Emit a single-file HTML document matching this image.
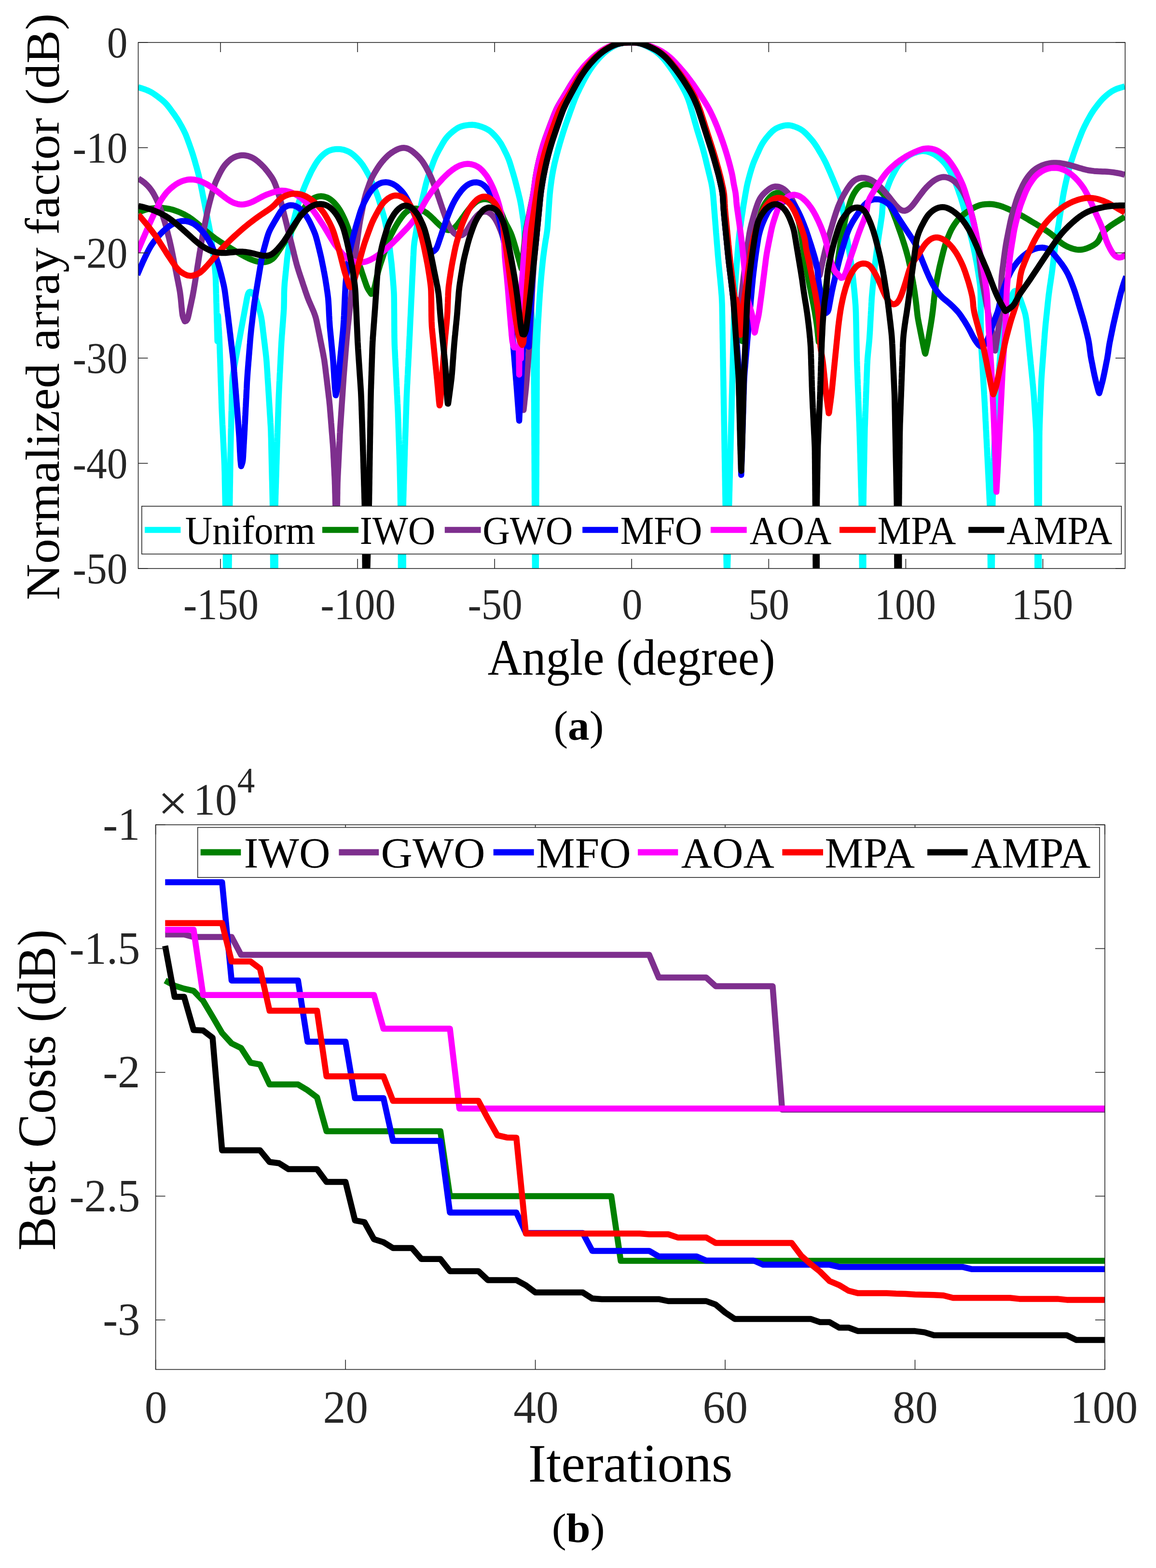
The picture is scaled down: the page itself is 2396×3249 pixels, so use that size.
<!DOCTYPE html><html><head><meta charset="utf-8"><style>html,body{margin:0;padding:0;background:#fff;}svg{display:block;}text{font-family:"Liberation Serif","Times New Roman",serif;}</style></head><body>
<svg xmlns="http://www.w3.org/2000/svg" width="2396" height="3249" viewBox="0 0 2396 3249">
<rect width="2396" height="3249" fill="#fff"/>
<defs><clipPath id="ca"><rect x="286.5" y="88.0" width="2045.5" height="1090.0"/></clipPath><clipPath id="cb"><rect x="322.6" y="1709.0" width="1967.4" height="1128.6"/></clipPath></defs>
<g clip-path="url(#ca)" fill="none" stroke-linejoin="round" stroke-linecap="butt">
<path d="M286.3,180.7 L294.6,183.3 L297.1,184.1 L300.2,185.2 L303.7,186.5 L307.6,188.1 L311.5,190.0 L315.3,192.1 L319.1,194.6 L322.7,197.1 L326.4,199.8 L329.9,202.5 L333.5,205.3 L337.0,208.1 L340.3,211.1 L343.4,214.2 L346.4,217.5 L349.2,221.0 L351.9,224.6 L354.6,228.2 L357.2,231.8 L359.9,235.5 L362.5,239.2 L365.0,242.9 L367.5,246.6 L369.9,250.4 L372.2,254.3 L374.4,258.2 L376.6,262.1 L378.7,266.1 L380.8,270.1 L382.7,274.1 L384.6,278.2 L386.3,282.4 L387.9,286.5 L389.4,290.8 L391.0,295.0 L392.5,299.2 L394.0,303.5 L395.5,307.7 L397.0,312.0 L398.4,316.2 L399.8,320.5 L401.1,324.8 L402.4,329.1 L403.7,333.4 L404.9,337.8 L406.1,342.1 L407.4,346.4 L408.6,350.8 L409.8,355.1 L410.9,359.4 L412.0,363.8 L413.0,368.2 L414.0,372.6 L414.9,377.0 L415.8,381.4 L416.7,385.8 L417.6,390.2 L418.5,394.6 L419.4,399.0 L420.2,403.5 L421.1,407.9 L422.0,412.3 L422.9,416.7 L423.8,421.1 L424.6,425.5 L425.5,429.9 L426.4,434.4 L427.3,438.8 L428.2,443.2 L429.1,447.6 L429.9,452.0 L430.8,456.4 L431.7,460.8 L432.6,465.2 L433.5,469.7 L434.3,474.1 L435.2,478.5 L436.0,482.9 L436.8,487.3 L437.5,491.8 L438.1,496.2 L438.7,500.7 L439.3,505.2 L439.8,509.6 L440.4,514.1 L440.9,518.6 L441.4,523.0 L442.0,527.5 L442.5,532.0 L443.1,536.4 L443.6,540.9 L444.1,545.4 L444.7,549.8 L445.2,554.3 L445.7,558.8 L446.1,563.3 L446.5,567.7 L446.8,572.2 L447.0,576.7 L447.2,581.2 L447.3,585.7 L447.4,590.2 L447.6,594.7 L447.7,599.2 L447.8,603.7 L447.9,608.2 L448.1,612.7 L448.2,617.2 L448.3,621.7 L448.4,626.2 L448.6,630.7 L448.7,635.2 L448.8,639.7 L448.9,644.2 L449.0,648.7 L449.2,653.2 L449.3,657.7 L449.4,662.2 L449.5,666.7 L449.7,671.2 L449.8,675.7 L449.9,680.2 L450.0,684.7 L450.2,689.2 L450.3,693.7 L450.4,698.2 L450.5,702.7 L450.7,707.1 L450.7,706.1 L450.8,701.7 L450.9,697.2 L450.9,692.7 L451.0,688.2 L451.0,683.7 L451.1,679.2 L451.2,674.7 L451.2,670.2 L451.3,665.8 L451.4,661.6 L451.4,657.9 L451.5,655.1 L451.7,653.8 L451.8,654.2 L452.1,656.3 L452.3,659.6 L452.5,663.6 L452.8,667.9 L453.1,672.4 L453.3,676.9 L453.6,681.4 L453.9,685.9 L454.1,690.4 L454.3,694.9 L454.6,699.4 L454.8,703.9 L454.9,708.4 L455.1,712.8 L455.3,717.3 L455.4,721.8 L455.6,726.3 L455.7,730.8 L455.9,735.3 L456.0,739.8 L456.2,744.3 L456.3,748.8 L456.5,753.3 L456.6,757.8 L456.8,762.3 L456.9,766.8 L457.0,771.3 L457.2,775.8 L457.3,780.3 L457.5,784.8 L457.6,789.3 L457.8,793.8 L457.9,798.3 L458.1,802.8 L458.2,807.3 L458.4,811.8 L458.5,816.3 L458.7,820.8 L458.8,825.3 L459.0,829.8 L459.1,834.3 L459.3,838.8 L459.4,843.3 L459.6,847.8 L459.8,852.3 L460.0,856.8 L460.2,861.3 L460.4,865.8 L460.6,870.3 L460.8,874.8 L461.0,879.3 L461.3,883.8 L461.5,888.3 L461.7,892.7 L461.9,897.2 L462.2,901.7 L462.4,906.2 L462.6,910.7 L462.8,915.2 L463.1,919.7 L463.3,924.2 L463.5,928.7 L463.7,933.2 L464.0,937.7 L464.2,942.2 L464.4,946.7 L464.6,951.2 L464.8,955.7 L465.0,960.2 L465.2,964.7 L465.3,969.2 L465.4,973.7 L465.6,978.2 L465.7,982.7 L465.8,987.2 L465.8,991.7 L465.9,996.2 L466.0,1000.7 L466.1,1005.2 L466.2,1009.7 L466.3,1014.2 L466.4,1018.7 L466.5,1023.2 L466.6,1027.7 L466.7,1032.2 L466.8,1036.7 L466.9,1041.2 L467.0,1045.7 L467.0,1050.2 L467.1,1054.7 L467.1,1059.2 L467.2,1063.7 L467.2,1068.2 L467.3,1072.7 L467.3,1077.2 L467.3,1081.7 L467.4,1086.2 L467.4,1090.7 L467.4,1095.2 L467.5,1099.7 L467.5,1104.2 L467.5,1108.7 L467.6,1113.2 L467.6,1117.7 L467.7,1122.2 L467.7,1126.7 L467.7,1131.2 L467.8,1135.7 L467.8,1140.2 L467.8,1144.7 L467.9,1149.2 L467.9,1153.7 L467.9,1158.2 L468.0,1162.7 L468.0,1167.2 L468.1,1171.7 L468.1,1176.2 L468.4,1180.4 L472.2,1181.1 L474.3,1178.7 L474.4,1174.2 L474.5,1169.7 L474.5,1165.2 L474.6,1160.7 L474.6,1156.2 L474.7,1151.7 L474.8,1147.2 L474.8,1142.7 L474.9,1138.2 L475.0,1133.7 L475.0,1129.2 L475.1,1124.7 L475.1,1120.2 L475.2,1115.7 L475.3,1111.2 L475.3,1106.7 L475.4,1102.2 L475.4,1097.7 L475.5,1093.2 L475.6,1088.7 L475.6,1084.2 L475.7,1079.7 L475.7,1075.2 L475.8,1070.7 L475.9,1066.2 L475.9,1061.7 L476.0,1057.2 L476.0,1052.7 L476.1,1048.2 L476.2,1043.7 L476.2,1039.2 L476.3,1034.7 L476.4,1030.2 L476.4,1025.7 L476.5,1021.2 L476.6,1016.7 L476.6,1012.2 L476.7,1007.7 L476.8,1003.2 L476.9,998.7 L476.9,994.2 L477.0,989.7 L477.1,985.2 L477.1,980.7 L477.2,976.2 L477.3,971.7 L477.3,967.2 L477.4,962.7 L477.5,958.2 L477.5,953.7 L477.6,949.2 L477.7,944.7 L477.7,940.2 L477.8,935.7 L477.9,931.2 L478.0,926.7 L478.1,922.2 L478.2,917.7 L478.3,913.2 L478.4,908.7 L478.5,904.2 L478.6,899.7 L478.7,895.2 L478.8,890.7 L479.0,886.2 L479.1,881.7 L479.2,877.2 L479.3,872.7 L479.4,868.2 L479.5,863.7 L479.6,859.2 L479.7,854.7 L479.9,850.2 L480.0,845.7 L480.1,841.2 L480.2,836.7 L480.3,832.2 L480.4,827.7 L480.5,823.2 L480.6,818.7 L480.8,814.2 L480.9,809.7 L481.0,805.2 L481.1,800.7 L481.2,796.3 L481.4,791.8 L481.7,787.3 L482.0,782.8 L482.5,778.3 L483.2,773.9 L483.9,769.5 L484.7,765.0 L485.5,760.6 L486.3,756.2 L487.1,751.8 L487.9,747.3 L488.7,742.9 L489.6,738.5 L490.4,734.1 L491.2,729.6 L492.0,725.2 L492.8,720.8 L493.7,716.4 L494.5,711.9 L495.3,707.5 L496.1,703.1 L497.0,698.7 L497.8,694.2 L498.6,689.8 L499.4,685.4 L500.2,681.0 L501.1,676.5 L501.9,672.1 L502.7,667.7 L503.5,663.3 L504.3,658.8 L505.2,654.4 L506.0,650.0 L506.8,645.6 L507.6,641.1 L508.4,636.7 L509.3,632.3 L510.1,627.9 L510.9,623.4 L511.7,619.0 L512.6,614.8 L513.6,610.8 L514.8,607.5 L516.3,605.3 L518.3,604.5 L520.6,605.2 L523.1,607.1 L525.6,610.1 L527.8,613.6 L529.6,617.5 L531.2,621.6 L532.6,625.8 L534.0,630.1 L535.3,634.4 L536.6,638.7 L537.9,643.0 L539.1,647.4 L540.2,651.7 L541.2,656.1 L542.0,660.5 L542.7,664.9 L543.3,669.4 L543.8,673.9 L544.4,678.3 L544.9,682.8 L545.4,687.3 L546.0,691.7 L546.5,696.2 L547.0,700.7 L547.6,705.1 L548.1,709.6 L548.7,714.1 L549.2,718.5 L549.7,723.0 L550.3,727.5 L550.8,731.9 L551.3,736.4 L551.8,740.9 L552.2,745.4 L552.6,749.9 L552.9,754.3 L553.2,758.8 L553.5,763.3 L553.8,767.8 L554.1,772.3 L554.4,776.8 L554.6,781.3 L554.9,785.8 L555.2,790.3 L555.5,794.8 L555.8,799.3 L556.1,803.7 L556.3,808.2 L556.6,812.7 L556.9,817.2 L557.2,821.7 L557.5,826.2 L557.7,830.7 L558.0,835.2 L558.3,839.7 L558.6,844.2 L558.9,848.7 L559.1,853.2 L559.4,857.6 L559.7,862.1 L560.0,866.6 L560.3,871.1 L560.5,875.6 L560.8,880.1 L561.1,884.6 L561.3,889.1 L561.5,893.6 L561.6,898.1 L561.7,902.6 L561.9,907.1 L562.0,911.6 L562.1,916.1 L562.2,920.6 L562.3,925.1 L562.4,929.6 L562.5,934.1 L562.6,938.6 L562.7,943.1 L562.8,947.6 L562.9,952.1 L563.0,956.6 L563.1,961.1 L563.2,965.6 L563.3,970.1 L563.4,974.6 L563.5,979.1 L563.6,983.6 L563.7,988.1 L563.8,992.6 L564.0,997.1 L564.1,1001.6 L564.2,1006.1 L564.3,1010.6 L564.4,1015.1 L564.5,1019.6 L564.6,1024.1 L564.7,1028.6 L564.8,1033.1 L564.9,1037.6 L565.0,1042.1 L565.1,1046.6 L565.1,1051.1 L565.2,1055.6 L565.2,1060.1 L565.3,1064.6 L565.3,1069.1 L565.3,1073.6 L565.4,1078.1 L565.4,1082.6 L565.4,1087.1 L565.5,1091.6 L565.5,1096.1 L565.5,1100.6 L565.6,1105.1 L565.6,1109.6 L565.7,1114.1 L565.7,1118.6 L565.7,1123.1 L565.8,1127.6 L565.8,1132.1 L565.8,1136.6 L565.9,1141.1 L565.9,1145.6 L565.9,1150.1 L566.0,1154.6 L566.0,1159.1 L566.1,1163.6 L566.1,1168.1 L566.1,1172.6 L566.2,1177.0 L566.9,1180.9 L570.4,1180.3 L570.6,1176.0 L570.6,1171.5 L570.6,1167.0 L570.6,1162.5 L570.6,1158.0 L570.6,1153.5 L570.6,1149.0 L570.6,1144.5 L570.6,1140.0 L570.6,1135.5 L570.6,1131.0 L570.6,1126.5 L570.6,1122.0 L570.6,1117.5 L570.6,1113.0 L570.6,1108.5 L570.6,1104.0 L570.6,1099.5 L570.6,1095.0 L570.6,1090.5 L570.6,1086.0 L570.6,1081.5 L570.6,1077.0 L570.6,1072.5 L570.6,1068.0 L570.6,1063.5 L570.6,1059.0 L570.6,1054.5 L570.6,1050.0 L570.7,1045.5 L570.8,1041.0 L570.9,1036.5 L571.0,1032.0 L571.1,1027.5 L571.3,1023.0 L571.4,1018.5 L571.5,1014.0 L571.7,1009.5 L571.8,1005.0 L572.0,1000.5 L572.1,996.0 L572.2,991.5 L572.4,987.0 L572.5,982.5 L572.6,978.0 L572.8,973.5 L572.9,969.0 L573.0,964.5 L573.2,960.0 L573.3,955.5 L573.5,951.0 L573.6,946.5 L573.7,942.0 L573.9,937.5 L574.0,933.0 L574.1,928.5 L574.3,924.0 L574.4,919.5 L574.6,915.0 L574.7,910.5 L574.9,906.0 L575.0,901.5 L575.2,897.0 L575.3,892.5 L575.5,888.0 L575.6,883.6 L575.8,879.1 L575.9,874.6 L576.1,870.1 L576.2,865.6 L576.4,861.1 L576.5,856.6 L576.7,852.1 L576.8,847.6 L577.0,843.1 L577.1,838.6 L577.3,834.1 L577.4,829.6 L577.6,825.1 L577.8,820.6 L578.0,816.1 L578.2,811.6 L578.4,807.1 L578.6,802.6 L578.8,798.1 L579.0,793.6 L579.3,789.1 L579.5,784.6 L579.7,780.1 L579.9,775.6 L580.2,771.1 L580.4,766.6 L580.6,762.1 L580.8,757.6 L581.1,753.2 L581.3,748.7 L581.5,744.2 L581.7,739.7 L582.0,735.2 L582.2,730.7 L582.4,726.2 L582.6,721.7 L582.9,717.2 L583.1,712.7 L583.4,708.2 L583.7,703.7 L584.0,699.2 L584.3,694.7 L584.7,690.3 L585.0,685.8 L585.3,681.3 L585.7,676.8 L586.0,672.3 L586.4,667.8 L586.7,663.3 L587.0,658.8 L587.4,654.3 L587.7,649.9 L588.0,645.4 L588.3,640.9 L588.5,636.4 L588.6,631.9 L588.7,627.4 L588.8,622.9 L588.8,618.4 L588.9,613.9 L588.9,609.4 L589.0,604.9 L589.2,600.4 L589.4,595.9 L589.7,591.4 L590.0,586.9 L590.4,582.5 L590.9,578.0 L591.3,573.5 L591.8,569.0 L592.2,564.5 L592.7,560.1 L593.1,555.6 L593.6,551.1 L594.0,546.6 L594.5,542.2 L594.9,537.7 L595.5,533.2 L596.0,528.8 L596.6,524.3 L597.3,519.8 L598.0,515.4 L598.7,511.0 L599.4,506.5 L600.1,502.1 L600.8,497.6 L601.5,493.2 L602.2,488.7 L603.0,484.3 L603.8,479.9 L604.6,475.4 L605.5,471.0 L606.5,466.7 L607.5,462.3 L608.6,457.9 L609.7,453.5 L610.8,449.2 L611.9,444.8 L613.0,440.4 L614.1,436.1 L615.3,431.8 L616.6,427.5 L618.0,423.2 L619.4,418.9 L620.9,414.7 L622.4,410.4 L623.9,406.2 L625.4,401.9 L626.9,397.7 L628.5,393.5 L630.2,389.3 L631.9,385.2 L633.6,381.0 L635.4,376.9 L637.2,372.8 L639.0,368.6 L640.9,364.5 L642.8,360.5 L644.7,356.4 L646.8,352.4 L649.0,348.5 L651.2,344.6 L653.5,340.7 L655.8,336.9 L658.3,333.2 L661.0,329.7 L663.9,326.3 L667.0,323.1 L670.3,320.1 L673.7,317.3 L677.3,314.8 L681.1,312.8 L685.1,311.2 L689.3,310.0 L693.6,309.3 L698.0,308.9 L702.4,308.9 L706.7,309.3 L711.0,310.1 L715.2,311.3 L719.4,312.8 L723.4,314.7 L727.1,316.9 L730.7,319.5 L734.1,322.3 L737.4,325.3 L740.6,328.5 L743.6,331.7 L746.6,335.1 L749.4,338.6 L752.0,342.2 L754.4,346.0 L756.7,349.8 L759.0,353.7 L761.2,357.6 L763.4,361.6 L765.5,365.5 L767.5,369.5 L769.4,373.6 L771.2,377.7 L773.0,381.9 L774.7,386.0 L776.4,390.2 L778.1,394.3 L779.8,398.5 L781.4,402.7 L782.9,406.9 L784.4,411.2 L785.8,415.5 L787.1,419.8 L788.4,424.1 L789.7,428.4 L791.0,432.7 L792.3,437.0 L793.5,441.3 L794.8,445.6 L795.9,450.0 L797.0,454.4 L798.0,458.7 L798.9,463.1 L799.8,467.6 L800.7,472.0 L801.6,476.4 L802.5,480.8 L803.3,485.2 L804.2,489.6 L804.9,494.1 L805.6,498.5 L806.3,503.0 L806.9,507.4 L807.4,511.9 L808.0,516.3 L808.5,520.8 L809.1,525.3 L809.6,529.8 L810.1,534.2 L810.6,538.7 L811.2,543.2 L811.7,547.6 L812.1,552.1 L812.5,556.6 L812.9,561.1 L813.3,565.6 L813.7,570.0 L814.1,574.5 L814.4,579.0 L814.8,583.5 L815.1,588.0 L815.5,592.5 L815.8,597.0 L816.1,601.4 L816.4,605.9 L816.6,610.4 L816.7,614.9 L816.8,619.4 L816.8,623.9 L816.9,628.4 L816.9,632.9 L816.9,637.4 L817.0,641.9 L817.0,646.4 L817.1,650.9 L817.1,655.4 L817.1,659.9 L817.2,664.4 L817.2,668.9 L817.2,673.4 L817.3,677.9 L817.3,682.4 L817.3,686.9 L817.4,691.4 L817.4,695.9 L817.5,700.4 L817.6,704.9 L817.7,709.4 L817.8,713.9 L818.0,718.4 L818.2,722.9 L818.5,727.4 L818.7,731.9 L818.9,736.4 L819.1,740.9 L819.4,745.4 L819.6,749.9 L819.8,754.4 L820.0,758.9 L820.3,763.4 L820.5,767.9 L820.7,772.4 L820.9,776.9 L821.1,781.4 L821.4,785.8 L821.6,790.3 L821.8,794.8 L822.0,799.3 L822.3,803.8 L822.5,808.3 L822.7,812.8 L822.9,817.3 L823.2,821.8 L823.4,826.3 L823.6,830.8 L823.8,835.3 L824.1,839.8 L824.3,844.3 L824.5,848.8 L824.7,853.3 L824.9,857.8 L825.0,862.3 L825.2,866.8 L825.4,871.3 L825.5,875.8 L825.7,880.3 L825.8,884.8 L826.0,889.3 L826.1,893.8 L826.3,898.3 L826.4,902.8 L826.6,907.2 L826.7,911.7 L826.9,916.2 L827.0,920.7 L827.2,925.2 L827.3,929.7 L827.5,934.2 L827.6,938.7 L827.8,943.2 L827.9,947.7 L828.1,952.2 L828.2,956.7 L828.3,961.2 L828.5,965.7 L828.6,970.2 L828.7,974.7 L828.8,979.2 L828.9,983.7 L829.0,988.2 L829.1,992.7 L829.2,997.2 L829.3,1001.7 L829.4,1006.2 L829.5,1010.7 L829.6,1015.2 L829.7,1019.7 L829.8,1024.2 L829.8,1028.7 L829.9,1033.2 L830.0,1037.7 L830.1,1042.2 L830.2,1046.7 L830.2,1051.2 L830.3,1055.7 L830.3,1060.2 L830.3,1064.7 L830.4,1069.2 L830.4,1073.7 L830.4,1078.2 L830.4,1082.7 L830.5,1087.2 L830.5,1091.7 L830.5,1096.2 L830.5,1100.7 L830.6,1105.2 L830.6,1109.7 L830.6,1114.2 L830.6,1118.7 L830.7,1123.2 L830.7,1127.7 L830.7,1132.2 L830.7,1136.7 L830.8,1141.2 L830.8,1145.7 L830.8,1150.2 L830.8,1154.7 L830.9,1159.2 L830.9,1163.7 L830.9,1168.2 L830.9,1172.7 L831.0,1177.2 L831.8,1180.9 L835.5,1180.5 L835.7,1176.2 L835.7,1171.7 L835.7,1167.2 L835.7,1162.7 L835.7,1158.2 L835.7,1153.7 L835.7,1149.2 L835.7,1144.7 L835.7,1140.2 L835.7,1135.7 L835.7,1131.2 L835.7,1126.7 L835.7,1122.2 L835.7,1117.7 L835.7,1113.2 L835.7,1108.7 L835.7,1104.2 L835.7,1099.7 L835.7,1095.2 L835.7,1090.7 L835.7,1086.2 L835.7,1081.7 L835.7,1077.2 L835.7,1072.7 L835.7,1068.2 L835.7,1063.7 L835.7,1059.2 L835.7,1054.7 L835.8,1050.2 L835.8,1045.7 L835.9,1041.2 L836.0,1036.7 L836.1,1032.2 L836.3,1027.7 L836.4,1023.2 L836.5,1018.7 L836.7,1014.2 L836.8,1009.7 L836.9,1005.2 L837.1,1000.7 L837.2,996.2 L837.4,991.7 L837.5,987.2 L837.6,982.7 L837.8,978.2 L837.9,973.7 L838.0,969.2 L838.2,964.7 L838.3,960.2 L838.4,955.7 L838.6,951.2 L838.7,946.7 L838.9,942.2 L839.0,937.7 L839.1,933.2 L839.3,928.7 L839.4,924.2 L839.6,919.7 L839.7,915.2 L839.9,910.7 L840.0,906.2 L840.2,901.8 L840.3,897.3 L840.5,892.8 L840.6,888.3 L840.8,883.8 L840.9,879.3 L841.1,874.8 L841.2,870.3 L841.4,865.8 L841.5,861.3 L841.7,856.8 L841.8,852.3 L842.0,847.8 L842.1,843.3 L842.3,838.8 L842.4,834.3 L842.6,829.8 L842.7,825.3 L842.9,820.8 L843.1,816.3 L843.3,811.8 L843.5,807.3 L843.7,802.8 L843.9,798.3 L844.2,793.8 L844.4,789.3 L844.6,784.8 L844.8,780.3 L845.1,775.8 L845.3,771.3 L845.5,766.8 L845.7,762.3 L846.0,757.9 L846.2,753.4 L846.4,748.9 L846.6,744.4 L846.9,739.9 L847.1,735.4 L847.3,730.9 L847.5,726.4 L847.8,721.9 L848.0,717.4 L848.2,712.9 L848.4,708.4 L848.6,703.9 L848.8,699.4 L849.1,694.9 L849.3,690.4 L849.5,685.9 L849.7,681.4 L849.9,676.9 L850.1,672.4 L850.3,667.9 L850.5,663.5 L850.7,659.0 L851.0,654.5 L851.2,650.0 L851.4,645.5 L851.6,641.0 L851.8,636.5 L852.0,632.0 L852.2,627.5 L852.4,623.0 L852.6,618.5 L852.9,614.0 L853.1,609.5 L853.3,605.0 L853.5,600.5 L853.7,596.0 L853.9,591.5 L854.1,587.0 L854.3,582.5 L854.5,578.0 L854.7,573.5 L855.0,569.0 L855.2,564.5 L855.4,560.1 L855.6,555.6 L855.8,551.1 L856.0,546.6 L856.2,542.1 L856.4,537.6 L856.6,533.1 L856.9,528.6 L857.1,524.1 L857.3,519.6 L857.6,515.1 L857.9,510.6 L858.4,506.2 L858.9,501.7 L859.6,497.2 L860.3,492.8 L861.0,488.4 L861.7,483.9 L862.5,479.5 L863.2,475.0 L863.9,470.6 L864.7,466.2 L865.4,461.7 L866.2,457.3 L866.9,452.9 L867.7,448.4 L868.5,444.0 L869.4,439.6 L870.3,435.2 L871.3,430.8 L872.2,426.4 L873.3,422.0 L874.3,417.6 L875.3,413.2 L876.3,408.9 L877.3,404.5 L878.4,400.1 L879.4,395.7 L880.4,391.3 L881.5,386.9 L882.5,382.6 L883.7,378.2 L884.9,373.9 L886.2,369.6 L887.6,365.3 L889.1,361.1 L890.6,356.9 L892.1,352.6 L893.7,348.4 L895.2,344.2 L896.8,339.9 L898.3,335.7 L900.0,331.5 L901.7,327.4 L903.5,323.3 L905.5,319.3 L907.5,315.3 L909.6,311.3 L911.8,307.4 L914.0,303.4 L916.2,299.5 L918.4,295.6 L920.8,291.8 L923.3,288.1 L926.0,284.6 L928.9,281.3 L932.1,278.2 L935.4,275.2 L938.8,272.3 L942.3,269.6 L945.9,267.0 L949.7,264.7 L953.6,262.9 L957.7,261.5 L962.0,260.4 L966.3,259.6 L970.7,259.1 L975.2,258.7 L979.6,258.6 L983.9,259.0 L988.2,259.8 L992.5,260.9 L996.7,262.2 L1000.9,263.7 L1005.1,265.4 L1009.0,267.3 L1012.8,269.5 L1016.4,272.1 L1019.7,275.0 L1022.8,278.1 L1025.9,281.4 L1028.9,284.7 L1031.7,288.2 L1034.4,291.7 L1036.9,295.4 L1039.3,299.2 L1041.4,303.1 L1043.5,307.1 L1045.5,311.1 L1047.5,315.2 L1049.5,319.2 L1051.4,323.3 L1053.2,327.4 L1054.8,331.6 L1056.3,335.8 L1057.7,340.1 L1059.0,344.4 L1060.3,348.7 L1061.6,353.0 L1062.9,357.3 L1064.2,361.6 L1065.4,365.9 L1066.7,370.3 L1067.9,374.6 L1069.0,378.9 L1070.2,383.3 L1071.3,387.7 L1072.4,392.0 L1073.5,396.4 L1074.6,400.8 L1075.6,405.1 L1076.7,409.5 L1077.7,413.9 L1078.6,418.3 L1079.4,422.7 L1080.2,427.1 L1080.9,431.6 L1081.6,436.0 L1082.2,440.5 L1082.9,444.9 L1083.5,449.4 L1084.2,453.8 L1084.7,458.3 L1085.3,462.8 L1085.7,467.3 L1086.0,471.7 L1086.4,476.2 L1086.7,480.7 L1086.9,485.2 L1087.2,489.7 L1087.5,494.2 L1087.8,498.7 L1088.1,503.2 L1088.3,507.7 L1088.6,512.2 L1088.9,516.6 L1089.3,521.1 L1089.7,525.6 L1090.0,530.1 L1090.5,534.6 L1090.9,539.1 L1091.4,543.5 L1091.8,548.0 L1092.2,552.5 L1092.7,557.0 L1093.1,561.4 L1093.6,565.9 L1094.0,570.4 L1094.5,574.9 L1094.9,579.4 L1095.4,583.8 L1095.8,588.3 L1096.3,592.8 L1096.7,597.3 L1097.2,601.8 L1097.6,606.2 L1098.1,610.7 L1098.5,615.2 L1099.0,619.7 L1099.4,624.1 L1099.9,628.6 L1100.3,633.1 L1100.8,637.6 L1101.2,642.1 L1101.6,646.5 L1102.0,651.0 L1102.4,655.5 L1102.8,660.0 L1103.1,664.5 L1103.5,669.0 L1103.8,673.5 L1104.1,677.9 L1104.5,682.4 L1104.8,686.9 L1105.1,691.4 L1105.3,695.9 L1105.6,700.4 L1105.8,704.9 L1106.0,709.4 L1106.1,713.9 L1106.3,718.4 L1106.4,722.9 L1106.4,727.4 L1106.5,731.9 L1106.5,736.4 L1106.5,740.9 L1106.6,745.4 L1106.6,749.9 L1106.6,754.4 L1106.6,758.9 L1106.7,763.4 L1106.7,767.9 L1106.7,772.4 L1106.7,776.9 L1106.8,781.4 L1106.8,785.9 L1106.8,790.4 L1106.8,794.9 L1106.9,799.4 L1106.9,803.9 L1106.9,808.4 L1106.9,812.9 L1107.0,817.4 L1107.0,821.9 L1107.0,826.4 L1107.0,830.9 L1107.1,835.4 L1107.1,839.9 L1107.1,844.4 L1107.1,848.9 L1107.2,853.4 L1107.2,857.9 L1107.2,862.4 L1107.2,866.9 L1107.3,871.4 L1107.3,875.9 L1107.3,880.4 L1107.3,884.9 L1107.4,889.4 L1107.4,893.9 L1107.4,898.4 L1107.4,902.9 L1107.5,907.4 L1107.5,911.9 L1107.5,916.4 L1107.5,920.9 L1107.6,925.4 L1107.6,929.9 L1107.6,934.4 L1107.6,938.9 L1107.7,943.4 L1107.7,947.9 L1107.7,952.4 L1107.7,956.9 L1107.8,961.4 L1107.8,965.9 L1107.8,970.4 L1107.8,974.9 L1107.9,979.4 L1107.9,983.9 L1107.9,988.4 L1107.9,992.9 L1108.0,997.4 L1108.0,1001.9 L1108.0,1006.4 L1108.0,1010.9 L1108.1,1015.4 L1108.1,1019.9 L1108.1,1024.4 L1108.1,1028.9 L1108.2,1033.4 L1108.2,1037.9 L1108.2,1042.4 L1108.2,1046.9 L1108.3,1051.4 L1108.3,1055.9 L1108.3,1060.4 L1108.3,1064.9 L1108.4,1069.4 L1108.4,1073.9 L1108.4,1078.4 L1108.4,1082.9 L1108.4,1087.4 L1108.5,1091.9 L1108.5,1096.4 L1108.5,1100.9 L1108.5,1105.4 L1108.6,1109.9 L1108.6,1114.4 L1108.6,1118.9 L1108.6,1123.4 L1108.7,1127.9 L1108.7,1132.4 L1108.7,1136.9 L1108.7,1141.4 L1108.8,1145.9 L1108.8,1150.4 L1108.8,1154.9 L1108.8,1159.4 L1108.9,1163.9 L1108.9,1168.4 L1108.9,1172.9 L1109.0,1177.4 L1110.5,1179.6 L1110.8,1175.4 L1110.8,1170.9 L1110.8,1166.4 L1110.9,1161.9 L1110.9,1157.4 L1110.9,1152.9 L1110.9,1148.4 L1110.9,1143.9 L1111.0,1139.4 L1111.0,1134.9 L1111.0,1130.4 L1111.0,1125.9 L1111.0,1121.4 L1111.1,1116.9 L1111.1,1112.4 L1111.1,1107.9 L1111.1,1103.4 L1111.1,1098.9 L1111.2,1094.4 L1111.2,1089.9 L1111.2,1085.4 L1111.2,1080.9 L1111.2,1076.4 L1111.3,1071.9 L1111.3,1067.4 L1111.3,1062.9 L1111.3,1058.4 L1111.3,1053.9 L1111.4,1049.4 L1111.4,1044.9 L1111.4,1040.4 L1111.4,1035.9 L1111.4,1031.4 L1111.5,1026.9 L1111.5,1022.4 L1111.5,1017.9 L1111.5,1013.4 L1111.5,1008.9 L1111.6,1004.4 L1111.6,999.9 L1111.6,995.4 L1111.6,990.9 L1111.7,986.4 L1111.7,981.9 L1111.7,977.4 L1111.7,972.9 L1111.7,968.4 L1111.8,963.9 L1111.8,959.4 L1111.8,954.9 L1111.8,950.4 L1111.8,945.9 L1111.9,941.4 L1111.9,936.9 L1111.9,932.4 L1111.9,927.9 L1111.9,923.4 L1112.0,918.9 L1112.0,914.4 L1112.0,909.9 L1112.0,905.4 L1112.0,900.9 L1112.1,896.4 L1112.1,891.9 L1112.1,887.4 L1112.1,882.9 L1112.1,878.4 L1112.2,873.9 L1112.2,869.4 L1112.2,864.9 L1112.2,860.4 L1112.2,855.9 L1112.3,851.4 L1112.3,846.9 L1112.3,842.4 L1112.3,837.9 L1112.3,833.4 L1112.4,828.9 L1112.4,824.4 L1112.4,819.9 L1112.4,815.4 L1112.4,810.9 L1112.5,806.4 L1112.5,801.9 L1112.5,797.4 L1112.5,792.9 L1112.5,788.4 L1112.6,783.9 L1112.6,779.4 L1112.6,774.9 L1112.6,770.4 L1112.6,765.9 L1112.7,761.4 L1112.7,756.9 L1112.7,752.4 L1112.7,747.9 L1112.8,743.4 L1112.8,738.9 L1112.8,734.4 L1112.8,729.9 L1112.8,725.4 L1112.9,720.9 L1113.0,716.4 L1113.2,711.9 L1113.4,707.4 L1113.6,702.9 L1113.8,698.4 L1114.0,693.9 L1114.2,689.4 L1114.5,684.9 L1114.7,680.4 L1114.9,675.9 L1115.1,671.4 L1115.4,666.9 L1115.6,662.4 L1115.9,658.0 L1116.2,653.5 L1116.4,649.0 L1116.7,644.5 L1117.0,640.0 L1117.2,635.5 L1117.5,631.0 L1117.8,626.5 L1118.1,622.0 L1118.4,617.5 L1118.7,613.0 L1119.0,608.5 L1119.4,604.1 L1119.7,599.6 L1120.0,595.1 L1120.4,590.6 L1120.7,586.1 L1121.1,581.6 L1121.5,577.1 L1121.9,572.7 L1122.3,568.2 L1122.7,563.7 L1123.2,559.2 L1123.6,554.7 L1124.1,550.3 L1124.5,545.8 L1125.0,541.3 L1125.5,536.8 L1126.0,532.4 L1126.6,527.9 L1127.2,523.4 L1127.8,519.0 L1128.4,514.5 L1129.1,510.1 L1129.7,505.6 L1130.4,501.2 L1131.1,496.7 L1131.9,492.3 L1132.6,487.9 L1133.3,483.4 L1133.9,479.0 L1134.5,474.5 L1134.9,470.0 L1135.2,465.6 L1135.5,461.1 L1135.8,456.6 L1136.1,452.1 L1136.4,447.6 L1136.7,443.1 L1137.0,438.6 L1137.3,434.1 L1137.6,429.6 L1137.9,425.1 L1138.2,420.7 L1138.5,416.2 L1138.8,411.7 L1139.2,407.2 L1139.5,402.7 L1140.0,398.2 L1140.4,393.8 L1141.0,389.3 L1141.5,384.8 L1142.1,380.4 L1142.7,375.9 L1143.3,371.4 L1144.0,367.0 L1144.7,362.6 L1145.5,358.1 L1146.3,353.7 L1147.2,349.3 L1148.1,344.9 L1149.0,340.5 L1150.0,336.1 L1151.1,331.7 L1152.2,327.3 L1153.3,323.0 L1154.4,318.6 L1155.6,314.3 L1156.7,309.9 L1158.0,305.6 L1159.2,301.3 L1160.4,296.9 L1161.7,292.6 L1163.0,288.3 L1164.3,284.0 L1165.6,279.7 L1166.9,275.4 L1168.3,271.1 L1169.7,266.8 L1171.1,262.6 L1172.5,258.3 L1174.0,254.0 L1175.5,249.8 L1177.0,245.5 L1178.5,241.3 L1180.0,237.1 L1181.5,232.8 L1183.0,228.6 L1184.6,224.4 L1186.1,220.1 L1187.6,215.9 L1189.2,211.7 L1190.8,207.5 L1192.4,203.3 L1194.2,199.2 L1196.0,195.1 L1197.9,191.0 L1199.9,186.9 L1201.8,182.9 L1203.8,178.9 L1205.9,174.8 L1207.9,170.8 L1210.0,166.8 L1212.1,162.9 L1214.3,158.9 L1216.5,155.0 L1218.8,151.2 L1221.2,147.4 L1223.7,143.6 L1226.2,139.9 L1228.8,136.2 L1231.5,132.7 L1234.3,129.1 L1237.2,125.7 L1240.1,122.2 L1243.1,118.9 L1246.2,115.7 L1249.4,112.5 L1252.7,109.5 L1256.1,106.6 L1259.7,103.8 L1263.3,101.2 L1267.1,98.8 L1270.9,96.5 L1274.8,94.4 L1278.9,92.6 L1283.0,91.1 L1287.3,90.0 L1291.7,89.1 L1296.1,88.5 L1300.6,88.2 L1305.0,88.0 L1309.5,88.0 L1314.0,88.1 L1318.4,88.6 L1322.8,89.3 L1327.0,90.4 L1331.2,91.9 L1335.4,93.5 L1339.5,95.4 L1343.5,97.3 L1347.5,99.4 L1351.4,101.6 L1355.2,103.9 L1358.9,106.4 L1362.4,109.2 L1365.8,112.1 L1369.1,115.1 L1372.2,118.3 L1375.2,121.6 L1378.1,125.1 L1380.9,128.6 L1383.6,132.2 L1386.2,135.8 L1388.8,139.5 L1391.4,143.2 L1394.0,146.9 L1396.5,150.6 L1398.9,154.4 L1401.4,158.2 L1403.7,162.0 L1406.1,165.9 L1408.3,169.7 L1410.6,173.6 L1412.8,177.5 L1415.0,181.5 L1417.1,185.4 L1419.2,189.4 L1421.2,193.4 L1423.1,197.5 L1424.8,201.6 L1426.4,205.8 L1427.9,210.1 L1429.3,214.3 L1430.6,218.6 L1431.8,223.0 L1433.1,227.3 L1434.3,231.6 L1435.6,235.9 L1436.8,240.3 L1438.0,244.6 L1439.2,248.9 L1440.4,253.3 L1441.7,257.6 L1442.9,261.9 L1444.1,266.3 L1445.4,270.6 L1446.7,274.9 L1448.0,279.2 L1449.3,283.5 L1450.7,287.8 L1452.0,292.1 L1453.3,296.4 L1454.6,300.7 L1455.9,305.0 L1457.1,309.4 L1458.3,313.7 L1459.5,318.0 L1460.6,322.4 L1461.7,326.7 L1462.8,331.1 L1463.8,335.5 L1464.9,339.9 L1465.9,344.2 L1467.0,348.6 L1468.1,353.0 L1469.1,357.4 L1470.2,361.7 L1471.3,366.1 L1472.3,370.5 L1473.4,374.8 L1474.4,379.2 L1475.2,383.6 L1476.0,388.1 L1476.7,392.5 L1477.2,397.0 L1477.7,401.4 L1478.2,405.9 L1478.6,410.4 L1478.9,414.9 L1479.3,419.4 L1479.6,423.9 L1480.0,428.3 L1480.3,432.8 L1480.7,437.3 L1481.0,441.8 L1481.4,446.3 L1481.7,450.8 L1482.1,455.3 L1482.5,459.7 L1482.8,464.2 L1483.2,468.7 L1483.5,473.2 L1483.9,477.7 L1484.2,482.2 L1484.6,486.7 L1485.0,491.1 L1485.3,495.6 L1485.7,500.1 L1486.0,504.6 L1486.4,509.1 L1486.8,513.6 L1487.1,518.1 L1487.5,522.6 L1487.8,527.0 L1488.2,531.5 L1488.6,536.0 L1489.0,540.5 L1489.4,545.0 L1489.8,549.5 L1490.3,553.9 L1490.7,558.4 L1491.1,562.9 L1491.6,567.4 L1492.0,571.8 L1492.5,576.3 L1492.9,580.8 L1493.3,585.3 L1493.7,589.8 L1494.2,594.2 L1494.5,598.7 L1494.9,603.2 L1495.3,607.7 L1495.7,612.2 L1496.0,616.7 L1496.2,621.2 L1496.4,625.7 L1496.6,630.2 L1496.7,634.7 L1496.8,639.2 L1496.8,643.7 L1496.9,648.2 L1497.0,652.7 L1497.1,657.2 L1497.1,661.7 L1497.2,666.2 L1497.3,670.7 L1497.4,675.2 L1497.4,679.7 L1497.5,684.2 L1497.6,688.7 L1497.7,693.2 L1497.7,697.7 L1497.8,702.2 L1497.9,706.7 L1498.0,711.2 L1498.1,715.7 L1498.1,720.1 L1498.2,724.6 L1498.3,729.1 L1498.4,733.6 L1498.4,738.1 L1498.5,742.6 L1498.6,747.1 L1498.7,751.6 L1498.7,756.1 L1498.8,760.6 L1498.9,765.1 L1499.0,769.6 L1499.0,774.1 L1499.1,778.6 L1499.2,783.1 L1499.3,787.6 L1499.4,792.1 L1499.4,796.6 L1499.5,801.1 L1499.6,805.6 L1499.7,810.1 L1499.7,814.6 L1499.8,819.1 L1499.9,823.6 L1500.0,828.1 L1500.0,832.6 L1500.1,837.1 L1500.2,841.6 L1500.3,846.1 L1500.3,850.6 L1500.4,855.1 L1500.5,859.6 L1500.6,864.1 L1500.6,868.6 L1500.7,873.1 L1500.8,877.6 L1500.9,882.1 L1501.0,886.6 L1501.0,891.1 L1501.1,895.6 L1501.2,900.1 L1501.3,904.6 L1501.3,909.1 L1501.4,913.6 L1501.5,918.1 L1501.6,922.6 L1501.6,927.1 L1501.7,931.6 L1501.8,936.1 L1501.9,940.6 L1501.9,945.1 L1502.0,949.6 L1502.1,954.1 L1502.2,958.6 L1502.3,963.1 L1502.3,967.6 L1502.4,972.1 L1502.5,976.6 L1502.6,981.1 L1502.6,985.6 L1502.7,990.1 L1502.8,994.6 L1502.9,999.1 L1502.9,1003.6 L1503.0,1008.1 L1503.1,1012.6 L1503.2,1017.1 L1503.2,1021.6 L1503.3,1026.1 L1503.4,1030.6 L1503.5,1035.1 L1503.5,1039.6 L1503.6,1044.1 L1503.7,1048.6 L1503.8,1053.1 L1503.9,1057.6 L1503.9,1062.1 L1504.0,1066.6 L1504.1,1071.1 L1504.2,1075.6 L1504.2,1080.1 L1504.3,1084.6 L1504.4,1089.1 L1504.5,1093.6 L1504.5,1098.1 L1504.6,1102.6 L1504.7,1107.1 L1504.8,1111.6 L1504.8,1116.1 L1504.9,1120.6 L1505.0,1125.1 L1505.1,1129.6 L1505.2,1134.1 L1505.2,1138.6 L1505.3,1143.1 L1505.4,1147.6 L1505.5,1152.1 L1505.5,1156.6 L1505.6,1161.1 L1505.7,1165.6 L1505.8,1170.1 L1505.9,1174.6 L1506.1,1178.9 L1507.7,1178.2 L1507.9,1173.7 L1508.0,1169.2 L1508.1,1164.7 L1508.3,1160.2 L1508.4,1155.7 L1508.5,1151.2 L1508.6,1146.7 L1508.7,1142.2 L1508.8,1137.7 L1509.0,1133.2 L1509.1,1128.7 L1509.2,1124.2 L1509.3,1119.7 L1509.4,1115.2 L1509.5,1110.7 L1509.6,1106.2 L1509.8,1101.7 L1509.9,1097.2 L1510.0,1092.7 L1510.1,1088.2 L1510.2,1083.7 L1510.3,1079.2 L1510.5,1074.7 L1510.6,1070.2 L1510.7,1065.7 L1510.8,1061.2 L1510.9,1056.7 L1511.0,1052.2 L1511.1,1047.7 L1511.3,1043.2 L1511.4,1038.7 L1511.5,1034.3 L1511.6,1029.8 L1511.7,1025.3 L1511.8,1020.8 L1512.0,1016.3 L1512.1,1011.8 L1512.2,1007.3 L1512.3,1002.8 L1512.4,998.3 L1512.5,993.8 L1512.7,989.3 L1512.8,984.8 L1512.9,980.3 L1513.0,975.8 L1513.1,971.3 L1513.2,966.8 L1513.3,962.3 L1513.5,957.8 L1513.6,953.3 L1513.7,948.8 L1513.8,944.3 L1513.9,939.8 L1514.0,935.3 L1514.2,930.8 L1514.3,926.3 L1514.4,921.8 L1514.5,917.3 L1514.6,912.8 L1514.7,908.3 L1514.8,903.8 L1515.0,899.3 L1515.1,894.8 L1515.2,890.3 L1515.3,885.8 L1515.4,881.3 L1515.5,876.8 L1515.7,872.3 L1515.8,867.8 L1515.9,863.3 L1516.0,858.8 L1516.1,854.3 L1516.2,849.8 L1516.4,845.3 L1516.5,840.8 L1516.6,836.3 L1516.7,831.8 L1516.8,827.3 L1516.9,822.8 L1517.0,818.3 L1517.2,813.8 L1517.3,809.3 L1517.4,804.8 L1517.5,800.3 L1517.6,795.8 L1517.7,791.3 L1517.9,786.8 L1518.0,782.3 L1518.1,777.8 L1518.2,773.3 L1518.3,768.8 L1518.4,764.3 L1518.5,759.8 L1518.7,755.3 L1518.8,750.8 L1518.9,746.3 L1519.0,741.8 L1519.1,737.3 L1519.2,732.8 L1519.4,728.3 L1519.5,723.8 L1519.6,719.3 L1519.7,714.8 L1519.8,710.3 L1519.9,705.8 L1520.1,701.3 L1520.2,696.8 L1520.3,692.3 L1520.4,687.8 L1520.5,683.3 L1520.6,678.8 L1520.7,674.3 L1520.9,669.8 L1521.0,665.3 L1521.1,660.8 L1521.2,656.3 L1521.3,651.8 L1521.4,647.3 L1521.6,642.8 L1521.7,638.3 L1521.8,633.8 L1521.9,629.3 L1522.1,624.8 L1522.2,620.3 L1522.4,615.8 L1522.7,611.3 L1522.9,606.9 L1523.2,602.4 L1523.4,597.9 L1523.7,593.4 L1524.0,588.9 L1524.3,584.4 L1524.6,579.9 L1524.9,575.4 L1525.2,570.9 L1525.6,566.4 L1525.9,562.0 L1526.2,557.5 L1526.6,553.0 L1526.9,548.5 L1527.3,544.0 L1527.6,539.5 L1527.9,535.0 L1528.3,530.5 L1528.6,526.0 L1528.9,521.6 L1529.3,517.1 L1529.6,512.6 L1530.0,508.1 L1530.4,503.6 L1530.8,499.1 L1531.3,494.7 L1531.8,490.2 L1532.4,485.7 L1532.9,481.3 L1533.5,476.8 L1534.1,472.3 L1534.8,467.9 L1535.4,463.4 L1536.0,459.0 L1536.7,454.5 L1537.3,450.1 L1538.0,445.6 L1538.7,441.2 L1539.4,436.7 L1540.0,432.3 L1540.7,427.8 L1541.4,423.4 L1542.2,418.9 L1542.9,414.5 L1543.7,410.1 L1544.4,405.6 L1545.2,401.2 L1546.0,396.8 L1546.8,392.3 L1547.6,387.9 L1548.5,383.5 L1549.5,379.1 L1550.6,374.8 L1551.7,370.4 L1552.9,366.1 L1554.1,361.7 L1555.3,357.4 L1556.6,353.1 L1557.9,348.8 L1559.3,344.5 L1560.7,340.3 L1562.3,336.1 L1564.0,331.9 L1565.8,327.8 L1567.6,323.7 L1569.4,319.6 L1571.3,315.5 L1573.1,311.4 L1575.0,307.3 L1577.0,303.3 L1579.1,299.3 L1581.4,295.5 L1583.9,291.8 L1586.5,288.2 L1589.3,284.7 L1592.2,281.2 L1595.1,277.9 L1598.2,274.6 L1601.3,271.5 L1604.7,268.8 L1608.3,266.4 L1612.2,264.5 L1616.3,262.9 L1620.5,261.5 L1624.8,260.4 L1629.0,259.7 L1633.3,259.5 L1637.5,259.8 L1641.8,260.7 L1646.0,262.0 L1650.1,263.5 L1654.2,265.2 L1658.1,267.2 L1661.9,269.5 L1665.4,272.1 L1668.7,275.0 L1671.9,278.2 L1675.0,281.4 L1678.0,284.7 L1681.0,288.1 L1683.9,291.5 L1686.6,295.1 L1689.2,298.7 L1691.7,302.4 L1694.1,306.2 L1696.4,310.1 L1698.7,314.0 L1701.0,317.8 L1703.2,321.7 L1705.5,325.6 L1707.6,329.6 L1709.7,333.6 L1711.7,337.6 L1713.6,341.7 L1715.4,345.8 L1717.3,349.9 L1719.1,354.0 L1720.9,358.1 L1722.7,362.3 L1724.4,366.4 L1726.2,370.5 L1727.9,374.7 L1729.7,378.8 L1731.4,383.0 L1733.1,387.2 L1734.8,391.3 L1736.5,395.5 L1738.1,399.7 L1739.6,403.9 L1741.0,408.2 L1742.2,412.5 L1743.3,416.9 L1744.3,421.2 L1745.3,425.6 L1746.2,430.0 L1747.0,434.4 L1747.8,438.9 L1748.4,443.3 L1748.9,447.8 L1749.4,452.3 L1749.8,456.7 L1750.2,461.2 L1750.7,465.7 L1751.3,470.1 L1751.9,474.6 L1752.7,479.0 L1753.5,483.4 L1754.4,487.8 L1755.2,492.3 L1756.1,496.7 L1756.9,501.1 L1757.7,505.5 L1758.5,510.0 L1759.2,514.4 L1759.9,518.8 L1760.7,523.3 L1761.4,527.7 L1762.1,532.2 L1762.8,536.6 L1763.5,541.1 L1764.1,545.5 L1764.7,550.0 L1765.3,554.4 L1765.9,558.9 L1766.5,563.4 L1767.0,567.8 L1767.6,572.3 L1768.1,576.8 L1768.6,581.2 L1769.0,585.7 L1769.5,590.2 L1769.9,594.7 L1770.4,599.2 L1770.8,603.6 L1771.2,608.1 L1771.6,612.6 L1772.0,617.1 L1772.4,621.6 L1772.7,626.1 L1773.1,630.5 L1773.4,635.0 L1773.6,639.5 L1773.8,644.0 L1774.0,648.5 L1774.1,653.0 L1774.2,657.5 L1774.3,662.0 L1774.4,666.5 L1774.5,671.0 L1774.6,675.5 L1774.7,680.0 L1774.8,684.5 L1774.9,689.0 L1774.9,693.5 L1775.0,698.0 L1775.1,702.5 L1775.2,707.0 L1775.3,711.5 L1775.4,716.0 L1775.5,720.5 L1775.6,725.0 L1775.7,729.5 L1775.8,734.0 L1775.9,738.5 L1776.0,743.0 L1776.1,747.5 L1776.3,752.0 L1776.4,756.5 L1776.6,761.0 L1776.8,765.5 L1776.9,770.0 L1777.1,774.5 L1777.3,779.0 L1777.4,783.5 L1777.6,788.0 L1777.8,792.5 L1777.9,797.0 L1778.1,801.5 L1778.3,806.0 L1778.4,810.5 L1778.6,815.0 L1778.8,819.5 L1779.0,824.0 L1779.1,828.5 L1779.3,833.0 L1779.5,837.5 L1779.6,841.9 L1779.8,846.4 L1780.0,850.9 L1780.1,855.4 L1780.3,859.9 L1780.5,864.4 L1780.6,868.9 L1780.8,873.4 L1781.0,877.9 L1781.1,882.4 L1781.3,886.9 L1781.4,891.4 L1781.6,895.9 L1781.7,900.4 L1781.9,904.9 L1782.0,909.4 L1782.1,913.9 L1782.2,918.4 L1782.4,922.9 L1782.5,927.4 L1782.6,931.9 L1782.7,936.4 L1782.9,940.9 L1783.0,945.4 L1783.1,949.9 L1783.2,954.4 L1783.4,958.9 L1783.5,963.4 L1783.6,967.9 L1783.7,972.4 L1783.9,976.9 L1784.0,981.4 L1784.1,985.9 L1784.2,990.4 L1784.4,994.9 L1784.5,999.4 L1784.6,1003.9 L1784.7,1008.4 L1784.9,1012.9 L1785.0,1017.4 L1785.1,1021.9 L1785.2,1026.4 L1785.4,1030.9 L1785.5,1035.4 L1785.6,1039.9 L1785.7,1044.4 L1785.8,1048.9 L1785.8,1053.4 L1785.9,1057.9 L1785.9,1062.4 L1786.0,1066.9 L1786.0,1071.4 L1786.0,1075.9 L1786.1,1080.4 L1786.1,1084.9 L1786.2,1089.4 L1786.2,1093.9 L1786.2,1098.4 L1786.3,1102.9 L1786.3,1107.4 L1786.3,1111.9 L1786.4,1116.4 L1786.4,1120.9 L1786.5,1125.4 L1786.5,1129.9 L1786.5,1134.4 L1786.6,1138.9 L1786.6,1143.4 L1786.6,1147.9 L1786.7,1152.4 L1786.7,1156.9 L1786.7,1161.4 L1786.8,1165.9 L1786.8,1170.4 L1786.9,1174.9 L1787.1,1179.2 L1789.3,1178.6 L1789.4,1174.2 L1789.4,1169.7 L1789.4,1165.2 L1789.4,1160.7 L1789.4,1156.2 L1789.4,1151.7 L1789.4,1147.2 L1789.4,1142.7 L1789.4,1138.2 L1789.4,1133.7 L1789.4,1129.2 L1789.4,1124.7 L1789.4,1120.2 L1789.4,1115.7 L1789.4,1111.2 L1789.4,1106.7 L1789.4,1102.2 L1789.4,1097.7 L1789.4,1093.2 L1789.4,1088.7 L1789.4,1084.2 L1789.4,1079.7 L1789.4,1075.2 L1789.4,1070.7 L1789.4,1066.2 L1789.4,1061.7 L1789.5,1057.2 L1789.5,1052.7 L1789.5,1048.2 L1789.5,1043.7 L1789.6,1039.2 L1789.7,1034.7 L1789.8,1030.2 L1789.8,1025.7 L1789.9,1021.2 L1790.0,1016.7 L1790.1,1012.2 L1790.2,1007.7 L1790.3,1003.2 L1790.3,998.7 L1790.4,994.2 L1790.5,989.7 L1790.6,985.2 L1790.7,980.7 L1790.8,976.2 L1790.8,971.7 L1790.9,967.2 L1791.0,962.7 L1791.1,958.2 L1791.2,953.7 L1791.3,949.2 L1791.3,944.7 L1791.4,940.2 L1791.5,935.7 L1791.6,931.2 L1791.7,926.7 L1791.8,922.2 L1791.8,917.7 L1791.9,913.2 L1792.0,908.7 L1792.1,904.2 L1792.2,899.7 L1792.3,895.2 L1792.4,890.7 L1792.5,886.2 L1792.7,881.7 L1792.9,877.2 L1793.0,872.7 L1793.2,868.2 L1793.4,863.7 L1793.5,859.2 L1793.7,854.7 L1793.9,850.2 L1794.0,845.7 L1794.2,841.2 L1794.4,836.7 L1794.5,832.2 L1794.7,827.7 L1794.9,823.2 L1795.0,818.7 L1795.2,814.2 L1795.4,809.7 L1795.5,805.2 L1795.7,800.7 L1795.9,796.2 L1796.1,791.7 L1796.2,787.2 L1796.4,782.7 L1796.6,778.3 L1796.7,773.8 L1796.9,769.3 L1797.1,764.8 L1797.2,760.3 L1797.4,755.8 L1797.7,751.3 L1797.9,746.8 L1798.2,742.3 L1798.6,737.8 L1799.0,733.3 L1799.4,728.9 L1799.9,724.4 L1800.3,719.9 L1800.8,715.4 L1801.2,710.9 L1801.6,706.5 L1802.0,702.0 L1802.3,697.5 L1802.6,693.0 L1802.9,688.5 L1803.2,684.0 L1803.4,679.5 L1803.7,675.0 L1803.9,670.5 L1804.1,666.0 L1804.4,661.5 L1804.6,657.0 L1804.9,652.6 L1805.1,648.1 L1805.4,643.6 L1805.6,639.1 L1805.9,634.6 L1806.1,630.1 L1806.4,625.6 L1806.6,621.1 L1806.9,616.6 L1807.3,612.1 L1807.7,607.6 L1808.1,603.2 L1808.5,598.7 L1808.9,594.2 L1809.4,589.7 L1809.8,585.2 L1810.3,580.8 L1810.7,576.3 L1811.2,571.8 L1811.6,567.3 L1812.1,562.9 L1812.5,558.4 L1813.0,553.9 L1813.5,549.4 L1814.0,545.0 L1814.5,540.5 L1815.1,536.0 L1815.6,531.6 L1816.2,527.1 L1816.8,522.6 L1817.4,518.2 L1818.0,513.7 L1818.6,509.2 L1819.2,504.8 L1819.8,500.3 L1820.4,495.9 L1821.1,491.4 L1821.7,487.0 L1822.4,482.5 L1823.1,478.1 L1823.8,473.6 L1824.5,469.2 L1825.2,464.7 L1825.8,460.3 L1826.5,455.8 L1827.2,451.4 L1827.8,446.9 L1828.3,442.5 L1828.6,438.0 L1828.9,433.5 L1829.2,429.0 L1829.5,424.6 L1830.0,420.2 L1830.8,415.8 L1831.8,411.5 L1833.1,407.2 L1834.5,402.9 L1835.9,398.7 L1837.4,394.4 L1838.9,390.2 L1840.4,385.9 L1842.0,381.7 L1843.6,377.5 L1845.3,373.4 L1847.2,369.3 L1849.2,365.3 L1851.2,361.3 L1853.3,357.3 L1855.5,353.3 L1857.7,349.4 L1860.0,345.6 L1862.5,342.0 L1865.3,338.5 L1868.3,335.2 L1871.4,332.1 L1874.7,329.1 L1878.1,326.2 L1881.7,323.6 L1885.4,321.2 L1889.3,319.2 L1893.4,317.4 L1897.6,316.0 L1901.8,314.7 L1906.1,313.7 L1910.4,313.1 L1914.6,313.0 L1918.9,313.5 L1923.1,314.5 L1927.3,315.8 L1931.4,317.5 L1935.4,319.4 L1939.2,321.6 L1942.8,324.2 L1946.3,326.9 L1949.7,329.8 L1953.0,332.9 L1956.1,336.1 L1959.0,339.4 L1961.7,342.9 L1964.2,346.6 L1966.5,350.5 L1968.7,354.4 L1970.8,358.3 L1972.9,362.3 L1974.9,366.3 L1976.9,370.4 L1978.7,374.5 L1980.4,378.6 L1982.0,382.8 L1983.6,387.0 L1985.1,391.3 L1986.6,395.5 L1988.0,399.8 L1989.5,404.0 L1991.0,408.3 L1992.4,412.6 L1993.7,416.8 L1995.0,421.2 L1996.2,425.5 L1997.3,429.8 L1998.5,434.2 L1999.5,438.6 L2000.6,442.9 L2001.7,447.3 L2002.8,451.7 L2003.9,456.0 L2005.0,460.4 L2006.1,464.8 L2007.2,469.1 L2008.3,473.5 L2009.4,477.9 L2010.5,482.2 L2011.6,486.6 L2012.6,491.0 L2013.7,495.3 L2014.8,499.7 L2015.8,504.1 L2016.8,508.5 L2017.8,512.9 L2018.7,517.3 L2019.6,521.7 L2020.5,526.1 L2021.4,530.5 L2022.2,534.9 L2023.1,539.3 L2024.0,543.7 L2024.8,548.2 L2025.6,552.6 L2026.3,557.0 L2027.0,561.5 L2027.7,565.9 L2028.4,570.4 L2029.1,574.8 L2029.7,579.3 L2030.4,583.7 L2031.0,588.2 L2031.5,592.7 L2031.9,597.1 L2032.1,601.6 L2032.3,606.1 L2032.4,610.6 L2032.5,615.1 L2032.5,619.6 L2032.5,624.1 L2032.6,628.6 L2032.6,633.1 L2032.6,637.6 L2032.7,642.1 L2032.7,646.6 L2032.7,651.1 L2032.8,655.6 L2032.8,660.1 L2032.8,664.6 L2032.9,669.1 L2032.9,673.6 L2033.0,678.1 L2033.0,682.6 L2033.0,687.1 L2033.1,691.6 L2033.1,696.1 L2033.2,700.6 L2033.3,705.1 L2033.5,709.6 L2033.7,714.1 L2033.9,718.6 L2034.2,723.1 L2034.4,727.6 L2034.7,732.1 L2035.0,736.6 L2035.2,741.0 L2035.5,745.5 L2035.8,750.0 L2036.1,754.5 L2036.3,759.0 L2036.6,763.5 L2036.9,768.0 L2037.1,772.5 L2037.4,777.0 L2037.7,781.5 L2037.9,786.0 L2038.2,790.5 L2038.5,795.0 L2038.7,799.4 L2039.0,803.9 L2039.3,808.4 L2039.6,812.9 L2039.8,817.4 L2040.1,821.9 L2040.4,826.4 L2040.6,830.9 L2040.9,835.4 L2041.1,839.9 L2041.4,844.4 L2041.6,848.9 L2041.8,853.4 L2042.1,857.9 L2042.3,862.4 L2042.5,866.8 L2042.7,871.3 L2043.0,875.8 L2043.2,880.3 L2043.4,884.8 L2043.6,889.3 L2043.9,893.8 L2044.1,898.3 L2044.3,902.8 L2044.5,907.3 L2044.8,911.8 L2045.0,916.3 L2045.2,920.8 L2045.4,925.3 L2045.7,929.8 L2045.9,934.3 L2046.1,938.8 L2046.3,943.3 L2046.6,947.8 L2046.8,952.3 L2047.0,956.7 L2047.2,961.2 L2047.5,965.7 L2047.7,970.2 L2047.9,974.7 L2048.1,979.2 L2048.4,983.7 L2048.6,988.2 L2048.8,992.7 L2049.0,997.2 L2049.3,1001.7 L2049.5,1006.2 L2049.7,1010.7 L2049.9,1015.2 L2050.2,1019.7 L2050.4,1024.2 L2050.6,1028.7 L2050.8,1033.2 L2051.1,1037.7 L2051.3,1042.2 L2051.5,1046.6 L2051.6,1051.1 L2051.8,1055.6 L2051.9,1060.1 L2051.9,1064.6 L2052.0,1069.1 L2052.0,1073.6 L2052.1,1078.1 L2052.1,1082.6 L2052.2,1087.1 L2052.2,1091.6 L2052.3,1096.1 L2052.3,1100.6 L2052.4,1105.1 L2052.4,1109.6 L2052.5,1114.1 L2052.5,1118.6 L2052.6,1123.1 L2052.6,1127.6 L2052.6,1132.1 L2052.7,1136.6 L2052.7,1141.1 L2052.8,1145.6 L2052.8,1150.1 L2052.9,1154.6 L2052.9,1159.1 L2053.0,1163.6 L2053.0,1168.1 L2053.1,1172.6 L2053.1,1177.1 L2054.6,1179.9 L2055.8,1176.7 L2055.9,1172.2 L2055.9,1167.7 L2056.0,1163.2 L2056.0,1158.7 L2056.1,1154.2 L2056.1,1149.7 L2056.2,1145.2 L2056.2,1140.7 L2056.3,1136.2 L2056.3,1131.7 L2056.4,1127.2 L2056.4,1122.7 L2056.5,1118.2 L2056.5,1113.7 L2056.6,1109.2 L2056.6,1104.7 L2056.6,1100.2 L2056.7,1095.7 L2056.7,1091.2 L2056.8,1086.7 L2056.8,1082.2 L2056.9,1077.7 L2056.9,1073.2 L2057.0,1068.7 L2057.0,1064.2 L2057.1,1059.7 L2057.2,1055.2 L2057.2,1050.7 L2057.3,1046.2 L2057.4,1041.7 L2057.5,1037.2 L2057.6,1032.7 L2057.8,1028.2 L2057.9,1023.7 L2058.0,1019.2 L2058.1,1014.7 L2058.2,1010.2 L2058.3,1005.7 L2058.4,1001.2 L2058.5,996.7 L2058.7,992.2 L2058.8,987.7 L2058.9,983.2 L2059.0,978.7 L2059.1,974.2 L2059.2,969.7 L2059.3,965.2 L2059.4,960.7 L2059.6,956.2 L2059.7,951.7 L2059.9,947.2 L2060.0,942.7 L2060.2,938.2 L2060.4,933.7 L2060.7,929.2 L2060.9,924.7 L2061.1,920.2 L2061.3,915.8 L2061.6,911.3 L2061.8,906.8 L2062.0,902.3 L2062.2,897.8 L2062.5,893.3 L2062.7,888.8 L2062.9,884.3 L2063.1,879.8 L2063.4,875.3 L2063.6,870.8 L2063.8,866.3 L2064.0,861.8 L2064.3,857.3 L2064.5,852.8 L2064.7,848.3 L2065.0,843.8 L2065.2,839.3 L2065.5,834.9 L2065.9,830.4 L2066.2,825.9 L2066.5,821.4 L2066.8,816.9 L2067.2,812.4 L2067.5,807.9 L2067.9,803.4 L2068.2,798.9 L2068.5,794.5 L2068.9,790.0 L2069.2,785.5 L2069.5,781.0 L2069.9,776.5 L2070.2,772.0 L2070.5,767.5 L2070.9,763.0 L2071.2,758.6 L2071.6,754.1 L2071.9,749.6 L2072.3,745.1 L2072.6,740.6 L2073.0,736.1 L2073.5,731.7 L2074.0,727.2 L2074.5,722.7 L2075.1,718.3 L2075.7,713.8 L2076.3,709.3 L2076.9,704.9 L2077.5,700.4 L2078.1,695.9 L2078.7,691.5 L2079.3,687.0 L2079.9,682.6 L2080.5,678.1 L2081.1,673.6 L2081.7,669.2 L2082.3,664.7 L2083.0,660.3 L2083.9,655.9 L2084.9,651.5 L2086.0,647.2 L2087.3,642.9 L2088.6,638.6 L2090.0,634.3 L2091.4,630.0 L2092.8,625.8 L2094.2,621.5 L2095.7,617.3 L2097.2,613.1 L2098.8,609.2 L2100.4,606.0 L2102.2,603.7 L2104.1,602.8 L2106.1,603.6 L2108.1,605.8 L2110.1,608.9 L2111.9,612.7 L2113.6,616.8 L2115.2,620.9 L2116.7,625.2 L2118.2,629.4 L2119.6,633.7 L2121.1,637.9 L2122.5,642.2 L2123.8,646.5 L2125.0,650.8 L2125.9,655.2 L2126.7,659.6 L2127.4,664.0 L2127.9,668.5 L2128.4,672.9 L2128.8,677.4 L2129.3,681.9 L2129.7,686.4 L2130.2,690.9 L2130.6,695.3 L2131.0,699.8 L2131.5,704.3 L2131.9,708.8 L2132.4,713.2 L2132.8,717.7 L2133.3,722.2 L2133.7,726.7 L2134.2,731.2 L2134.6,735.6 L2135.1,740.1 L2135.5,744.6 L2136.0,749.1 L2136.4,753.6 L2136.9,758.0 L2137.3,762.5 L2137.8,767.0 L2138.2,771.5 L2138.7,775.9 L2139.1,780.4 L2139.6,784.9 L2140.0,789.4 L2140.4,793.9 L2140.9,798.3 L2141.3,802.8 L2141.7,807.3 L2142.1,811.8 L2142.5,816.3 L2142.9,820.7 L2143.2,825.2 L2143.5,829.7 L2143.8,834.2 L2144.1,838.7 L2144.4,843.2 L2144.7,847.7 L2145.0,852.2 L2145.3,856.7 L2145.6,861.2 L2145.9,865.7 L2146.2,870.1 L2146.5,874.6 L2146.8,879.1 L2147.0,883.6 L2147.3,888.1 L2147.5,892.6 L2147.7,897.1 L2147.8,901.6 L2147.9,906.1 L2147.9,910.6 L2148.0,915.1 L2148.1,919.6 L2148.1,924.1 L2148.2,928.6 L2148.2,933.1 L2148.3,937.6 L2148.4,942.1 L2148.4,946.6 L2148.5,951.1 L2148.5,955.6 L2148.6,960.1 L2148.7,964.6 L2148.7,969.1 L2148.8,973.6 L2148.8,978.1 L2148.9,982.6 L2149.0,987.1 L2149.0,991.6 L2149.1,996.1 L2149.1,1000.6 L2149.2,1005.1 L2149.3,1009.6 L2149.3,1014.1 L2149.4,1018.6 L2149.4,1023.1 L2149.5,1027.6 L2149.6,1032.1 L2149.6,1036.6 L2149.7,1041.1 L2149.7,1045.6 L2149.8,1050.1 L2149.8,1054.6 L2149.8,1059.1 L2149.9,1063.6 L2149.9,1068.1 L2149.9,1072.6 L2149.9,1077.1 L2150.0,1081.6 L2150.0,1086.1 L2150.0,1090.6 L2150.0,1095.1 L2150.0,1099.6 L2150.0,1104.1 L2150.1,1108.6 L2150.1,1113.1 L2150.1,1117.6 L2150.1,1122.1 L2150.1,1126.6 L2150.2,1131.1 L2150.2,1135.6 L2150.2,1140.1 L2150.2,1144.6 L2150.2,1149.1 L2150.3,1153.6 L2150.3,1158.1 L2150.3,1162.6 L2150.3,1167.1 L2150.3,1171.6 L2150.4,1176.1 L2151.1,1179.9 L2153.0,1177.7 L2153.0,1173.2 L2153.1,1168.7 L2153.1,1164.2 L2153.1,1159.7 L2153.1,1155.2 L2153.1,1150.7 L2153.2,1146.2 L2153.2,1141.7 L2153.2,1137.2 L2153.2,1132.7 L2153.2,1128.2 L2153.3,1123.7 L2153.3,1119.2 L2153.3,1114.7 L2153.3,1110.2 L2153.3,1105.7 L2153.4,1101.2 L2153.4,1096.7 L2153.4,1092.2 L2153.4,1087.7 L2153.4,1083.2 L2153.5,1078.7 L2153.5,1074.2 L2153.5,1069.7 L2153.5,1065.2 L2153.5,1060.7 L2153.5,1056.2 L2153.6,1051.7 L2153.6,1047.2 L2153.6,1042.7 L2153.6,1038.2 L2153.7,1033.7 L2153.7,1029.2 L2153.7,1024.7 L2153.7,1020.2 L2153.7,1015.7 L2153.8,1011.2 L2153.8,1006.7 L2153.8,1002.2 L2153.8,997.7 L2153.9,993.2 L2153.9,988.7 L2153.9,984.2 L2153.9,979.7 L2153.9,975.2 L2154.0,970.7 L2154.0,966.2 L2154.0,961.7 L2154.0,957.2 L2154.1,952.7 L2154.1,948.2 L2154.1,943.7 L2154.1,939.2 L2154.1,934.7 L2154.2,930.2 L2154.2,925.7 L2154.2,921.2 L2154.2,916.7 L2154.3,912.2 L2154.3,907.7 L2154.3,903.2 L2154.4,898.7 L2154.4,894.2 L2154.6,889.7 L2154.7,885.2 L2154.8,880.7 L2155.0,876.2 L2155.2,871.7 L2155.3,867.2 L2155.5,862.7 L2155.7,858.2 L2155.8,853.7 L2156.0,849.2 L2156.2,844.7 L2156.3,840.2 L2156.5,835.7 L2156.7,831.2 L2156.8,826.7 L2157.0,822.2 L2157.2,817.7 L2157.3,813.3 L2157.5,808.8 L2157.7,804.3 L2157.9,799.8 L2158.1,795.3 L2158.3,790.8 L2158.5,786.3 L2158.8,781.8 L2159.1,777.3 L2159.4,772.8 L2159.7,768.3 L2160.0,763.8 L2160.4,759.3 L2160.7,754.9 L2161.1,750.4 L2161.4,745.9 L2161.7,741.4 L2162.1,736.9 L2162.4,732.4 L2162.7,727.9 L2163.1,723.4 L2163.4,718.9 L2163.8,714.5 L2164.1,710.0 L2164.4,705.5 L2164.8,701.0 L2165.1,696.5 L2165.4,692.0 L2165.8,687.5 L2166.2,683.0 L2166.6,678.6 L2167.0,674.1 L2167.4,669.6 L2167.9,665.1 L2168.4,660.7 L2168.8,656.2 L2169.3,651.7 L2169.8,647.2 L2170.2,642.8 L2170.7,638.3 L2171.2,633.8 L2171.6,629.3 L2172.1,624.8 L2172.6,620.4 L2173.1,615.9 L2173.6,611.4 L2174.2,607.0 L2174.8,602.5 L2175.4,598.0 L2176.0,593.6 L2176.7,589.1 L2177.4,584.7 L2178.0,580.2 L2178.7,575.8 L2179.3,571.3 L2180.0,566.9 L2180.6,562.4 L2181.2,558.0 L2181.7,553.5 L2182.3,549.0 L2182.8,544.6 L2183.4,540.1 L2183.9,535.6 L2184.4,531.2 L2185.0,526.7 L2185.5,522.2 L2186.1,517.8 L2186.6,513.3 L2187.2,508.8 L2187.9,504.4 L2188.5,499.9 L2189.2,495.5 L2189.9,491.0 L2190.6,486.6 L2191.3,482.1 L2192.0,477.7 L2192.7,473.3 L2193.5,468.8 L2194.2,464.4 L2194.9,459.9 L2195.6,455.5 L2196.3,451.0 L2197.0,446.6 L2197.7,442.1 L2198.4,437.7 L2199.1,433.3 L2199.9,428.8 L2200.6,424.4 L2201.3,419.9 L2202.0,415.5 L2202.7,411.0 L2203.4,406.6 L2204.2,402.2 L2205.0,397.7 L2205.9,393.3 L2206.8,388.9 L2207.7,384.5 L2208.7,380.1 L2209.7,375.7 L2210.7,371.3 L2211.7,367.0 L2212.7,362.6 L2213.7,358.2 L2214.8,353.8 L2215.9,349.5 L2217.1,345.1 L2218.3,340.8 L2219.7,336.5 L2221.1,332.2 L2222.5,328.0 L2223.9,323.7 L2225.3,319.4 L2226.8,315.2 L2228.3,310.9 L2229.8,306.7 L2231.3,302.5 L2232.9,298.2 L2234.5,294.0 L2236.1,289.8 L2237.7,285.6 L2239.4,281.5 L2241.0,277.3 L2242.7,273.1 L2244.5,269.0 L2246.4,264.9 L2248.3,260.8 L2250.4,256.8 L2252.4,252.8 L2254.5,248.9 L2256.7,244.9 L2258.9,241.0 L2261.1,237.1 L2263.5,233.3 L2266.0,229.5 L2268.5,225.9 L2271.2,222.3 L2273.9,218.7 L2276.7,215.1 L2279.5,211.6 L2282.4,208.2 L2285.4,204.9 L2288.6,201.8 L2291.9,198.8 L2295.3,195.9 L2298.9,193.1 L2302.5,190.6 L2306.2,188.2 L2310.0,186.2 L2313.8,184.5 L2317.4,183.2 L2320.5,182.2 L2323.0,181.4 L2331.3,179.0" stroke="#00ffff" stroke-width="12.5"/>
<path d="M286.7,440.2 L294.7,436.9 L297.2,436.0 L300.2,435.0 L303.9,434.0 L308.0,433.0 L312.3,432.2 L316.7,431.6 L321.2,431.1 L325.6,430.8 L330.1,430.7 L334.6,430.8 L339.0,431.1 L343.5,431.6 L347.9,432.3 L352.3,433.2 L356.6,434.3 L360.9,435.6 L365.2,437.1 L369.4,438.6 L373.5,440.4 L377.6,442.3 L381.6,444.2 L385.5,446.4 L389.4,448.6 L393.2,451.0 L396.8,453.6 L400.4,456.3 L404.0,459.1 L407.5,461.9 L411.0,464.7 L414.4,467.6 L417.8,470.6 L421.2,473.6 L424.6,476.5 L427.9,479.5 L431.4,482.5 L434.8,485.3 L438.3,488.1 L441.9,490.8 L445.5,493.5 L449.2,496.1 L452.9,498.6 L456.7,501.1 L460.4,503.6 L464.2,506.0 L468.1,508.3 L471.9,510.7 L475.8,513.0 L479.6,515.3 L483.5,517.6 L487.4,519.9 L491.2,522.3 L495.1,524.5 L499.0,526.8 L502.9,529.0 L506.9,531.1 L510.9,533.2 L514.9,535.2 L519.0,537.0 L523.1,538.7 L527.3,540.2 L531.6,541.4 L535.9,542.4 L540.3,543.0 L544.6,543.2 L548.9,543.0 L553.2,542.2 L557.2,540.8 L561.0,538.9 L564.5,536.5 L567.7,533.6 L570.5,530.3 L573.2,526.8 L575.7,523.1 L578.2,519.3 L580.7,515.6 L583.1,511.8 L585.6,508.0 L588.0,504.3 L590.5,500.5 L592.9,496.7 L595.2,492.8 L597.6,489.0 L599.9,485.1 L602.2,481.2 L604.4,477.4 L606.7,473.5 L609.0,469.6 L611.3,465.7 L613.5,461.8 L615.7,457.9 L617.9,453.9 L620.1,450.0 L622.2,446.0 L624.3,442.1 L626.5,438.1 L628.7,434.2 L631.0,430.4 L633.4,426.6 L636.1,423.1 L639.0,419.7 L642.2,416.6 L645.5,413.8 L649.1,411.3 L652.9,409.3 L656.9,407.8 L661.1,406.9 L665.3,406.6 L669.6,406.9 L673.7,407.8 L677.8,409.2 L681.7,411.1 L685.3,413.5 L688.7,416.3 L691.9,419.3 L694.9,422.6 L697.8,426.0 L700.5,429.6 L703.0,433.2 L705.4,437.0 L707.6,441.0 L709.6,444.9 L711.6,449.0 L713.5,453.0 L715.4,457.1 L717.1,461.3 L718.8,465.5 L720.3,469.7 L721.8,473.9 L723.3,478.2 L724.8,482.4 L726.3,486.7 L727.7,490.9 L729.1,495.2 L730.4,499.5 L731.7,503.8 L732.9,508.2 L734.1,512.5 L735.2,516.9 L736.4,521.2 L737.6,525.5 L738.9,529.9 L740.2,534.2 L741.6,538.4 L743.0,542.7 L744.4,547.0 L745.8,551.3 L747.3,555.5 L748.7,559.8 L750.1,564.1 L751.5,568.4 L753.0,572.6 L754.4,576.9 L755.8,581.2 L757.3,585.4 L758.8,589.7 L760.4,593.9 L762.2,597.9 L764.5,601.8 L767.0,605.5 L769.4,609.0 L771.5,606.3 L773.5,602.3 L775.3,598.3 L776.7,594.0 L777.7,589.6 L778.7,585.2 L779.6,580.8 L780.5,576.4 L781.5,572.0 L782.5,567.7 L783.6,563.3 L784.8,559.0 L786.1,554.7 L787.4,550.4 L788.8,546.1 L790.3,541.8 L791.7,537.6 L793.1,533.3 L794.5,529.0 L795.9,524.7 L797.4,520.5 L798.8,516.2 L800.2,511.9 L801.7,507.7 L803.2,503.5 L804.8,499.3 L806.6,495.1 L808.4,491.0 L810.4,487.0 L812.5,483.0 L814.6,479.0 L816.7,475.1 L818.9,471.1 L821.1,467.2 L823.4,463.3 L825.8,459.5 L828.2,455.8 L830.8,452.1 L833.5,448.5 L836.2,445.0 L839.2,441.7 L842.4,438.8 L845.9,436.3 L849.7,434.3 L853.7,433.0 L857.8,432.3 L862.1,432.3 L866.3,432.9 L870.5,434.1 L874.5,435.7 L878.5,437.7 L882.3,440.0 L885.9,442.5 L889.3,445.4 L892.6,448.4 L895.9,451.5 L899.1,454.6 L902.3,457.8 L905.5,461.0 L908.7,464.1 L912.0,467.1 L915.4,470.0 L918.9,472.6 L922.5,474.8 L926.3,476.3 L930.1,476.9 L933.8,476.5 L937.5,475.1 L940.9,472.9 L944.0,470.0 L947.0,466.8 L949.8,463.3 L952.5,459.7 L955.1,456.1 L957.7,452.4 L960.3,448.8 L963.0,445.1 L965.6,441.5 L968.3,437.9 L971.1,434.3 L974.0,430.9 L976.9,427.5 L980.0,424.3 L983.2,421.2 L986.6,418.6 L990.2,416.3 L994.2,414.6 L998.3,413.4 L1002.5,412.8 L1006.8,412.8 L1011.1,413.3 L1015.1,414.4 L1019.0,416.2 L1022.6,418.6 L1025.9,421.3 L1028.9,424.5 L1031.7,427.9 L1034.1,431.6 L1036.3,435.4 L1038.2,439.4 L1040.0,443.6 L1041.7,447.7 L1043.4,451.9 L1045.2,456.0 L1047.1,460.1 L1049.0,464.1 L1051.1,468.1 L1053.3,472.0 L1055.3,476.0 L1057.3,480.0 L1059.1,484.1 L1060.7,488.3 L1062.1,492.5 L1063.6,496.8 L1064.9,501.1 L1066.2,505.4 L1067.5,509.7 L1068.8,514.0 L1070.0,518.4 L1071.2,522.7 L1072.4,527.0 L1073.7,531.4 L1074.9,535.7 L1076.1,540.0 L1077.3,544.4 L1078.5,548.7 L1079.7,553.0 L1081.1,557.2 L1082.0,556.7 L1082.5,552.4 L1082.9,547.9 L1083.3,543.4 L1083.6,538.9 L1084.0,534.4 L1084.4,530.0 L1084.8,525.5 L1085.2,521.0 L1085.6,516.5 L1086.1,512.0 L1086.5,507.6 L1087.0,503.1 L1087.4,498.6 L1087.9,494.1 L1088.4,489.6 L1088.9,485.2 L1089.5,480.7 L1090.3,476.3 L1091.0,471.9 L1091.9,467.4 L1092.8,463.0 L1093.7,458.6 L1094.6,454.2 L1095.5,449.8 L1096.4,445.4 L1097.3,441.0 L1098.2,436.6 L1099.1,432.1 L1100.0,427.7 L1100.9,423.3 L1101.8,418.9 L1102.7,414.5 L1103.6,410.1 L1104.4,405.7 L1105.2,401.2 L1105.9,396.8 L1106.6,392.3 L1107.2,387.9 L1107.8,383.4 L1108.4,379.0 L1109.0,374.5 L1109.6,370.0 L1110.3,365.6 L1111.1,361.2 L1111.9,356.7 L1112.7,352.3 L1113.6,347.9 L1114.5,343.5 L1115.5,339.1 L1116.5,334.7 L1117.5,330.3 L1118.6,326.0 L1119.7,321.6 L1120.9,317.2 L1122.0,312.9 L1123.2,308.6 L1124.5,304.2 L1125.8,299.9 L1127.2,295.6 L1128.6,291.4 L1130.0,287.1 L1131.5,282.9 L1133.1,278.6 L1134.6,274.4 L1136.2,270.2 L1137.8,266.0 L1139.3,261.8 L1140.9,257.5 L1142.5,253.3 L1144.1,249.1 L1145.7,244.9 L1147.4,240.7 L1149.0,236.5 L1150.7,232.4 L1152.5,228.2 L1154.4,224.2 L1156.4,220.2 L1158.6,216.3 L1160.9,212.4 L1163.2,208.6 L1165.6,204.7 L1167.9,200.9 L1170.2,197.0 L1172.6,193.2 L1174.9,189.3 L1177.2,185.4 L1179.5,181.6 L1181.8,177.7 L1184.2,173.9 L1186.6,170.2 L1189.2,166.7 L1191.9,163.5 L1194.9,160.7 L1198.1,158.4 L1201.4,156.2 L1204.7,153.8 L1207.7,151.0 L1210.6,147.9 L1213.4,144.4 L1216.1,140.9 L1218.9,137.4 L1221.8,133.9 L1224.7,130.5 L1227.7,127.2 L1230.8,123.9 L1233.9,120.7 L1237.1,117.5 L1240.4,114.5 L1243.8,111.6 L1247.3,108.7 L1250.9,106.0 L1254.5,103.5 L1258.3,101.1 L1262.2,98.8 L1266.1,96.7 L1270.1,94.7 L1274.2,93.0 L1278.4,91.5 L1282.7,90.3 L1287.1,89.5 L1291.5,88.8 L1296.0,88.3 L1300.4,88.0 L1304.9,87.9 L1309.4,87.9 L1313.9,88.0 L1318.3,88.4 L1322.8,89.0 L1327.1,89.9 L1331.4,91.1 L1335.6,92.5 L1339.8,94.2 L1343.9,95.9 L1348.0,97.8 L1352.1,99.7 L1356.1,101.7 L1360.0,103.9 L1363.8,106.2 L1367.4,108.8 L1371.0,111.5 L1374.4,114.3 L1377.8,117.3 L1381.0,120.5 L1384.0,123.7 L1387.0,127.1 L1389.9,130.6 L1392.7,134.0 L1395.6,137.6 L1398.3,141.1 L1401.1,144.7 L1403.8,148.3 L1406.4,151.9 L1409.0,155.6 L1411.6,159.2 L1414.2,163.0 L1416.6,166.7 L1419.1,170.5 L1421.5,174.3 L1423.9,178.1 L1426.2,182.0 L1428.5,185.8 L1430.8,189.7 L1433.0,193.6 L1435.1,197.6 L1437.1,201.6 L1439.0,205.7 L1440.8,209.8 L1442.6,214.0 L1444.2,218.1 L1445.8,222.3 L1447.4,226.6 L1448.8,230.8 L1450.3,235.1 L1451.7,239.4 L1453.0,243.6 L1454.4,247.9 L1455.8,252.2 L1457.2,256.5 L1458.5,260.8 L1459.9,265.1 L1461.3,269.4 L1462.7,273.7 L1464.0,278.0 L1465.4,282.2 L1466.8,286.5 L1468.1,290.8 L1469.5,295.1 L1470.9,299.4 L1472.3,303.7 L1473.6,308.0 L1475.0,312.3 L1476.3,316.6 L1477.6,320.9 L1478.9,325.2 L1480.2,329.5 L1481.4,333.8 L1482.6,338.2 L1483.8,342.5 L1485.0,346.8 L1486.2,351.2 L1487.4,355.5 L1488.6,359.9 L1489.8,364.2 L1490.8,368.6 L1491.8,373.0 L1492.8,377.4 L1493.8,381.7 L1494.8,386.1 L1495.7,390.5 L1496.6,394.9 L1497.4,399.4 L1497.9,403.8 L1498.4,408.3 L1498.7,412.7 L1498.9,417.2 L1499.1,421.7 L1499.4,426.2 L1499.6,430.7 L1500.0,435.2 L1500.3,439.7 L1500.7,444.2 L1501.2,448.7 L1501.6,453.1 L1502.0,457.6 L1502.5,462.1 L1502.9,466.6 L1503.4,471.1 L1503.8,475.5 L1504.3,480.0 L1504.7,484.5 L1505.2,489.0 L1505.6,493.5 L1506.1,497.9 L1506.5,502.4 L1507.0,506.9 L1507.4,511.4 L1507.9,515.9 L1508.3,520.3 L1508.8,524.8 L1509.2,529.3 L1509.7,533.8 L1510.2,538.3 L1510.7,542.7 L1511.2,547.2 L1511.7,551.7 L1512.3,556.1 L1512.8,560.6 L1513.4,565.1 L1514.0,569.5 L1514.5,574.0 L1515.1,578.5 L1515.6,582.9 L1516.2,587.4 L1516.7,591.9 L1517.2,596.4 L1517.7,600.8 L1518.3,605.3 L1518.9,609.8 L1519.5,614.2 L1520.2,618.7 L1521.0,623.1 L1521.8,627.5 L1522.8,631.9 L1523.8,636.3 L1524.8,640.7 L1525.8,645.1 L1526.8,649.5 L1527.8,653.8 L1528.8,658.2 L1529.8,662.6 L1530.8,667.0 L1531.8,671.4 L1532.8,675.8 L1533.8,680.2 L1534.8,684.6 L1535.7,689.0 L1536.4,693.4 L1537.0,697.9 L1537.4,702.3 L1537.9,706.7 L1538.6,706.5 L1539.5,702.2 L1540.3,697.8 L1541.2,693.4 L1541.9,689.0 L1542.5,684.5 L1543.1,680.0 L1543.7,675.6 L1544.3,671.1 L1544.9,666.7 L1545.5,662.2 L1546.1,657.7 L1546.7,653.3 L1547.3,648.8 L1547.9,644.3 L1548.5,639.9 L1549.0,635.4 L1549.6,630.9 L1550.2,626.5 L1550.7,622.0 L1551.2,617.5 L1551.7,613.1 L1552.1,608.6 L1552.5,604.1 L1552.9,599.6 L1553.3,595.1 L1553.7,590.6 L1554.2,586.2 L1554.6,581.7 L1555.0,577.2 L1555.5,572.7 L1556.0,568.2 L1556.5,563.8 L1557.1,559.3 L1557.6,554.8 L1558.2,550.4 L1558.7,545.9 L1559.3,541.4 L1559.9,537.0 L1560.5,532.5 L1561.1,528.0 L1561.7,523.6 L1562.4,519.1 L1563.0,514.7 L1563.7,510.2 L1564.4,505.8 L1565.0,501.3 L1565.7,496.9 L1566.4,492.4 L1567.2,488.0 L1568.0,483.6 L1568.8,479.1 L1569.6,474.7 L1570.5,470.3 L1571.4,465.9 L1572.3,461.5 L1573.3,457.1 L1574.3,452.7 L1575.3,448.3 L1576.5,444.0 L1577.7,439.7 L1579.2,435.4 L1580.8,431.3 L1582.7,427.2 L1584.8,423.3 L1587.1,419.5 L1589.7,415.8 L1592.4,412.3 L1595.3,409.0 L1598.4,405.9 L1601.6,403.2 L1605.1,401.1 L1608.8,399.8 L1612.7,399.4 L1616.6,400.0 L1620.4,401.5 L1624.0,403.6 L1627.5,406.2 L1630.7,409.2 L1633.6,412.5 L1636.3,416.0 L1638.7,419.7 L1640.8,423.6 L1642.9,427.6 L1644.8,431.6 L1646.7,435.7 L1648.6,439.8 L1650.4,443.9 L1652.1,448.1 L1653.5,452.3 L1654.8,456.6 L1655.9,460.9 L1656.9,465.3 L1657.8,469.7 L1658.7,474.1 L1659.5,478.5 L1660.2,483.0 L1660.9,487.4 L1661.6,491.9 L1662.2,496.3 L1662.8,500.8 L1663.4,505.3 L1664.0,509.7 L1664.6,514.2 L1665.2,518.7 L1665.8,523.1 L1666.4,527.6 L1667.0,532.0 L1667.6,536.5 L1668.3,541.0 L1669.0,545.4 L1669.8,549.8 L1670.6,554.3 L1671.5,558.7 L1672.3,563.1 L1673.2,567.5 L1674.1,571.9 L1675.0,576.3 L1675.9,580.7 L1676.7,585.2 L1677.6,589.6 L1678.5,594.0 L1679.4,598.4 L1680.3,602.8 L1681.2,607.2 L1682.0,611.7 L1682.9,616.1 L1683.8,620.5 L1684.7,624.9 L1685.6,629.3 L1686.4,633.7 L1687.3,638.2 L1688.1,642.6 L1688.9,647.0 L1689.6,651.5 L1690.4,655.9 L1691.1,660.3 L1691.8,664.8 L1692.5,669.2 L1693.1,673.7 L1693.6,678.2 L1694.2,682.6 L1694.6,687.1 L1695.1,691.6 L1695.5,696.1 L1696.0,700.5 L1696.5,705.0 L1697.0,708.6 L1697.8,704.6 L1698.6,700.2 L1699.3,695.8 L1699.9,691.3 L1700.4,686.8 L1700.8,682.4 L1701.3,677.9 L1701.7,673.4 L1702.2,668.9 L1702.7,664.5 L1703.2,660.0 L1703.8,655.5 L1704.4,651.0 L1704.9,646.6 L1705.5,642.1 L1706.1,637.7 L1706.7,633.2 L1707.3,628.7 L1707.9,624.3 L1708.5,619.8 L1709.1,615.3 L1709.7,610.9 L1710.3,606.4 L1710.9,602.0 L1711.5,597.5 L1712.1,593.0 L1712.7,588.6 L1713.3,584.1 L1713.9,579.6 L1714.5,575.2 L1715.0,570.7 L1715.6,566.3 L1716.2,561.8 L1716.8,557.3 L1717.4,552.9 L1718.0,548.7 L1718.7,545.0 L1719.4,542.1 L1720.3,540.6 L1721.2,540.9 L1722.3,542.7 L1723.5,545.7 L1724.8,549.5 L1726.1,553.7 L1727.4,558.0 L1728.7,562.4 L1730.0,566.7 L1731.3,570.9 L1732.4,572.6 L1733.0,568.4 L1733.6,564.0 L1734.2,559.5 L1734.8,555.0 L1735.4,550.6 L1736.0,546.1 L1736.6,541.6 L1737.2,537.2 L1737.7,532.7 L1738.3,528.3 L1738.9,523.8 L1739.6,519.3 L1740.2,514.9 L1740.9,510.4 L1741.6,506.0 L1742.4,501.6 L1743.2,497.1 L1744.1,492.7 L1744.9,488.3 L1745.8,483.9 L1746.7,479.5 L1747.6,475.1 L1748.5,470.6 L1749.4,466.2 L1750.3,461.8 L1751.2,457.4 L1752.2,453.0 L1753.3,448.7 L1754.5,444.3 L1755.8,440.0 L1757.0,435.7 L1758.3,431.4 L1759.6,427.1 L1760.9,422.8 L1762.3,418.5 L1763.7,414.3 L1765.4,410.1 L1767.2,406.1 L1769.3,402.1 L1771.6,398.3 L1774.1,394.6 L1776.7,391.1 L1779.6,388.0 L1782.8,385.4 L1786.4,383.4 L1790.3,382.2 L1794.4,381.7 L1798.6,381.8 L1802.8,382.6 L1806.8,384.0 L1810.8,385.8 L1814.6,388.0 L1818.3,390.5 L1821.8,393.2 L1825.1,396.2 L1828.2,399.4 L1831.2,402.7 L1834.0,406.2 L1836.4,409.8 L1838.7,413.7 L1840.7,417.6 L1842.7,421.7 L1844.5,425.8 L1846.4,429.9 L1848.2,434.0 L1850.0,438.1 L1851.7,442.3 L1853.3,446.5 L1854.9,450.7 L1856.5,454.9 L1858.1,459.1 L1859.6,463.4 L1861.1,467.6 L1862.6,471.8 L1864.1,476.1 L1865.6,480.3 L1867.1,484.6 L1868.5,488.9 L1869.9,493.1 L1871.3,497.4 L1872.7,501.7 L1874.1,506.0 L1875.4,510.3 L1876.7,514.6 L1878.0,518.9 L1879.2,523.2 L1880.4,527.6 L1881.6,531.9 L1882.7,536.3 L1883.7,540.7 L1884.7,545.1 L1885.7,549.5 L1886.6,553.9 L1887.5,558.3 L1888.3,562.7 L1889.2,567.1 L1890.0,571.5 L1890.8,576.0 L1891.6,580.4 L1892.4,584.8 L1893.1,589.3 L1893.9,593.7 L1894.6,598.2 L1895.3,602.6 L1896.0,607.1 L1896.6,611.5 L1897.2,616.0 L1897.8,620.4 L1898.4,624.9 L1898.9,629.4 L1899.5,633.8 L1899.9,638.3 L1900.4,642.8 L1900.9,647.3 L1901.4,651.7 L1902.0,656.2 L1902.7,660.6 L1903.5,665.0 L1904.3,669.5 L1905.2,673.9 L1906.1,678.3 L1907.0,682.7 L1907.8,687.1 L1908.7,691.5 L1909.6,696.0 L1910.5,700.4 L1911.4,704.8 L1912.3,709.2 L1913.2,713.6 L1914.1,718.0 L1915.1,722.4 L1916.0,726.8 L1917.0,731.2 L1917.9,732.9 L1918.9,728.7 L1919.8,724.3 L1920.7,719.9 L1921.7,715.5 L1922.6,711.1 L1923.4,706.7 L1924.2,702.3 L1924.9,697.8 L1925.7,693.4 L1926.4,688.9 L1927.2,684.5 L1927.9,680.1 L1928.7,675.6 L1929.4,671.2 L1930.1,666.7 L1930.8,662.3 L1931.5,657.8 L1932.1,653.4 L1932.7,648.9 L1933.3,644.5 L1933.8,640.0 L1934.3,635.5 L1934.8,631.0 L1935.3,626.6 L1935.7,622.1 L1936.2,617.6 L1936.7,613.1 L1937.3,608.7 L1937.8,604.2 L1938.4,599.7 L1939.1,595.3 L1939.8,590.9 L1940.6,586.4 L1941.5,582.0 L1942.3,577.6 L1943.2,573.2 L1944.1,568.8 L1945.0,564.3 L1945.9,559.9 L1946.8,555.5 L1947.8,551.1 L1948.8,546.8 L1949.9,542.4 L1951.0,538.0 L1952.0,533.6 L1953.1,529.3 L1954.2,524.9 L1955.3,520.5 L1956.5,516.2 L1957.7,511.9 L1959.0,507.6 L1960.5,503.3 L1962.0,499.1 L1963.6,494.9 L1965.3,490.7 L1967.0,486.5 L1968.7,482.4 L1970.6,478.3 L1972.6,474.3 L1974.8,470.5 L1977.2,466.7 L1979.7,462.9 L1982.4,459.3 L1985.1,455.8 L1988.1,452.5 L1991.3,449.4 L1994.6,446.5 L1998.1,443.7 L2001.7,441.0 L2005.4,438.5 L2009.2,436.0 L2013.0,433.6 L2016.8,431.3 L2020.8,429.2 L2024.8,427.3 L2028.9,425.8 L2033.1,424.6 L2037.5,423.7 L2041.9,423.2 L2046.4,422.9 L2050.8,422.8 L2055.3,423.0 L2059.7,423.5 L2064.1,424.3 L2068.4,425.3 L2072.7,426.5 L2077.0,427.9 L2081.2,429.5 L2085.4,431.2 L2089.5,433.0 L2093.6,434.9 L2097.6,436.8 L2101.7,438.7 L2105.7,440.7 L2109.7,442.8 L2113.7,444.8 L2117.7,447.0 L2121.6,449.1 L2125.5,451.4 L2129.4,453.7 L2133.3,456.0 L2137.1,458.3 L2141.0,460.6 L2144.9,462.9 L2148.7,465.2 L2152.6,467.6 L2156.4,469.9 L2160.2,472.3 L2164.0,474.8 L2167.7,477.3 L2171.4,479.8 L2175.1,482.4 L2178.7,485.1 L2182.2,487.9 L2185.7,490.8 L2189.0,493.8 L2192.2,496.8 L2195.5,499.9 L2198.9,502.7 L2202.5,505.4 L2206.2,507.7 L2210.1,509.9 L2214.1,511.8 L2218.3,513.5 L2222.5,515.0 L2226.7,516.2 L2231.0,517.1 L2235.4,517.6 L2239.7,517.5 L2244.0,517.0 L2248.2,516.0 L2252.4,514.6 L2256.6,513.0 L2260.6,511.1 L2264.6,509.1 L2268.3,506.9 L2271.8,504.4 L2274.7,501.5 L2277.1,498.2 L2279.0,494.5 L2280.7,490.7 L2282.6,486.9 L2284.8,483.4 L2287.5,480.0 L2290.6,476.9 L2293.9,473.9 L2297.4,471.1 L2300.9,468.4 L2304.6,465.9 L2308.4,463.4 L2312.1,461.0 L2315.6,458.8 L2318.9,456.8 L2321.7,455.0 L2323.9,453.7 L2331.3,449.1" stroke="#008000" stroke-width="12.5"/>
<path d="M286.7,369.9 L293.9,374.6 L296.1,376.1 L298.6,378.1 L301.5,380.6 L304.6,383.4 L307.6,386.6 L310.5,389.9 L313.2,393.5 L315.7,397.1 L318.1,401.0 L320.2,404.9 L322.3,408.9 L324.3,412.9 L326.2,417.0 L328.0,421.1 L329.7,425.2 L331.3,429.4 L332.8,433.7 L334.3,437.9 L335.7,442.2 L337.1,446.4 L338.5,450.7 L339.9,455.0 L341.3,459.3 L342.5,463.6 L343.7,467.9 L344.9,472.3 L346.0,476.6 L347.1,481.0 L348.2,485.4 L349.3,489.7 L350.4,494.1 L351.5,498.5 L352.5,502.9 L353.5,507.3 L354.5,511.6 L355.4,516.0 L356.3,520.5 L357.2,524.9 L358.1,529.3 L359.0,533.7 L359.9,538.1 L360.7,542.5 L361.6,546.9 L362.5,551.4 L363.4,555.8 L364.3,560.2 L365.2,564.6 L366.0,569.0 L366.9,573.4 L367.8,577.8 L368.7,582.2 L369.6,586.7 L370.4,591.1 L371.3,595.5 L372.1,599.9 L372.9,604.3 L373.5,608.8 L374.1,613.3 L374.6,617.7 L375.1,622.2 L375.5,626.7 L375.9,631.2 L376.3,635.6 L376.8,640.1 L377.2,644.6 L377.7,649.0 L378.4,653.5 L379.6,657.8 L381.3,661.9 L383.1,665.8 L385.8,664.9 L388.4,661.4 L389.8,657.2 L390.8,652.9 L391.8,648.5 L392.7,644.1 L393.7,639.7 L394.6,635.3 L395.6,630.9 L396.5,626.5 L397.4,622.1 L398.4,617.7 L399.3,613.3 L400.1,608.8 L400.9,604.4 L401.7,600.0 L402.4,595.5 L403.2,591.1 L403.9,586.7 L404.6,582.2 L405.3,577.8 L406.0,573.3 L406.7,568.9 L407.4,564.4 L408.2,560.0 L408.9,555.5 L409.6,551.1 L410.3,546.7 L411.0,542.2 L411.7,537.8 L412.4,533.3 L413.1,528.9 L413.8,524.4 L414.6,520.0 L415.3,515.5 L416.0,511.1 L416.7,506.7 L417.4,502.2 L418.2,497.8 L419.0,493.3 L419.8,488.9 L420.7,484.5 L421.6,480.1 L422.5,475.7 L423.3,471.3 L424.2,466.9 L425.1,462.4 L426.0,458.0 L426.9,453.6 L427.8,449.2 L428.6,444.8 L429.5,440.4 L430.5,436.0 L431.4,431.6 L432.5,427.2 L433.6,422.8 L434.7,418.5 L435.9,414.1 L437.0,409.8 L438.2,405.4 L439.4,401.1 L440.6,396.8 L441.8,392.4 L443.1,388.1 L444.5,383.9 L446.0,379.7 L447.7,375.5 L449.6,371.4 L451.5,367.4 L453.5,363.3 L455.5,359.3 L457.6,355.3 L459.8,351.4 L462.1,347.6 L464.6,344.0 L467.4,340.5 L470.4,337.2 L473.6,334.1 L476.9,331.2 L480.5,328.7 L484.2,326.5 L488.2,324.7 L492.4,323.3 L496.6,322.3 L500.9,321.8 L505.2,321.8 L509.5,322.3 L513.8,323.2 L517.9,324.6 L522.0,326.3 L525.8,328.3 L529.5,330.7 L533.1,333.4 L536.5,336.3 L539.8,339.3 L543.0,342.4 L546.2,345.6 L549.2,348.9 L552.1,352.4 L554.9,355.9 L557.6,359.5 L560.2,363.1 L562.8,366.8 L565.1,370.5 L567.2,374.4 L569.1,378.5 L570.8,382.6 L572.3,386.8 L573.7,391.1 L575.1,395.4 L576.5,399.7 L577.8,404.0 L579.2,408.2 L580.5,412.5 L581.8,416.9 L583.0,421.2 L584.2,425.5 L585.3,429.9 L586.4,434.3 L587.5,438.6 L588.6,443.0 L589.7,447.4 L590.8,451.7 L591.9,456.1 L593.0,460.5 L594.1,464.8 L595.2,469.2 L596.2,473.6 L597.3,477.9 L598.4,482.3 L599.5,486.7 L600.6,491.0 L601.7,495.4 L602.8,499.8 L603.9,504.1 L605.0,508.5 L606.1,512.9 L607.2,517.2 L608.3,521.6 L609.3,526.0 L610.4,530.3 L611.5,534.7 L612.6,539.1 L613.8,543.4 L614.9,547.8 L616.2,552.1 L617.5,556.4 L618.8,560.7 L620.2,565.0 L621.6,569.2 L623.0,573.5 L624.5,577.8 L625.9,582.0 L627.3,586.3 L628.7,590.6 L630.2,594.9 L631.6,599.1 L633.0,603.4 L634.5,607.6 L636.0,611.9 L637.5,616.1 L639.1,620.3 L640.8,624.5 L642.6,628.6 L644.4,632.7 L646.2,636.8 L648.0,641.0 L649.8,645.1 L651.4,649.3 L652.9,653.5 L654.3,657.8 L655.4,662.1 L656.4,666.5 L657.3,670.9 L658.2,675.3 L659.1,679.7 L660.0,684.1 L660.9,688.5 L661.8,692.9 L662.7,697.3 L663.5,701.7 L664.4,706.2 L665.3,710.6 L666.2,715.0 L667.1,719.4 L668.0,723.8 L668.8,728.2 L669.7,732.6 L670.5,737.1 L671.3,741.5 L672.1,745.9 L672.7,750.4 L673.3,754.8 L673.9,759.3 L674.5,763.8 L675.0,768.2 L675.5,772.7 L676.1,777.2 L676.6,781.6 L677.2,786.1 L677.7,790.6 L678.2,795.1 L678.8,799.5 L679.3,804.0 L679.8,808.5 L680.4,812.9 L680.9,817.4 L681.4,821.9 L682.0,826.3 L682.5,830.8 L682.9,835.3 L683.4,839.8 L683.8,844.3 L684.1,848.7 L684.5,853.2 L684.9,857.7 L685.2,862.2 L685.6,866.7 L686.0,871.2 L686.3,875.7 L686.7,880.1 L687.0,884.6 L687.4,889.1 L687.7,893.6 L688.1,898.1 L688.5,902.6 L688.8,907.1 L689.2,911.6 L689.5,916.0 L689.9,920.5 L690.2,925.0 L690.5,929.5 L690.7,934.0 L691.0,938.5 L691.2,943.0 L691.4,947.5 L691.7,952.0 L691.9,956.5 L692.1,961.0 L692.3,965.5 L692.6,970.0 L692.8,974.5 L693.0,979.0 L693.2,983.4 L693.5,987.9 L693.7,992.4 L693.9,996.9 L694.0,1001.4 L694.2,1005.9 L694.3,1010.4 L694.4,1014.9 L694.5,1019.4 L694.7,1023.9 L694.8,1028.4 L694.9,1032.9 L695.0,1037.4 L695.1,1041.9 L695.2,1046.4 L695.3,1050.9 L695.4,1055.4 L695.6,1059.9 L695.7,1064.4 L695.8,1068.9 L695.9,1073.4 L696.0,1077.9 L696.2,1082.4 L696.3,1086.9 L696.4,1091.4 L696.6,1095.9 L696.7,1100.4 L696.8,1104.9 L697.0,1107.1 L697.2,1103.0 L697.3,1098.5 L697.5,1094.0 L697.7,1089.5 L697.9,1085.0 L698.1,1080.5 L698.2,1076.0 L698.3,1071.5 L698.4,1067.0 L698.5,1062.5 L698.6,1058.0 L698.7,1053.5 L698.7,1049.0 L698.8,1044.5 L698.9,1040.0 L699.0,1035.5 L699.0,1031.0 L699.1,1026.5 L699.2,1022.0 L699.2,1017.5 L699.3,1013.0 L699.4,1008.5 L699.5,1004.0 L699.6,999.5 L699.8,995.0 L700.0,990.5 L700.2,986.0 L700.4,981.6 L700.6,977.1 L700.8,972.6 L701.1,968.1 L701.3,963.6 L701.5,959.1 L701.7,954.6 L702.0,950.1 L702.2,945.6 L702.4,941.1 L702.6,936.6 L702.9,932.1 L703.1,927.6 L703.3,923.1 L703.5,918.6 L703.8,914.1 L704.0,909.6 L704.2,905.1 L704.4,900.6 L704.7,896.1 L704.9,891.6 L705.2,887.1 L705.5,882.7 L705.8,878.2 L706.1,873.7 L706.4,869.2 L706.7,864.7 L707.0,860.2 L707.3,855.7 L707.6,851.2 L707.9,846.7 L708.2,842.2 L708.5,837.7 L708.8,833.3 L709.1,828.8 L709.4,824.3 L709.7,819.8 L710.0,815.3 L710.3,810.8 L710.6,806.3 L710.9,801.8 L711.2,797.3 L711.5,792.8 L711.8,788.3 L712.1,783.9 L712.4,779.4 L712.8,774.9 L713.1,770.4 L713.5,765.9 L713.8,761.4 L714.2,756.9 L714.5,752.4 L714.9,748.0 L715.3,743.5 L715.6,739.0 L716.0,734.5 L716.3,730.0 L716.7,725.5 L717.0,721.0 L717.4,716.5 L717.8,712.1 L718.1,707.6 L718.5,703.1 L718.9,698.6 L719.3,694.1 L719.7,689.6 L720.1,685.2 L720.6,680.7 L721.0,676.2 L721.5,671.7 L722.0,667.2 L722.5,662.8 L723.0,658.3 L723.5,653.8 L723.9,649.3 L724.4,644.9 L724.9,640.4 L725.4,635.9 L725.9,631.4 L726.3,627.0 L726.8,622.5 L727.3,618.0 L727.8,613.5 L728.3,609.1 L728.8,604.6 L729.2,600.1 L729.7,595.6 L730.2,591.2 L730.6,586.7 L731.1,582.2 L731.5,577.7 L732.0,573.2 L732.4,568.8 L732.9,564.3 L733.3,559.8 L733.8,555.3 L734.2,550.9 L734.7,546.4 L735.1,541.9 L735.6,537.4 L736.1,532.9 L736.6,528.5 L737.1,524.0 L737.7,519.5 L738.3,515.1 L738.9,510.6 L739.4,506.2 L740.0,501.7 L740.6,497.2 L741.2,492.8 L741.8,488.3 L742.4,483.8 L743.0,479.4 L743.6,474.9 L744.3,470.5 L744.9,466.0 L745.7,461.6 L746.4,457.1 L747.3,452.7 L748.1,448.3 L749.0,443.9 L749.9,439.5 L750.8,435.1 L751.6,430.7 L752.5,426.2 L753.4,421.8 L754.4,417.4 L755.3,413.0 L756.4,408.7 L757.6,404.4 L758.9,400.1 L760.3,395.8 L761.8,391.5 L763.3,387.3 L764.8,383.1 L766.4,378.8 L768.0,374.7 L769.8,370.6 L771.8,366.5 L773.9,362.6 L776.1,358.7 L778.4,354.8 L780.8,351.0 L783.2,347.2 L785.7,343.5 L788.3,339.9 L791.1,336.3 L794.0,332.9 L796.9,329.5 L800.0,326.3 L803.2,323.1 L806.5,320.2 L810.1,317.5 L813.8,315.0 L817.6,312.7 L821.5,310.5 L825.5,308.7 L829.5,307.3 L833.7,306.5 L837.8,306.3 L841.9,307.0 L845.8,308.3 L849.7,310.3 L853.3,312.6 L856.9,315.3 L860.3,318.2 L863.6,321.2 L866.8,324.3 L869.9,327.6 L872.8,331.0 L875.5,334.5 L878.0,338.2 L880.3,342.0 L882.6,345.9 L884.7,349.8 L886.8,353.8 L888.9,357.8 L890.8,361.9 L892.7,366.0 L894.5,370.1 L896.2,374.2 L897.9,378.4 L899.5,382.6 L901.2,386.8 L902.8,391.0 L904.4,395.2 L905.9,399.4 L907.4,403.7 L908.8,407.9 L910.3,412.2 L911.7,416.5 L913.1,420.7 L914.6,425.0 L916.0,429.3 L917.5,433.5 L918.9,437.8 L920.4,442.0 L921.9,446.3 L923.4,450.5 L925.0,454.7 L926.6,458.9 L928.3,463.1 L930.2,467.1 L932.3,471.1 L934.6,474.9 L937.1,478.5 L939.9,481.7 L943.1,484.5 L946.5,486.6 L950.1,487.9 L953.8,488.0 L957.5,487.1 L960.8,485.2 L963.8,482.5 L966.5,479.2 L969.0,475.6 L971.3,471.8 L973.6,468.0 L976.0,464.1 L978.5,460.4 L981.0,456.7 L983.6,453.0 L986.4,449.6 L989.4,446.3 L992.6,443.4 L996.0,441.0 L999.7,439.3 L1003.5,438.4 L1007.4,438.5 L1011.2,439.5 L1014.8,441.4 L1018.1,443.9 L1021.2,446.9 L1023.9,450.3 L1026.5,454.0 L1028.7,457.8 L1030.8,461.8 L1032.7,465.8 L1034.5,469.9 L1036.2,474.1 L1037.9,478.2 L1039.5,482.5 L1040.9,486.7 L1042.2,491.0 L1043.4,495.3 L1044.6,499.7 L1045.7,504.0 L1046.8,508.4 L1047.9,512.8 L1049.0,517.1 L1050.1,521.5 L1051.2,525.9 L1052.2,530.2 L1053.3,534.6 L1054.4,539.0 L1055.5,543.3 L1056.6,547.7 L1057.7,552.1 L1058.8,556.4 L1059.9,560.8 L1061.0,565.2 L1062.1,569.5 L1063.2,573.9 L1064.3,578.3 L1065.3,582.6 L1066.4,587.0 L1067.5,591.4 L1068.6,595.7 L1069.7,600.1 L1070.8,604.5 L1071.8,608.8 L1072.7,613.2 L1073.4,617.6 L1074.0,622.1 L1074.4,626.6 L1074.7,631.0 L1074.9,635.5 L1075.1,640.0 L1075.2,644.5 L1075.4,649.0 L1075.5,653.5 L1075.7,658.0 L1075.8,662.5 L1076.0,667.0 L1076.1,671.5 L1076.3,676.0 L1076.4,680.5 L1076.5,685.0 L1076.7,689.5 L1076.8,694.0 L1077.0,698.5 L1077.1,703.0 L1077.3,707.5 L1077.4,712.0 L1077.6,716.5 L1077.7,721.0 L1077.9,725.5 L1078.0,730.0 L1078.2,734.5 L1078.3,739.0 L1078.5,743.5 L1078.6,748.0 L1078.8,752.5 L1078.9,757.0 L1079.1,761.5 L1079.2,766.0 L1079.4,770.5 L1079.5,775.0 L1079.8,779.5 L1080.0,784.0 L1080.3,788.5 L1080.6,792.9 L1081.0,797.4 L1081.3,801.9 L1081.7,806.4 L1082.0,810.9 L1082.4,815.4 L1082.7,819.9 L1083.1,824.4 L1083.4,828.8 L1083.8,833.3 L1084.1,837.8 L1084.5,842.3 L1084.9,846.7 L1085.2,849.6 L1085.7,845.4 L1086.2,841.0 L1086.7,836.5 L1087.1,832.0 L1087.6,827.6 L1088.1,823.1 L1088.6,818.6 L1089.1,814.1 L1089.5,809.6 L1090.0,805.2 L1090.4,800.7 L1090.8,796.2 L1091.2,791.7 L1091.6,787.2 L1091.9,782.7 L1092.3,778.3 L1092.6,773.8 L1093.0,769.3 L1093.3,764.8 L1093.7,760.3 L1094.0,755.8 L1094.4,751.3 L1094.7,746.8 L1095.1,742.4 L1095.4,737.9 L1095.7,733.4 L1096.1,728.9 L1096.4,724.4 L1096.8,719.9 L1097.0,715.4 L1097.3,710.9 L1097.5,706.4 L1097.8,701.9 L1098.0,697.4 L1098.3,693.0 L1098.5,688.5 L1098.8,684.0 L1099.0,679.5 L1099.3,675.0 L1099.5,670.5 L1099.8,666.0 L1100.0,661.5 L1100.2,657.0 L1100.5,652.5 L1100.7,648.0 L1100.9,643.5 L1101.2,639.0 L1101.4,634.5 L1101.6,630.0 L1101.8,625.5 L1102.1,621.0 L1102.3,616.5 L1102.5,612.0 L1102.7,607.5 L1103.0,603.1 L1103.2,598.6 L1103.5,594.1 L1103.7,589.6 L1104.0,585.1 L1104.3,580.6 L1104.5,576.1 L1104.8,571.6 L1105.1,567.1 L1105.3,562.6 L1105.6,558.1 L1105.9,553.6 L1106.2,549.1 L1106.5,544.6 L1106.9,540.2 L1107.3,535.7 L1107.7,531.2 L1108.2,526.7 L1108.6,522.2 L1109.1,517.8 L1109.5,513.3 L1110.0,508.8 L1110.4,504.3 L1110.9,499.8 L1111.3,495.4 L1111.8,490.9 L1112.2,486.4 L1112.7,481.9 L1113.1,477.5 L1113.5,473.0 L1114.0,468.5 L1114.4,464.0 L1114.9,459.5 L1115.3,455.1 L1115.7,450.6 L1116.2,446.1 L1116.6,441.6 L1117.0,437.1 L1117.5,432.7 L1117.9,428.2 L1118.4,423.7 L1118.8,419.2 L1119.2,414.7 L1119.7,410.3 L1120.2,405.8 L1120.7,401.3 L1121.3,396.9 L1121.9,392.4 L1122.6,388.0 L1123.3,383.5 L1124.0,379.1 L1124.8,374.6 L1125.5,370.2 L1126.3,365.8 L1127.2,361.3 L1128.1,356.9 L1129.0,352.5 L1129.9,348.1 L1130.8,343.7 L1131.8,339.3 L1132.9,334.9 L1133.9,330.6 L1135.0,326.2 L1136.1,321.8 L1137.3,317.5 L1138.4,313.1 L1139.6,308.8 L1140.9,304.5 L1142.1,300.2 L1143.5,295.9 L1144.8,291.6 L1146.2,287.3 L1147.7,283.0 L1149.1,278.8 L1150.6,274.5 L1152.0,270.2 L1153.5,266.0 L1154.9,261.7 L1156.4,257.5 L1157.8,253.2 L1159.3,249.0 L1160.8,244.7 L1162.3,240.5 L1163.9,236.2 L1165.4,232.0 L1167.1,227.9 L1168.8,223.7 L1170.7,219.6 L1172.6,215.6 L1174.6,211.5 L1176.7,207.5 L1178.8,203.5 L1180.8,199.6 L1183.0,195.6 L1185.1,191.6 L1187.2,187.7 L1189.4,183.7 L1191.6,179.8 L1193.8,175.8 L1196.0,171.9 L1198.2,168.0 L1200.5,164.1 L1202.8,160.3 L1205.2,156.5 L1207.7,152.7 L1210.2,149.0 L1212.8,145.4 L1215.5,141.7 L1218.3,138.2 L1221.1,134.7 L1224.0,131.3 L1227.0,127.9 L1230.1,124.6 L1233.2,121.4 L1236.4,118.2 L1239.7,115.2 L1243.0,112.2 L1246.5,109.4 L1250.0,106.6 L1253.7,104.0 L1257.5,101.6 L1261.3,99.3 L1265.2,97.2 L1269.2,95.1 L1273.3,93.3 L1277.5,91.8 L1281.7,90.6 L1286.1,89.6 L1290.5,88.9 L1294.9,88.4 L1299.4,88.1 L1303.9,87.9 L1308.4,87.9 L1312.9,88.0 L1317.3,88.3 L1321.7,88.8 L1326.1,89.6 L1330.4,90.8 L1334.6,92.2 L1338.8,93.8 L1342.9,95.5 L1347.1,97.3 L1351.1,99.2 L1355.1,101.2 L1359.1,103.3 L1362.9,105.6 L1366.6,108.2 L1370.2,110.8 L1373.6,113.7 L1377.0,116.6 L1380.2,119.7 L1383.3,123.0 L1386.3,126.3 L1389.2,129.7 L1392.1,133.2 L1394.9,136.7 L1397.7,140.3 L1400.4,143.8 L1403.1,147.4 L1405.8,151.0 L1408.4,154.7 L1411.0,158.4 L1413.6,162.1 L1416.1,165.8 L1418.5,169.6 L1420.9,173.4 L1423.3,177.2 L1425.7,181.1 L1428.0,184.9 L1430.2,188.8 L1432.5,192.7 L1434.6,196.7 L1436.7,200.7 L1438.6,204.7 L1440.4,208.8 L1442.1,213.0 L1443.8,217.1 L1445.5,221.3 L1447.0,225.5 L1448.5,229.8 L1449.9,234.1 L1451.3,238.3 L1452.7,242.6 L1454.1,246.9 L1455.5,251.2 L1456.8,255.5 L1458.2,259.8 L1459.6,264.0 L1460.9,268.3 L1462.3,272.6 L1463.7,276.9 L1465.1,281.2 L1466.4,285.5 L1467.8,289.8 L1469.2,294.1 L1470.5,298.3 L1471.9,302.6 L1473.3,306.9 L1474.6,311.2 L1476.0,315.5 L1477.3,319.8 L1478.6,324.1 L1479.8,328.4 L1481.1,332.8 L1482.3,337.1 L1483.5,341.4 L1484.7,345.8 L1485.9,350.1 L1487.2,354.4 L1488.3,358.8 L1489.5,363.1 L1490.6,367.5 L1491.6,371.9 L1492.6,376.3 L1493.6,380.7 L1494.5,385.0 L1495.5,389.4 L1496.4,393.8 L1497.2,398.2 L1497.8,402.7 L1498.3,407.1 L1498.6,411.6 L1498.9,416.1 L1499.1,420.6 L1499.3,425.1 L1499.6,429.6 L1499.9,434.1 L1500.2,438.6 L1500.6,443.0 L1501.1,447.5 L1501.5,452.0 L1501.9,456.5 L1502.4,461.0 L1502.8,465.4 L1503.3,469.9 L1503.7,474.4 L1504.2,478.9 L1504.6,483.4 L1505.1,487.8 L1505.5,492.3 L1506.0,496.8 L1506.4,501.3 L1506.9,505.7 L1507.3,510.2 L1507.8,514.7 L1508.2,519.2 L1508.7,523.7 L1509.1,528.1 L1509.6,532.6 L1510.0,537.1 L1510.5,541.6 L1511.1,546.0 L1511.6,550.5 L1512.1,555.0 L1512.7,559.4 L1513.3,563.9 L1513.8,568.4 L1514.4,572.8 L1514.9,577.3 L1515.5,581.8 L1516.0,586.2 L1516.5,590.7 L1517.1,595.2 L1517.6,599.7 L1518.1,604.1 L1518.7,608.6 L1519.3,613.1 L1519.9,617.5 L1520.6,621.9 L1521.4,626.4 L1522.3,630.8 L1523.2,635.2 L1524.1,639.6 L1525.0,644.0 L1525.9,648.4 L1526.8,652.8 L1527.7,657.2 L1528.6,661.6 L1529.5,666.0 L1530.3,667.4 L1530.8,663.0 L1531.3,658.6 L1531.9,654.1 L1532.4,649.6 L1532.9,645.2 L1533.4,640.7 L1534.0,636.2 L1534.5,631.8 L1535.0,627.3 L1535.6,622.8 L1536.1,618.4 L1536.6,613.9 L1537.1,609.4 L1537.7,604.9 L1538.2,600.5 L1538.7,596.0 L1539.2,591.5 L1539.8,587.1 L1540.3,582.6 L1540.8,578.1 L1541.3,573.6 L1541.9,569.2 L1542.4,564.7 L1542.9,560.2 L1543.5,555.8 L1544.0,551.3 L1544.6,546.8 L1545.1,542.4 L1545.6,537.9 L1546.2,533.4 L1546.7,529.0 L1547.3,524.5 L1547.9,520.0 L1548.5,515.6 L1549.1,511.1 L1549.8,506.7 L1550.4,502.2 L1551.1,497.8 L1551.8,493.3 L1552.5,488.9 L1553.2,484.4 L1554.0,480.0 L1554.9,475.6 L1555.9,471.2 L1556.9,466.8 L1558.0,462.5 L1559.2,458.1 L1560.4,453.8 L1561.6,449.4 L1562.8,445.1 L1564.1,440.8 L1565.4,436.5 L1566.8,432.2 L1568.2,428.0 L1569.7,423.7 L1571.3,419.6 L1573.1,415.5 L1575.1,411.6 L1577.4,408.0 L1579.9,404.8 L1582.7,401.7 L1585.7,398.8 L1588.8,396.0 L1592.1,393.3 L1595.6,390.7 L1599.2,388.7 L1603.1,387.2 L1607.2,386.5 L1611.3,386.7 L1615.5,387.5 L1619.4,389.0 L1623.2,391.1 L1626.7,393.7 L1629.9,396.6 L1632.9,399.9 L1635.6,403.4 L1638.1,407.0 L1640.3,410.9 L1642.5,414.8 L1644.5,418.9 L1646.4,422.9 L1648.3,427.0 L1650.0,431.1 L1651.7,435.3 L1653.2,439.5 L1654.7,443.8 L1656.2,448.0 L1657.7,452.3 L1659.2,456.5 L1660.6,460.8 L1662.1,465.0 L1663.6,469.3 L1665.0,473.5 L1666.5,477.8 L1668.0,482.1 L1669.5,486.3 L1670.9,490.6 L1672.4,494.8 L1673.9,499.1 L1675.3,503.3 L1676.8,507.6 L1678.3,511.8 L1679.8,516.1 L1681.2,520.3 L1682.7,524.6 L1684.2,528.8 L1685.6,533.1 L1687.1,537.4 L1688.6,541.6 L1690.1,545.9 L1691.5,550.1 L1693.0,554.4 L1694.5,558.6 L1695.9,562.9 L1697.4,567.1 L1698.8,570.8 L1699.8,567.2 L1700.7,562.8 L1701.5,558.4 L1702.4,553.9 L1703.4,549.5 L1704.3,545.1 L1705.3,540.8 L1706.3,536.4 L1707.3,532.0 L1708.4,527.6 L1709.4,523.2 L1710.5,518.8 L1711.6,514.5 L1712.7,510.1 L1713.8,505.8 L1715.0,501.4 L1716.2,497.1 L1717.3,492.7 L1718.5,488.4 L1719.7,484.0 L1720.9,479.7 L1722.2,475.4 L1723.4,471.1 L1724.7,466.7 L1725.9,462.4 L1727.2,458.1 L1728.5,453.8 L1729.8,449.5 L1731.2,445.2 L1732.6,440.9 L1734.1,436.7 L1735.6,432.4 L1737.1,428.2 L1738.8,424.1 L1740.6,419.9 L1742.5,415.9 L1744.5,411.8 L1746.6,407.9 L1748.7,403.9 L1751.0,400.0 L1753.3,396.1 L1755.6,392.3 L1758.1,388.6 L1760.6,384.9 L1763.3,381.4 L1766.2,378.1 L1769.4,375.1 L1772.9,372.7 L1776.6,370.8 L1780.7,369.4 L1784.9,368.6 L1789.1,368.4 L1793.4,368.8 L1797.6,369.8 L1801.8,371.2 L1805.7,373.0 L1809.6,375.3 L1813.2,377.8 L1816.8,380.5 L1820.2,383.3 L1823.5,386.4 L1826.7,389.5 L1829.7,392.8 L1832.7,396.2 L1835.6,399.6 L1838.5,403.0 L1841.4,406.5 L1844.2,410.0 L1847.0,413.6 L1849.8,417.1 L1852.6,420.6 L1855.4,424.1 L1858.4,427.4 L1861.4,430.6 L1864.6,433.3 L1868.0,435.4 L1871.6,436.6 L1875.3,436.7 L1878.9,435.7 L1882.4,433.8 L1885.8,431.2 L1888.9,428.1 L1891.8,424.8 L1894.6,421.3 L1897.3,417.7 L1899.9,414.1 L1902.6,410.4 L1905.2,406.8 L1907.9,403.2 L1910.7,399.6 L1913.4,396.1 L1916.3,392.6 L1919.2,389.2 L1922.3,386.0 L1925.5,382.8 L1928.8,379.8 L1932.2,377.0 L1935.8,374.3 L1939.5,372.0 L1943.4,369.9 L1947.4,368.4 L1951.6,367.3 L1955.7,366.8 L1959.9,367.1 L1964.1,368.0 L1968.1,369.4 L1972.0,371.4 L1975.6,373.8 L1979.1,376.5 L1982.3,379.5 L1985.4,382.7 L1988.3,386.1 L1990.9,389.7 L1993.4,393.4 L1995.7,397.3 L1997.8,401.2 L1999.8,405.2 L2001.8,409.3 L2003.6,413.4 L2005.3,417.5 L2006.9,421.7 L2008.5,425.9 L2009.9,430.2 L2011.3,434.5 L2012.5,438.8 L2013.7,443.1 L2014.9,447.5 L2016.0,451.8 L2017.1,456.2 L2018.1,460.6 L2019.1,465.0 L2019.9,469.4 L2020.7,473.8 L2021.4,478.3 L2022.2,482.7 L2022.9,487.1 L2023.6,491.6 L2024.3,496.0 L2025.0,500.5 L2025.7,504.9 L2026.4,509.4 L2027.1,513.8 L2027.7,518.3 L2028.3,522.7 L2028.9,527.2 L2029.5,531.7 L2030.0,536.1 L2030.5,540.6 L2031.1,545.1 L2031.6,549.5 L2032.1,554.0 L2032.7,558.5 L2033.2,562.9 L2033.8,567.4 L2034.4,571.9 L2035.1,576.3 L2035.8,580.8 L2036.5,585.2 L2037.3,589.6 L2038.1,594.1 L2038.9,598.5 L2039.6,602.9 L2040.4,607.4 L2041.2,611.8 L2042.0,616.2 L2042.8,620.7 L2043.6,625.1 L2044.5,629.5 L2045.3,633.9 L2046.2,638.3 L2047.1,642.8 L2047.9,647.2 L2048.8,651.6 L2049.7,656.0 L2050.6,660.4 L2051.5,664.8 L2052.3,669.2 L2053.2,673.7 L2054.1,678.1 L2055.0,682.5 L2055.8,686.9 L2056.6,691.3 L2057.4,695.8 L2058.2,700.2 L2058.9,704.6 L2059.6,709.1 L2060.3,713.5 L2061.0,718.0 L2061.6,722.4 L2062.3,726.5 L2063.0,724.3 L2063.7,719.9 L2064.4,715.5 L2065.1,711.0 L2065.7,706.6 L2066.4,702.1 L2067.1,697.7 L2067.7,693.2 L2068.4,688.7 L2069.0,684.3 L2069.6,679.8 L2070.2,675.4 L2070.8,670.9 L2071.3,666.4 L2071.9,662.0 L2072.4,657.5 L2072.8,653.0 L2073.1,648.5 L2073.4,644.1 L2073.5,639.6 L2073.7,635.1 L2073.9,630.6 L2074.0,626.1 L2074.2,621.6 L2074.3,617.1 L2074.5,612.6 L2074.6,608.1 L2074.8,603.6 L2074.9,599.1 L2075.0,594.6 L2075.2,590.1 L2075.4,585.6 L2075.6,581.1 L2075.9,576.6 L2076.2,572.1 L2076.7,567.6 L2077.2,563.2 L2077.8,558.7 L2078.4,554.2 L2079.0,549.8 L2079.6,545.3 L2080.1,540.9 L2080.7,536.4 L2081.3,531.9 L2081.9,527.5 L2082.5,523.0 L2083.1,518.6 L2083.8,514.1 L2084.5,509.7 L2085.2,505.2 L2086.0,500.8 L2086.8,496.4 L2087.7,492.0 L2088.6,487.5 L2089.4,483.1 L2090.3,478.7 L2091.2,474.3 L2092.1,469.9 L2093.0,465.5 L2093.9,461.1 L2094.9,456.7 L2095.9,452.3 L2097.0,447.9 L2098.2,443.6 L2099.5,439.3 L2100.7,435.0 L2102.0,430.6 L2103.3,426.3 L2104.6,422.0 L2105.9,417.7 L2107.3,413.5 L2108.8,409.2 L2110.4,405.0 L2112.1,400.9 L2113.9,396.7 L2115.8,392.7 L2117.7,388.6 L2119.6,384.5 L2121.7,380.5 L2123.8,376.6 L2126.1,372.8 L2128.6,369.1 L2131.2,365.4 L2134.0,361.9 L2136.9,358.6 L2140.0,355.3 L2143.3,352.4 L2146.8,349.8 L2150.5,347.4 L2154.4,345.3 L2158.4,343.4 L2162.6,341.7 L2166.8,340.4 L2171.1,339.3 L2175.5,338.4 L2179.9,337.8 L2184.3,337.5 L2188.8,337.5 L2193.2,337.7 L2197.7,338.1 L2202.1,338.8 L2206.5,339.6 L2210.9,340.5 L2215.3,341.6 L2219.6,342.8 L2223.9,344.0 L2228.2,345.3 L2232.5,346.6 L2236.9,347.9 L2241.2,349.1 L2245.5,350.4 L2249.9,351.5 L2254.2,352.5 L2258.6,353.3 L2263.1,353.9 L2267.5,354.4 L2272.0,354.8 L2276.5,355.1 L2281.0,355.2 L2285.5,355.4 L2290.0,355.5 L2294.5,355.7 L2298.9,356.1 L2303.4,356.6 L2307.8,357.1 L2312.0,357.8 L2315.9,358.5 L2319.3,359.1 L2322.1,359.7 L2324.2,360.2 L2331.3,362.1" stroke="#7e2f8e" stroke-width="12.5"/>
<path d="M284.5,569.6 L287.9,561.7 L288.9,559.3 L290.2,556.3 L291.7,552.7 L293.4,548.9 L295.2,544.8 L297.0,540.7 L298.9,536.7 L300.8,532.6 L302.8,528.6 L304.8,524.5 L306.8,520.5 L308.9,516.5 L311.1,512.6 L313.4,508.8 L315.9,505.1 L318.5,501.4 L321.3,497.9 L324.1,494.4 L327.0,491.0 L330.0,487.6 L333.0,484.3 L336.1,481.1 L339.4,478.0 L342.7,475.0 L346.2,472.2 L349.7,469.5 L353.4,466.9 L357.2,464.6 L361.1,462.6 L365.2,460.9 L369.4,459.5 L373.6,458.5 L377.9,458.0 L382.2,457.9 L386.5,458.4 L390.8,459.3 L394.9,460.7 L398.9,462.4 L402.7,464.5 L406.3,467.0 L409.7,469.9 L413.0,472.9 L416.2,476.0 L419.2,479.3 L422.2,482.7 L425.0,486.2 L427.6,489.8 L430.0,493.6 L432.3,497.4 L434.6,501.3 L436.7,505.2 L438.8,509.2 L440.6,513.3 L442.4,517.4 L443.9,521.6 L445.4,525.9 L446.9,530.1 L448.3,534.4 L449.7,538.7 L451.1,542.9 L452.5,547.2 L453.7,551.5 L455.0,555.9 L456.1,560.2 L457.3,564.6 L458.4,568.9 L459.5,573.3 L460.6,577.7 L461.6,582.0 L462.7,586.4 L463.7,590.8 L464.6,595.2 L465.4,599.6 L466.1,604.0 L466.7,608.5 L467.3,613.0 L467.9,617.4 L468.4,621.9 L469.0,626.4 L469.5,630.8 L470.1,635.3 L470.7,639.8 L471.2,644.2 L471.8,648.7 L472.3,653.2 L472.9,657.6 L473.4,662.1 L473.9,666.6 L474.5,671.0 L475.0,675.5 L475.6,680.0 L476.1,684.4 L476.6,688.9 L477.2,693.4 L477.7,697.9 L478.2,702.3 L478.8,706.8 L479.3,711.3 L479.8,715.7 L480.4,720.2 L480.9,724.7 L481.4,729.1 L482.0,733.6 L482.5,738.1 L483.0,742.6 L483.4,747.0 L483.8,751.5 L484.2,756.0 L484.6,760.5 L485.0,765.0 L485.3,769.5 L485.7,773.9 L486.0,778.4 L486.4,782.9 L486.8,787.4 L487.1,791.9 L487.5,796.4 L487.8,800.9 L488.2,805.4 L488.6,809.8 L488.9,814.3 L489.3,818.8 L489.6,823.3 L490.0,827.8 L490.3,832.3 L490.7,836.8 L491.0,841.3 L491.4,845.7 L491.7,850.2 L492.1,854.7 L492.4,859.2 L492.7,863.7 L493.1,868.2 L493.4,872.7 L493.7,877.2 L494.1,881.7 L494.4,886.1 L494.7,890.6 L495.1,895.1 L495.4,899.6 L495.7,904.1 L496.0,908.6 L496.2,913.1 L496.5,917.6 L496.7,922.1 L496.9,926.6 L497.1,931.1 L497.3,935.6 L497.6,940.1 L497.8,944.6 L498.1,949.0 L498.4,953.5 L498.9,958.0 L499.3,962.5 L499.8,966.1 L501.2,962.4 L502.5,958.1 L503.3,953.7 L503.7,949.3 L504.0,944.8 L504.2,940.3 L504.5,935.8 L504.7,931.3 L505.0,926.8 L505.2,922.3 L505.5,917.8 L505.7,913.3 L506.0,908.8 L506.2,904.3 L506.5,899.8 L506.7,895.3 L507.0,890.9 L507.2,886.4 L507.4,881.9 L507.7,877.4 L507.9,872.9 L508.1,868.4 L508.3,863.9 L508.6,859.4 L508.8,854.9 L509.0,850.4 L509.2,845.9 L509.5,841.4 L509.7,836.9 L509.9,832.4 L510.1,827.9 L510.4,823.4 L510.6,818.9 L510.8,814.4 L511.0,809.9 L511.3,805.4 L511.5,800.9 L511.7,796.4 L511.9,791.9 L512.2,787.5 L512.5,783.0 L512.8,778.5 L513.1,774.0 L513.4,769.5 L513.8,765.0 L514.1,760.5 L514.5,756.0 L514.8,751.5 L515.2,747.1 L515.6,742.6 L515.9,738.1 L516.3,733.6 L516.6,729.1 L517.0,724.6 L517.4,720.1 L517.7,715.6 L518.1,711.2 L518.4,706.7 L518.8,702.2 L519.2,697.7 L519.6,693.2 L520.1,688.7 L520.5,684.3 L521.0,679.8 L521.5,675.3 L522.1,670.9 L522.6,666.4 L523.1,661.9 L523.6,657.4 L524.2,653.0 L524.7,648.5 L525.2,644.0 L525.8,639.6 L526.3,635.1 L526.9,630.6 L527.5,626.2 L528.2,621.7 L528.9,617.3 L529.6,612.8 L530.3,608.4 L531.0,603.9 L531.7,599.5 L532.5,595.1 L533.2,590.6 L533.9,586.2 L534.7,581.7 L535.4,577.3 L536.2,572.9 L536.9,568.4 L537.6,564.0 L538.4,559.5 L539.1,555.1 L539.9,550.7 L540.6,546.2 L541.4,541.8 L542.2,537.4 L543.0,532.9 L544.0,528.5 L545.0,524.2 L546.1,519.8 L547.2,515.5 L548.4,511.1 L549.6,506.8 L550.8,502.4 L552.0,498.1 L553.2,493.8 L554.5,489.5 L555.9,485.2 L557.5,481.1 L559.3,477.0 L561.3,473.0 L563.5,469.0 L565.7,465.1 L568.0,461.2 L570.2,457.4 L572.5,453.5 L574.8,449.6 L577.1,445.7 L579.4,441.9 L581.8,438.2 L584.5,434.8 L587.4,431.7 L590.7,429.1 L594.4,427.2 L598.3,425.8 L602.4,425.2 L606.4,425.4 L610.4,426.3 L614.4,427.9 L618.1,430.0 L621.6,432.6 L624.9,435.5 L627.9,438.7 L630.8,442.2 L633.4,445.7 L636.0,449.4 L638.3,453.2 L640.5,457.1 L642.6,461.1 L644.5,465.2 L646.4,469.2 L648.3,473.3 L650.1,477.4 L651.8,481.6 L653.4,485.8 L654.8,490.1 L656.0,494.4 L657.2,498.7 L658.3,503.1 L659.4,507.4 L660.5,511.8 L661.6,516.2 L662.6,520.5 L663.7,524.9 L664.7,529.3 L665.7,533.7 L666.6,538.1 L667.5,542.5 L668.4,546.9 L669.3,551.3 L670.2,555.7 L671.0,560.2 L671.9,564.6 L672.7,569.0 L673.5,573.4 L674.3,577.9 L675.0,582.3 L675.7,586.7 L676.4,591.2 L677.1,595.6 L677.7,600.1 L678.4,604.5 L679.0,609.0 L679.6,613.5 L680.1,617.9 L680.5,622.4 L680.8,626.9 L681.1,631.4 L681.4,635.9 L681.6,640.4 L681.8,644.9 L682.0,649.4 L682.2,653.9 L682.5,658.4 L682.7,662.9 L683.0,667.3 L683.3,671.8 L683.6,676.3 L684.0,680.8 L684.4,685.3 L684.9,689.8 L685.3,694.2 L685.8,698.7 L686.2,703.2 L686.7,707.7 L687.1,712.2 L687.5,716.6 L688.0,721.1 L688.4,725.6 L688.9,730.1 L689.3,734.6 L689.7,739.0 L690.1,743.5 L690.5,748.0 L690.8,752.5 L691.1,757.0 L691.4,761.5 L691.7,766.0 L692.0,770.5 L692.3,775.0 L692.5,779.4 L692.8,783.9 L693.1,788.4 L693.4,792.9 L693.7,797.4 L694.0,801.9 L694.4,806.4 L694.9,810.9 L695.4,815.3 L695.9,819.1 L696.9,815.2 L697.8,810.9 L698.7,806.5 L699.4,802.0 L700.0,797.6 L700.4,793.1 L700.9,788.6 L701.3,784.1 L701.7,779.6 L702.1,775.2 L702.6,770.7 L703.0,766.2 L703.4,761.7 L703.8,757.2 L704.2,752.8 L704.7,748.3 L705.1,743.8 L705.5,739.3 L706.0,734.8 L706.4,730.4 L706.9,725.9 L707.3,721.4 L707.8,716.9 L708.2,712.4 L708.7,708.0 L709.1,703.5 L709.6,699.0 L710.0,694.5 L710.5,690.0 L710.9,685.6 L711.3,681.1 L711.7,676.6 L712.0,672.1 L712.3,667.6 L712.6,663.1 L712.8,658.6 L713.1,654.1 L713.3,649.6 L713.5,645.1 L713.7,640.7 L713.9,636.2 L714.1,631.7 L714.3,627.2 L714.5,622.7 L714.7,618.2 L714.9,613.7 L715.1,609.2 L715.4,604.7 L715.6,600.2 L715.8,595.7 L716.1,591.2 L716.4,586.7 L716.8,582.2 L717.3,577.8 L717.9,573.3 L718.5,568.8 L719.0,564.4 L719.6,559.9 L720.2,555.4 L720.8,551.0 L721.4,546.5 L722.0,542.1 L722.6,537.6 L723.2,533.1 L723.9,528.7 L724.5,524.2 L725.3,519.8 L726.2,515.4 L727.1,511.0 L728.1,506.6 L729.2,502.3 L730.3,497.9 L731.4,493.5 L732.5,489.2 L733.6,484.8 L734.7,480.4 L735.9,476.1 L737.0,471.7 L738.3,467.4 L739.5,463.1 L740.8,458.8 L742.1,454.5 L743.4,450.2 L744.7,445.8 L746.0,441.6 L747.4,437.3 L748.9,433.1 L750.6,428.9 L752.4,424.8 L754.3,420.7 L756.3,416.7 L758.4,412.8 L760.6,408.8 L762.8,404.9 L765.1,401.1 L767.6,397.4 L770.3,393.8 L773.2,390.5 L776.3,387.4 L779.7,384.6 L783.3,382.1 L787.1,380.2 L791.1,378.7 L795.3,377.9 L799.5,377.6 L803.8,377.9 L808.0,378.8 L812.1,380.3 L816.0,382.2 L819.7,384.5 L823.2,387.1 L826.5,390.1 L829.7,393.2 L832.8,396.4 L835.7,399.8 L838.3,403.4 L840.7,407.1 L842.9,411.0 L845.0,415.0 L847.0,419.0 L848.9,423.1 L850.8,427.1 L852.8,431.2 L854.7,435.3 L856.6,439.3 L858.5,443.4 L860.4,447.5 L862.2,451.6 L864.0,455.8 L865.7,459.9 L867.4,464.1 L869.1,468.2 L870.8,472.4 L872.4,476.6 L874.1,480.8 L875.8,484.9 L877.5,489.1 L879.3,493.3 L881.0,497.4 L882.8,501.6 L884.5,505.7 L886.5,509.7 L888.7,513.6 L891.3,517.2 L894.2,520.6 L897.3,521.6 L900.9,518.9 L903.9,515.8 L905.8,511.9 L907.4,507.8 L908.9,503.5 L910.3,499.3 L911.7,495.0 L913.2,490.7 L914.6,486.5 L916.0,482.2 L917.4,477.9 L918.9,473.7 L920.3,469.4 L921.8,465.1 L923.2,460.9 L924.7,456.6 L926.3,452.4 L927.9,448.2 L929.6,444.0 L931.2,439.8 L932.9,435.7 L934.6,431.5 L936.4,427.4 L938.3,423.3 L940.4,419.3 L942.5,415.4 L944.8,411.5 L947.2,407.7 L949.6,403.9 L952.2,400.3 L954.9,396.7 L957.8,393.3 L960.8,390.0 L964.0,387.0 L967.4,384.2 L971.0,381.9 L974.9,380.0 L979.0,378.7 L983.1,377.9 L987.3,377.8 L991.5,378.4 L995.5,379.6 L999.3,381.5 L1002.8,384.0 L1006.0,386.9 L1008.9,390.1 L1011.7,393.6 L1014.2,397.3 L1016.5,401.1 L1018.6,405.0 L1020.6,409.1 L1022.4,413.2 L1024.1,417.3 L1025.6,421.6 L1027.1,425.8 L1028.5,430.1 L1029.9,434.4 L1031.2,438.7 L1032.3,443.0 L1033.5,447.4 L1034.5,451.7 L1035.5,456.1 L1036.5,460.5 L1037.5,464.9 L1038.4,469.3 L1039.4,473.7 L1040.3,478.1 L1041.2,482.5 L1042.0,486.9 L1042.9,491.4 L1043.7,495.8 L1044.5,500.2 L1045.3,504.6 L1046.1,509.1 L1046.9,513.5 L1047.7,517.9 L1048.4,522.4 L1049.1,526.8 L1049.6,531.3 L1050.1,535.8 L1050.4,540.2 L1050.8,544.7 L1051.1,549.2 L1051.4,553.7 L1051.6,558.2 L1051.9,562.7 L1052.2,567.2 L1052.5,571.7 L1052.8,576.2 L1053.1,580.7 L1053.3,585.2 L1053.6,589.6 L1053.9,594.1 L1054.3,598.6 L1054.6,603.1 L1054.9,607.6 L1055.3,612.1 L1055.6,616.6 L1056.0,621.1 L1056.4,625.5 L1056.7,630.0 L1057.1,634.5 L1057.5,639.0 L1057.8,643.5 L1058.2,648.0 L1058.6,652.5 L1058.9,657.0 L1059.3,661.4 L1059.7,665.9 L1060.0,670.4 L1060.4,674.9 L1060.8,679.4 L1061.1,683.9 L1061.5,688.4 L1061.9,692.8 L1062.2,697.3 L1062.6,701.8 L1063.0,706.3 L1063.4,710.8 L1063.7,715.3 L1064.1,719.8 L1064.5,724.2 L1064.8,728.7 L1065.2,733.2 L1065.6,737.7 L1065.9,742.2 L1066.3,746.7 L1066.7,751.2 L1067.0,755.7 L1067.4,760.1 L1067.8,764.6 L1068.1,769.1 L1068.5,773.6 L1068.9,778.1 L1069.2,782.6 L1069.6,787.1 L1070.0,791.5 L1070.3,796.0 L1070.7,800.5 L1071.0,805.0 L1071.4,809.5 L1071.7,814.0 L1072.0,818.5 L1072.4,823.0 L1072.7,827.4 L1073.0,831.9 L1073.4,836.4 L1073.7,840.9 L1074.1,845.4 L1074.4,849.9 L1074.7,854.4 L1075.1,858.9 L1075.4,863.4 L1075.7,867.8 L1076.1,871.7 L1076.3,867.9 L1076.5,863.5 L1076.7,859.0 L1077.0,854.5 L1077.2,850.0 L1077.4,845.5 L1077.6,841.0 L1077.9,836.5 L1078.1,832.0 L1078.3,827.5 L1078.5,823.0 L1078.8,818.5 L1079.0,814.0 L1079.2,809.5 L1079.5,805.0 L1079.7,800.5 L1079.9,796.0 L1080.2,791.5 L1080.4,787.0 L1080.7,782.5 L1080.9,778.1 L1081.2,773.6 L1081.4,769.1 L1081.7,764.6 L1081.9,760.1 L1082.2,755.6 L1082.4,751.1 L1082.7,746.6 L1082.9,742.1 L1083.2,737.6 L1083.4,733.1 L1083.7,728.6 L1083.9,724.1 L1084.2,719.6 L1084.4,715.1 L1084.7,710.6 L1084.9,706.1 L1085.2,701.6 L1085.4,697.2 L1085.7,692.7 L1085.9,688.2 L1086.2,683.7 L1086.4,679.2 L1086.7,674.7 L1086.9,670.2 L1087.2,665.7 L1087.4,661.2 L1087.7,656.7 L1087.9,652.2 L1088.2,647.7 L1088.5,643.2 L1088.8,638.7 L1089.1,634.2 L1089.5,629.8 L1089.9,625.3 L1090.3,620.9 L1090.8,616.5 L1091.2,612.6 L1091.6,609.4 L1092.0,607.5 L1092.3,607.2 L1092.5,608.7 L1092.7,611.6 L1092.8,615.4 L1093.0,619.7 L1093.1,624.1 L1093.2,628.6 L1093.3,633.1 L1093.5,637.6 L1093.6,642.1 L1093.7,646.6 L1093.8,651.1 L1093.9,655.6 L1094.1,660.1 L1094.2,664.6 L1094.3,669.1 L1094.4,673.6 L1094.6,678.1 L1094.7,682.6 L1094.8,687.1 L1094.9,691.6 L1095.1,696.1 L1095.2,700.6 L1095.3,705.1 L1095.4,709.6 L1095.6,714.1 L1095.7,718.4 L1095.9,716.9 L1096.1,712.4 L1096.4,707.9 L1096.6,703.4 L1096.9,698.9 L1097.1,694.4 L1097.4,689.9 L1097.6,685.5 L1097.9,681.0 L1098.1,676.5 L1098.4,672.0 L1098.6,667.5 L1098.9,663.0 L1099.1,658.5 L1099.3,654.0 L1099.6,649.5 L1099.8,645.0 L1100.0,640.5 L1100.2,636.0 L1100.5,631.5 L1100.7,627.0 L1100.9,622.5 L1101.1,618.0 L1101.4,613.5 L1101.6,609.0 L1101.8,604.5 L1102.1,600.0 L1102.3,595.5 L1102.6,591.1 L1102.8,586.6 L1103.1,582.1 L1103.4,577.6 L1103.6,573.1 L1103.9,568.6 L1104.2,564.1 L1104.5,559.6 L1104.8,555.1 L1105.1,550.6 L1105.5,546.1 L1106.0,541.7 L1106.5,537.2 L1107.1,532.7 L1107.7,528.3 L1108.3,523.8 L1108.8,519.4 L1109.3,514.9 L1109.8,510.4 L1110.3,505.9 L1110.7,501.5 L1111.2,497.0 L1111.6,492.5 L1112.1,488.0 L1112.5,483.5 L1112.9,479.1 L1113.4,474.6 L1113.8,470.1 L1114.3,465.6 L1114.7,461.1 L1115.1,456.7 L1115.6,452.2 L1116.0,447.7 L1116.5,443.2 L1116.9,438.7 L1117.3,434.3 L1117.8,429.8 L1118.2,425.3 L1118.6,420.8 L1119.1,416.3 L1119.5,411.9 L1120.0,407.4 L1120.5,402.9 L1121.1,398.5 L1121.7,394.0 L1122.4,389.5 L1123.1,385.1 L1123.8,380.7 L1124.5,376.2 L1125.3,371.8 L1126.1,367.3 L1126.9,362.9 L1127.7,358.5 L1128.6,354.1 L1129.6,349.7 L1130.5,345.3 L1131.5,340.9 L1132.5,336.5 L1133.5,332.1 L1134.6,327.8 L1135.7,323.4 L1136.8,319.0 L1138.0,314.7 L1139.2,310.4 L1140.4,306.0 L1141.7,301.7 L1143.0,297.4 L1144.3,293.1 L1145.7,288.8 L1147.2,284.6 L1148.6,280.3 L1150.0,276.0 L1151.5,271.8 L1152.9,267.5 L1154.4,263.2 L1155.8,259.0 L1157.3,254.7 L1158.8,250.5 L1160.3,246.2 L1161.8,242.0 L1163.3,237.8 L1164.9,233.5 L1166.5,229.3 L1168.2,225.2 L1170.0,221.1 L1171.9,217.0 L1173.9,213.0 L1176.0,209.0 L1178.0,205.0 L1180.1,201.0 L1182.2,197.0 L1184.3,193.0 L1186.5,189.1 L1188.6,185.1 L1190.8,181.2 L1193.0,177.2 L1195.2,173.3 L1197.4,169.4 L1199.7,165.5 L1202.0,161.7 L1204.4,157.8 L1206.8,154.1 L1209.3,150.3 L1211.9,146.7 L1214.6,143.0 L1217.3,139.5 L1220.1,135.9 L1223.0,132.5 L1225.9,129.1 L1229.0,125.8 L1232.1,122.5 L1235.2,119.3 L1238.5,116.3 L1241.8,113.3 L1245.2,110.4 L1248.8,107.6 L1252.4,104.9 L1256.1,102.5 L1259.9,100.1 L1263.8,97.9 L1267.8,95.8 L1271.8,94.0 L1276.0,92.3 L1280.2,91.0 L1284.5,89.9 L1288.9,89.2 L1293.4,88.6 L1297.8,88.2 L1302.3,88.0 L1306.8,87.9 L1311.3,87.9 L1315.7,88.1 L1320.2,88.6 L1324.6,89.3 L1328.9,90.3 L1333.1,91.6 L1337.3,93.2 L1341.5,94.9 L1345.6,96.7 L1349.7,98.5 L1353.7,100.5 L1357.7,102.6 L1361.6,104.8 L1365.3,107.2 L1368.9,109.9 L1372.4,112.6 L1375.8,115.6 L1379.1,118.6 L1382.2,121.8 L1385.3,125.1 L1388.2,128.5 L1391.1,132.0 L1393.9,135.5 L1396.7,139.0 L1399.4,142.6 L1402.2,146.2 L1404.9,149.8 L1407.5,153.4 L1410.1,157.1 L1412.7,160.8 L1415.2,164.5 L1417.6,168.3 L1420.1,172.1 L1422.5,175.9 L1424.8,179.7 L1427.2,183.5 L1429.4,187.4 L1431.7,191.3 L1433.9,195.2 L1435.9,199.2 L1437.9,203.3 L1439.8,207.4 L1441.5,211.5 L1443.2,215.6 L1444.9,219.8 L1446.5,224.0 L1448.0,228.3 L1449.4,232.5 L1450.8,236.8 L1452.2,241.1 L1453.6,245.4 L1455.0,249.7 L1456.3,254.0 L1457.7,258.2 L1459.1,262.5 L1460.5,266.8 L1461.8,271.1 L1463.2,275.4 L1464.6,279.7 L1465.9,284.0 L1467.3,288.3 L1468.7,292.5 L1470.1,296.8 L1471.4,301.1 L1472.8,305.4 L1474.2,309.7 L1475.5,314.0 L1476.8,318.3 L1478.1,322.6 L1479.4,326.9 L1480.6,331.2 L1481.9,335.6 L1483.1,339.9 L1484.3,344.2 L1485.5,348.6 L1486.7,352.9 L1487.9,357.2 L1489.1,361.6 L1490.2,366.0 L1491.2,370.3 L1492.2,374.7 L1493.2,379.1 L1494.2,383.5 L1495.2,387.9 L1496.1,392.3 L1496.9,396.7 L1497.6,401.1 L1498.1,405.6 L1498.5,410.0 L1498.8,414.5 L1499.0,419.0 L1499.2,423.5 L1499.5,428.0 L1499.8,432.5 L1500.1,437.0 L1500.5,441.5 L1500.9,445.9 L1501.3,450.4 L1501.8,454.9 L1502.2,459.4 L1502.7,463.9 L1503.1,468.3 L1503.6,472.8 L1504.0,477.3 L1504.5,481.8 L1504.9,486.3 L1505.4,490.7 L1505.8,495.2 L1506.3,499.7 L1506.7,504.2 L1507.2,508.6 L1507.6,513.1 L1508.0,517.6 L1508.5,522.1 L1508.9,526.6 L1509.4,531.0 L1509.9,535.5 L1510.4,540.0 L1510.9,544.5 L1511.4,548.9 L1512.0,553.4 L1512.5,557.9 L1513.1,562.3 L1513.6,566.8 L1514.2,571.3 L1514.7,575.7 L1515.3,580.2 L1515.8,584.7 L1516.4,589.1 L1516.9,593.6 L1517.4,598.1 L1517.9,602.6 L1518.5,607.0 L1519.0,611.5 L1519.5,616.0 L1519.9,620.4 L1520.3,624.9 L1520.7,629.4 L1521.1,633.9 L1521.4,638.4 L1521.8,642.9 L1522.1,647.4 L1522.5,651.8 L1522.8,656.3 L1523.2,660.8 L1523.6,665.3 L1523.9,669.8 L1524.3,674.3 L1524.6,678.8 L1525.0,683.3 L1525.3,687.7 L1525.7,692.2 L1526.0,696.7 L1526.4,701.2 L1526.7,705.7 L1527.1,710.2 L1527.4,714.7 L1527.8,719.2 L1528.1,723.7 L1528.5,728.1 L1528.8,732.6 L1529.2,737.1 L1529.5,741.6 L1529.9,746.1 L1530.2,750.6 L1530.6,755.1 L1530.9,759.6 L1531.3,764.0 L1531.6,768.5 L1531.9,773.0 L1532.2,777.5 L1532.5,782.0 L1532.6,786.5 L1532.8,791.0 L1532.9,795.5 L1533.0,800.0 L1533.1,804.5 L1533.1,809.0 L1533.2,813.5 L1533.3,818.0 L1533.4,822.5 L1533.5,827.0 L1533.5,831.5 L1533.6,836.0 L1533.7,840.5 L1533.8,845.0 L1533.9,849.5 L1533.9,854.0 L1534.0,858.5 L1534.1,863.0 L1534.2,867.5 L1534.2,872.0 L1534.3,876.5 L1534.4,881.0 L1534.5,885.5 L1534.6,890.0 L1534.6,894.5 L1534.7,899.0 L1534.8,903.5 L1534.9,908.0 L1535.0,912.5 L1535.0,917.0 L1535.1,921.5 L1535.2,926.0 L1535.3,930.5 L1535.4,935.0 L1535.4,939.5 L1535.5,944.0 L1535.6,948.5 L1535.7,953.0 L1535.8,957.5 L1535.9,962.0 L1535.9,966.5 L1536.0,971.0 L1536.1,975.5 L1536.2,980.0 L1536.3,984.1 L1536.4,980.9 L1536.6,976.5 L1536.7,972.0 L1536.8,967.5 L1537.0,963.0 L1537.1,958.5 L1537.3,954.0 L1537.4,949.5 L1537.5,945.0 L1537.7,940.5 L1537.8,936.0 L1538.0,931.5 L1538.1,927.0 L1538.2,922.5 L1538.4,918.0 L1538.5,913.5 L1538.6,909.0 L1538.8,904.5 L1538.9,900.0 L1539.1,895.5 L1539.2,891.0 L1539.3,886.5 L1539.5,882.0 L1539.6,877.5 L1539.7,873.0 L1539.9,868.5 L1540.0,864.0 L1540.1,859.5 L1540.3,855.0 L1540.4,850.5 L1540.5,846.0 L1540.7,841.5 L1540.8,837.0 L1540.9,832.5 L1541.1,828.0 L1541.2,823.5 L1541.3,819.0 L1541.5,814.5 L1541.6,810.0 L1541.8,805.5 L1541.9,801.0 L1542.0,796.5 L1542.2,792.0 L1542.4,787.5 L1542.6,783.0 L1542.9,778.5 L1543.2,774.0 L1543.5,769.5 L1543.9,765.0 L1544.3,760.6 L1544.7,756.1 L1545.1,751.6 L1545.4,747.1 L1545.8,742.6 L1546.2,738.1 L1546.6,733.7 L1547.0,729.2 L1547.4,724.7 L1547.8,720.2 L1548.2,715.7 L1548.5,711.2 L1548.9,706.7 L1549.3,702.3 L1549.7,697.8 L1550.1,693.3 L1550.5,688.8 L1550.9,684.3 L1551.3,679.8 L1551.6,675.4 L1552.0,670.9 L1552.4,666.4 L1552.8,661.9 L1553.2,657.4 L1553.6,652.9 L1554.0,648.4 L1554.4,644.0 L1554.7,639.5 L1555.1,635.0 L1555.5,630.5 L1555.9,626.0 L1556.3,621.5 L1556.7,617.1 L1557.1,612.6 L1557.5,608.1 L1557.9,603.6 L1558.3,599.1 L1558.7,594.6 L1559.1,590.2 L1559.6,585.7 L1560.0,581.2 L1560.4,576.7 L1560.9,572.2 L1561.4,567.8 L1561.9,563.3 L1562.5,558.8 L1563.0,554.4 L1563.6,549.9 L1564.1,545.4 L1564.7,541.0 L1565.3,536.5 L1565.9,532.0 L1566.5,527.6 L1567.1,523.1 L1567.8,518.7 L1568.4,514.2 L1569.1,509.8 L1569.8,505.3 L1570.5,500.9 L1571.2,496.4 L1572.0,492.0 L1572.9,487.6 L1574.0,483.2 L1575.1,478.9 L1576.4,474.6 L1577.8,470.3 L1579.3,466.1 L1581.0,461.9 L1582.7,457.8 L1584.6,453.7 L1586.4,449.6 L1588.4,445.6 L1590.4,441.6 L1592.7,437.8 L1595.2,434.2 L1598.1,430.9 L1601.2,427.9 L1604.6,425.2 L1608.3,422.9 L1612.2,421.1 L1616.3,419.6 L1620.6,418.5 L1624.9,417.6 L1629.1,416.9 L1633.1,416.5 L1636.8,416.9 L1640.2,418.2 L1643.1,420.5 L1645.7,423.6 L1648.1,427.1 L1650.4,430.9 L1652.5,434.8 L1654.6,438.8 L1656.6,442.9 L1658.5,446.9 L1660.3,451.0 L1662.1,455.2 L1663.8,459.3 L1665.5,463.5 L1667.1,467.7 L1668.7,471.9 L1670.3,476.1 L1671.8,480.4 L1673.2,484.6 L1674.7,488.9 L1676.1,493.2 L1677.5,497.4 L1678.9,501.7 L1680.3,506.0 L1681.7,510.3 L1683.0,514.6 L1684.4,518.9 L1685.7,523.2 L1687.0,527.5 L1688.2,531.8 L1689.5,536.1 L1690.6,540.5 L1691.7,544.8 L1692.7,549.2 L1693.6,553.6 L1694.3,558.0 L1694.8,562.5 L1695.1,566.9 L1695.5,571.4 L1695.8,575.9 L1696.3,580.3 L1696.9,584.8 L1697.5,589.2 L1698.2,593.7 L1699.0,598.1 L1699.7,602.6 L1700.4,607.0 L1701.1,611.5 L1701.7,615.9 L1702.4,620.4 L1703.0,624.8 L1703.7,629.3 L1704.5,633.7 L1705.6,638.0 L1707.0,642.2 L1709.0,646.1 L1712.4,648.4 L1715.6,645.7 L1717.2,641.7 L1718.1,637.3 L1718.9,632.9 L1719.7,628.5 L1720.5,624.1 L1721.3,619.6 L1722.1,615.2 L1723.0,610.8 L1723.8,606.4 L1724.7,601.9 L1725.7,597.5 L1726.6,593.2 L1727.6,588.8 L1728.7,584.4 L1729.7,580.0 L1730.7,575.6 L1731.7,571.2 L1732.8,566.8 L1733.8,562.5 L1734.9,558.1 L1735.9,553.7 L1737.0,549.3 L1738.0,545.0 L1739.1,540.6 L1740.2,536.2 L1741.4,531.9 L1742.6,527.5 L1743.8,523.2 L1745.0,518.9 L1746.2,514.5 L1747.5,510.2 L1748.8,505.9 L1750.1,501.6 L1751.4,497.3 L1752.8,493.0 L1754.2,488.7 L1755.6,484.5 L1757.2,480.3 L1758.9,476.1 L1760.7,472.0 L1762.7,468.0 L1764.8,464.1 L1767.0,460.1 L1769.3,456.3 L1771.7,452.5 L1774.1,448.7 L1776.6,444.9 L1779.1,441.1 L1781.6,437.4 L1784.2,433.8 L1786.9,430.2 L1789.7,426.8 L1792.7,423.5 L1796.0,420.5 L1799.4,417.8 L1803.0,415.7 L1806.9,414.1 L1811.1,413.1 L1815.3,412.7 L1819.6,412.9 L1823.9,413.6 L1828.1,414.9 L1832.1,416.6 L1835.9,418.7 L1839.5,421.3 L1842.8,424.1 L1845.9,427.2 L1848.7,430.6 L1851.3,434.2 L1853.7,438.0 L1856.0,441.8 L1858.3,445.6 L1860.7,449.4 L1863.1,453.2 L1865.6,457.0 L1868.1,460.8 L1870.5,464.5 L1873.0,468.3 L1875.5,472.0 L1878.0,475.8 L1880.5,479.5 L1883.0,483.3 L1885.5,487.0 L1888.0,490.8 L1890.4,494.5 L1892.8,498.3 L1895.2,502.2 L1897.4,506.1 L1899.4,510.1 L1901.3,514.1 L1903.0,518.3 L1904.7,522.4 L1906.3,526.6 L1907.9,530.8 L1909.6,535.0 L1911.2,539.2 L1912.9,543.4 L1914.6,547.6 L1916.3,551.7 L1918.0,555.9 L1919.7,560.1 L1921.5,564.2 L1923.3,568.3 L1925.1,572.4 L1927.0,576.5 L1928.9,580.6 L1930.9,584.6 L1932.9,588.6 L1935.1,592.6 L1937.4,596.4 L1939.8,600.2 L1942.3,603.9 L1945.0,607.5 L1947.8,610.9 L1950.9,614.1 L1954.1,617.2 L1957.5,620.1 L1961.0,622.9 L1964.5,625.8 L1967.9,628.6 L1971.2,631.6 L1974.5,634.7 L1977.7,637.9 L1980.8,641.1 L1983.9,644.4 L1986.8,647.8 L1989.5,651.3 L1992.1,654.9 L1994.6,658.7 L1997.1,662.4 L1999.5,666.2 L2001.9,670.1 L2004.2,673.9 L2006.4,677.8 L2008.6,681.7 L2010.7,685.7 L2012.8,689.7 L2014.8,693.7 L2017.0,697.7 L2019.2,701.6 L2021.5,705.4 L2024.0,709.0 L2026.5,712.4 L2029.1,715.3 L2031.8,717.3 L2034.4,718.0 L2036.9,717.3 L2039.5,715.3 L2041.9,712.3 L2044.1,708.7 L2046.2,704.9 L2048.0,700.8 L2049.6,696.6 L2051.1,692.4 L2052.6,688.2 L2054.0,683.9 L2055.5,679.6 L2056.9,675.4 L2058.4,671.1 L2059.9,666.9 L2061.5,662.7 L2063.1,658.5 L2064.7,654.3 L2066.3,650.1 L2067.8,645.8 L2069.1,641.6 L2070.3,637.2 L2071.2,632.9 L2072.1,628.5 L2073.0,624.1 L2073.9,619.7 L2075.0,615.3 L2076.2,611.0 L2077.5,606.7 L2078.9,602.5 L2080.4,598.2 L2081.8,593.9 L2083.4,589.7 L2085.0,585.5 L2086.7,581.4 L2088.4,577.2 L2090.3,573.1 L2092.2,569.0 L2094.2,565.0 L2096.2,561.0 L2098.5,557.2 L2100.9,553.4 L2103.5,549.8 L2106.2,546.2 L2109.0,542.7 L2111.9,539.3 L2115.0,536.0 L2118.2,532.9 L2121.5,529.9 L2125.0,527.1 L2128.5,524.4 L2132.2,521.9 L2136.1,519.6 L2140.0,517.7 L2144.1,516.0 L2148.3,514.7 L2152.6,513.7 L2156.9,513.2 L2161.2,513.1 L2165.5,513.7 L2169.5,514.8 L2173.2,516.6 L2176.7,519.0 L2179.8,521.9 L2182.8,525.1 L2185.7,528.5 L2188.6,531.9 L2191.4,535.4 L2194.2,538.9 L2197.0,542.5 L2199.7,546.0 L2202.4,549.7 L2204.9,553.4 L2207.3,557.2 L2209.6,561.0 L2211.8,564.9 L2213.9,568.9 L2215.8,573.0 L2217.6,577.1 L2219.3,581.3 L2220.9,585.4 L2222.5,589.7 L2224.1,593.9 L2225.6,598.1 L2227.1,602.4 L2228.5,606.6 L2229.9,610.9 L2231.2,615.2 L2232.5,619.5 L2233.8,623.8 L2235.1,628.1 L2236.4,632.4 L2237.7,636.8 L2239.0,641.1 L2240.3,645.4 L2241.6,649.7 L2242.9,654.0 L2244.2,658.3 L2245.4,662.6 L2246.6,667.0 L2247.8,671.3 L2248.9,675.7 L2250.0,680.0 L2251.1,684.4 L2252.2,688.8 L2253.3,693.1 L2254.3,697.5 L2255.3,701.9 L2256.2,706.3 L2257.0,710.7 L2257.7,715.2 L2258.3,719.6 L2258.8,724.1 L2259.4,728.6 L2260.0,733.0 L2260.6,737.5 L2261.4,741.9 L2262.2,746.3 L2263.1,750.7 L2264.0,755.1 L2264.8,759.6 L2265.7,764.0 L2266.6,768.4 L2267.5,772.8 L2268.4,777.2 L2269.4,781.6 L2270.4,786.0 L2271.4,790.4 L2272.5,794.7 L2273.7,799.1 L2274.8,803.4 L2276.0,807.8 L2277.2,812.0 L2278.4,814.7 L2279.6,810.7 L2280.8,806.3 L2282.0,802.0 L2283.1,797.7 L2284.3,793.3 L2285.4,788.9 L2286.4,784.6 L2287.4,780.2 L2288.3,775.8 L2289.2,771.4 L2290.1,766.9 L2291.0,762.5 L2291.9,758.1 L2292.7,753.7 L2293.6,749.3 L2294.5,744.9 L2295.3,740.4 L2296.0,736.0 L2296.7,731.6 L2297.3,727.1 L2297.9,722.7 L2298.6,718.2 L2299.3,713.8 L2300.1,709.4 L2301.0,705.0 L2301.9,700.5 L2302.8,696.1 L2303.7,691.7 L2304.6,687.3 L2305.5,682.9 L2306.4,678.5 L2307.3,674.1 L2308.3,669.7 L2309.3,665.3 L2310.3,660.9 L2311.3,656.5 L2312.3,652.1 L2313.3,647.8 L2314.3,643.4 L2315.4,639.0 L2316.4,634.6 L2317.4,630.2 L2318.4,625.8 L2319.5,621.5 L2320.6,617.1 L2321.7,612.7 L2322.8,608.4 L2324.0,604.0 L2325.2,599.7 L2326.4,595.4 L2327.7,591.3 L2328.9,587.5 L2330.0,584.3 L2330.9,581.6 L2331.7,579.5 L2334.2,572.7" stroke="#0000ff" stroke-width="12.5"/>
<path d="M284.5,522.8 L287.9,514.8 L288.9,512.4 L290.2,509.4 L291.7,505.9 L293.4,502.0 L295.1,497.9 L296.9,493.8 L298.7,489.7 L300.5,485.6 L302.3,481.4 L304.1,477.3 L305.9,473.2 L307.7,469.1 L309.5,464.9 L311.3,460.8 L313.2,456.7 L315.0,452.6 L316.9,448.5 L318.8,444.4 L320.7,440.4 L322.7,436.3 L324.6,432.2 L326.6,428.2 L328.6,424.2 L330.7,420.2 L332.9,416.3 L335.3,412.5 L337.8,408.8 L340.4,405.1 L343.1,401.6 L346.0,398.1 L349.0,394.9 L352.2,391.8 L355.6,388.8 L359.1,386.0 L362.6,383.4 L366.3,380.9 L370.2,378.7 L374.2,376.8 L378.3,375.1 L382.5,373.8 L386.8,372.7 L391.1,372.0 L395.4,371.7 L399.8,371.9 L404.1,372.5 L408.5,373.5 L412.8,374.6 L417.0,376.1 L421.0,377.8 L425.0,379.8 L429.0,381.9 L432.8,384.2 L436.6,386.7 L440.3,389.2 L444.0,391.8 L447.6,394.5 L451.1,397.2 L454.7,400.0 L458.2,402.8 L461.8,405.6 L465.3,408.3 L468.9,411.0 L472.6,413.6 L476.3,416.0 L480.1,418.2 L484.1,420.1 L488.3,421.6 L492.5,422.8 L496.8,423.5 L501.1,423.7 L505.4,423.5 L509.8,422.7 L514.0,421.6 L518.2,420.2 L522.4,418.5 L526.4,416.6 L530.4,414.5 L534.3,412.4 L538.2,410.2 L542.2,408.1 L546.2,406.1 L550.3,404.3 L554.4,402.6 L558.7,401.1 L562.9,399.6 L567.2,398.3 L571.5,397.0 L575.8,396.0 L580.1,395.3 L584.4,395.0 L588.8,395.2 L593.2,395.8 L597.5,396.8 L601.7,398.0 L605.9,399.6 L609.9,401.4 L613.8,403.5 L617.7,405.8 L621.4,408.3 L625.0,410.9 L628.4,413.8 L631.7,416.8 L634.8,420.0 L637.9,423.3 L640.9,426.6 L643.9,430.0 L646.8,433.4 L649.6,436.9 L652.2,440.5 L654.8,444.2 L657.4,447.9 L659.9,451.7 L662.4,455.4 L664.9,459.2 L667.4,462.9 L669.8,466.7 L672.2,470.5 L674.5,474.3 L676.9,478.2 L679.2,482.1 L681.5,485.9 L683.7,489.8 L686.0,493.7 L688.4,497.5 L690.7,501.3 L693.2,505.1 L695.8,508.8 L698.5,512.3 L701.3,515.9 L704.2,519.3 L707.1,522.8 L710.0,526.1 L713.1,529.3 L716.4,532.2 L720.0,534.8 L723.7,537.2 L727.6,539.3 L731.6,541.0 L735.8,542.4 L740.0,543.3 L744.3,543.7 L748.6,543.6 L753.0,543.1 L757.3,542.3 L761.5,541.0 L765.6,539.3 L769.5,537.4 L773.4,535.2 L777.3,532.8 L781.0,530.4 L784.7,527.8 L788.3,525.2 L791.9,522.4 L795.4,519.6 L798.9,516.8 L802.3,513.9 L805.7,510.9 L809.0,507.9 L812.3,504.8 L815.5,501.6 L818.7,498.4 L821.9,495.3 L825.0,492.1 L828.2,488.8 L831.3,485.6 L834.4,482.4 L837.5,479.1 L840.6,475.9 L843.7,472.6 L846.8,469.3 L849.8,465.9 L852.7,462.5 L855.5,459.0 L858.2,455.4 L860.8,451.8 L863.4,448.1 L865.9,444.3 L868.3,440.5 L870.6,436.7 L872.9,432.8 L875.1,428.9 L877.2,424.9 L879.4,421.0 L881.6,417.1 L883.9,413.2 L886.3,409.4 L888.8,405.7 L891.4,402.0 L894.0,398.3 L896.7,394.7 L899.4,391.1 L902.2,387.6 L905.0,384.1 L908.0,380.7 L911.0,377.4 L914.0,374.0 L917.0,370.7 L920.1,367.5 L923.3,364.3 L926.6,361.2 L929.9,358.2 L933.4,355.4 L936.9,352.6 L940.5,349.9 L944.2,347.5 L948.0,345.3 L952.0,343.4 L956.2,341.9 L960.4,340.7 L964.7,339.9 L969.0,339.6 L973.3,339.8 L977.5,340.5 L981.7,341.7 L985.8,343.2 L989.7,345.2 L993.3,347.6 L996.6,350.4 L999.7,353.5 L1002.7,356.8 L1005.5,360.3 L1008.2,363.8 L1010.7,367.6 L1012.9,371.4 L1015.1,375.4 L1017.1,379.4 L1019.1,383.4 L1021.0,387.5 L1022.8,391.6 L1024.5,395.7 L1026.1,399.9 L1027.7,404.2 L1029.2,408.4 L1030.7,412.6 L1032.1,416.9 L1033.4,421.2 L1034.6,425.5 L1035.8,429.9 L1036.8,434.3 L1037.8,438.6 L1038.8,443.0 L1039.8,447.4 L1040.7,451.8 L1041.5,456.2 L1042.2,460.7 L1042.8,465.1 L1043.3,469.6 L1043.6,474.1 L1043.9,478.6 L1044.1,483.1 L1044.3,487.6 L1044.5,492.0 L1044.7,496.5 L1044.9,501.0 L1045.1,505.5 L1045.3,510.0 L1045.5,514.5 L1045.8,519.0 L1046.0,523.5 L1046.2,528.0 L1046.5,532.5 L1046.9,537.0 L1047.3,541.5 L1047.7,546.0 L1048.1,550.4 L1048.6,554.9 L1049.0,559.4 L1049.5,563.9 L1049.9,568.4 L1050.4,572.8 L1050.8,577.3 L1051.2,581.8 L1051.6,586.3 L1052.0,590.8 L1052.4,595.3 L1052.8,599.7 L1053.2,604.2 L1053.5,608.7 L1053.9,613.2 L1054.2,617.7 L1054.6,622.2 L1054.9,626.7 L1055.3,631.2 L1055.7,635.6 L1056.0,640.1 L1056.4,644.6 L1056.8,649.1 L1057.1,653.6 L1057.5,658.1 L1057.9,662.6 L1058.3,667.0 L1058.6,671.5 L1059.0,676.0 L1059.4,680.5 L1059.8,685.0 L1060.2,689.5 L1060.5,694.0 L1061.0,698.4 L1061.4,702.9 L1062.0,707.4 L1062.9,711.8 L1063.8,716.1 L1065.4,719.8 L1069.7,720.0 L1073.4,720.8 L1074.9,723.9 L1075.3,728.1 L1075.4,732.5 L1075.5,736.9 L1075.6,741.4 L1075.7,745.9 L1075.7,750.4 L1075.8,754.9 L1075.9,759.4 L1075.9,763.9 L1076.0,768.4 L1076.0,772.9 L1076.1,776.2 L1076.1,772.2 L1076.2,767.7 L1076.2,763.2 L1076.3,758.7 L1076.3,754.2 L1076.3,749.7 L1076.4,745.2 L1076.4,740.7 L1076.5,736.2 L1076.5,731.7 L1076.6,727.2 L1076.6,722.7 L1076.6,718.2 L1076.7,713.7 L1076.7,709.2 L1076.8,704.7 L1076.8,700.2 L1076.9,695.7 L1076.9,691.2 L1077.0,686.7 L1077.1,682.2 L1077.2,677.7 L1077.4,673.2 L1077.5,668.7 L1077.7,664.2 L1077.9,659.8 L1078.0,655.6 L1078.2,651.9 L1078.3,649.2 L1078.5,647.9 L1078.6,648.4 L1078.6,650.6 L1078.7,653.9 L1078.8,657.9 L1078.8,662.3 L1078.9,666.7 L1078.9,671.2 L1079.0,675.7 L1079.0,680.2 L1079.1,684.8 L1079.1,689.3 L1079.1,693.8 L1079.2,698.3 L1079.2,702.8 L1079.3,707.3 L1079.3,711.8 L1079.4,716.3 L1079.4,720.8 L1079.5,725.3 L1079.5,729.8 L1079.6,734.3 L1079.6,738.8 L1079.7,743.2 L1079.7,742.6 L1079.8,738.3 L1079.8,733.8 L1079.8,729.3 L1079.8,724.8 L1079.9,720.3 L1079.9,715.8 L1079.9,711.3 L1080.0,706.8 L1080.0,702.3 L1080.0,697.8 L1080.1,693.3 L1080.1,688.8 L1080.1,684.3 L1080.2,679.8 L1080.2,675.3 L1080.2,670.8 L1080.2,666.3 L1080.3,661.8 L1080.3,657.3 L1080.3,652.8 L1080.4,648.2 L1080.4,643.7 L1080.4,639.2 L1080.5,634.7 L1080.5,630.2 L1080.5,625.7 L1080.6,621.2 L1080.6,616.7 L1080.6,612.2 L1080.7,607.7 L1080.8,603.2 L1080.9,598.7 L1081.1,594.2 L1081.4,589.8 L1081.7,585.3 L1082.0,580.8 L1082.3,576.3 L1082.7,571.8 L1083.0,567.3 L1083.3,562.8 L1083.7,558.3 L1084.0,553.8 L1084.4,549.3 L1084.7,544.9 L1085.0,540.4 L1085.4,535.9 L1085.7,531.4 L1086.0,526.9 L1086.4,522.4 L1086.7,517.9 L1087.1,513.4 L1087.5,509.0 L1087.9,504.5 L1088.4,500.0 L1088.8,495.5 L1089.3,491.0 L1089.8,486.6 L1090.4,482.1 L1091.0,477.7 L1091.8,473.2 L1092.5,468.8 L1093.4,464.4 L1094.2,459.9 L1095.0,455.5 L1095.9,451.1 L1096.7,446.7 L1097.6,442.3 L1098.4,437.8 L1099.3,433.4 L1100.1,429.0 L1101.0,424.6 L1101.8,420.1 L1102.6,415.7 L1103.5,411.3 L1104.3,406.9 L1105.0,402.4 L1105.8,398.0 L1106.4,393.5 L1107.0,389.1 L1107.6,384.6 L1108.2,380.2 L1108.8,375.7 L1109.5,371.2 L1110.2,366.8 L1110.9,362.4 L1111.7,357.9 L1112.5,353.5 L1113.3,349.1 L1114.2,344.7 L1115.2,340.3 L1116.2,335.9 L1117.2,331.5 L1118.3,327.1 L1119.4,322.8 L1120.5,318.4 L1121.7,314.1 L1122.9,309.7 L1124.2,305.4 L1125.4,301.1 L1126.8,296.8 L1128.2,292.5 L1129.6,288.3 L1131.1,284.0 L1132.7,279.8 L1134.2,275.6 L1135.8,271.3 L1137.3,267.1 L1138.9,262.9 L1140.5,258.7 L1142.1,254.5 L1143.7,250.3 L1145.3,246.1 L1146.9,241.9 L1148.5,237.7 L1150.2,233.5 L1152.0,229.4 L1153.8,225.3 L1155.9,221.3 L1158.0,217.4 L1160.3,213.5 L1162.6,209.6 L1164.9,205.8 L1167.3,201.9 L1169.6,198.1 L1171.9,194.2 L1174.2,190.4 L1176.6,186.5 L1178.9,182.6 L1181.2,178.8 L1183.6,174.9 L1185.9,171.1 L1188.3,167.3 L1190.8,163.5 L1193.2,159.8 L1195.8,156.1 L1198.4,152.4 L1201.1,148.8 L1203.9,145.3 L1206.7,141.8 L1209.6,138.4 L1212.6,135.0 L1215.7,131.7 L1218.8,128.5 L1222.0,125.3 L1225.2,122.2 L1228.5,119.1 L1231.9,116.2 L1235.4,113.3 L1238.9,110.6 L1242.5,107.9 L1246.2,105.4 L1250.0,103.1 L1253.9,100.8 L1257.9,98.7 L1261.9,96.7 L1266.0,94.9 L1270.1,93.2 L1274.3,91.8 L1278.6,90.6 L1283.0,89.7 L1287.4,89.0 L1291.9,88.5 L1296.4,88.2 L1300.8,88.0 L1305.3,87.8 L1309.8,87.8 L1314.3,87.9 L1318.8,88.2 L1323.2,88.7 L1327.6,89.4 L1332.0,90.3 L1336.3,91.5 L1340.5,93.0 L1344.7,94.5 L1348.9,96.1 L1353.1,97.7 L1357.3,99.5 L1361.4,101.2 L1365.4,103.1 L1369.4,105.2 L1373.3,107.5 L1377.0,109.9 L1380.7,112.5 L1384.3,115.2 L1387.7,118.0 L1391.1,121.0 L1394.3,124.1 L1397.5,127.3 L1400.6,130.6 L1403.6,133.9 L1406.7,137.2 L1409.7,140.6 L1412.6,144.0 L1415.5,147.4 L1418.4,150.8 L1421.3,154.3 L1424.1,157.8 L1426.8,161.4 L1429.6,165.0 L1432.2,168.6 L1434.9,172.2 L1437.5,175.9 L1440.1,179.6 L1442.6,183.3 L1445.1,187.0 L1447.6,190.8 L1450.1,194.5 L1452.6,198.3 L1455.0,202.0 L1457.5,205.8 L1459.9,209.6 L1462.3,213.5 L1464.6,217.3 L1466.9,221.2 L1469.1,225.1 L1471.2,229.0 L1473.3,233.1 L1475.2,237.1 L1477.2,241.2 L1479.0,245.2 L1480.9,249.4 L1482.6,253.5 L1484.4,257.7 L1486.1,261.8 L1487.7,266.0 L1489.3,270.2 L1490.9,274.4 L1492.5,278.6 L1494.1,282.9 L1495.6,287.1 L1497.1,291.3 L1498.6,295.6 L1500.0,299.9 L1501.4,304.1 L1502.8,308.4 L1504.2,312.7 L1505.5,317.0 L1506.8,321.3 L1508.1,325.6 L1509.3,329.9 L1510.6,334.3 L1511.7,338.6 L1512.9,343.0 L1514.0,347.3 L1515.1,351.7 L1516.2,356.1 L1517.2,360.4 L1518.1,364.8 L1518.9,369.3 L1519.6,373.7 L1520.3,378.1 L1521.1,382.5 L1522.0,386.9 L1522.9,391.3 L1523.8,395.7 L1524.6,400.1 L1525.1,404.5 L1525.6,409.0 L1526.0,413.5 L1526.3,418.0 L1526.7,422.4 L1527.2,426.9 L1527.8,431.4 L1528.4,435.8 L1529.1,440.3 L1529.7,444.7 L1530.4,449.2 L1531.0,453.6 L1531.7,458.1 L1532.3,462.5 L1532.9,467.0 L1533.5,471.5 L1534.1,475.9 L1534.7,480.4 L1535.3,484.9 L1535.8,489.3 L1536.4,493.8 L1536.9,498.3 L1537.5,502.7 L1538.0,507.2 L1538.5,511.7 L1538.9,516.2 L1539.4,520.6 L1539.9,525.1 L1540.3,529.6 L1540.8,534.1 L1541.2,538.6 L1541.7,543.0 L1542.1,547.5 L1542.6,552.0 L1543.0,556.5 L1543.5,561.0 L1543.9,565.4 L1544.3,569.9 L1544.8,574.4 L1545.2,578.9 L1545.7,583.4 L1546.1,587.8 L1546.5,592.3 L1546.9,596.8 L1547.3,601.3 L1547.7,605.8 L1548.2,610.2 L1548.8,614.7 L1549.6,619.1 L1550.5,623.5 L1551.6,627.8 L1552.9,632.1 L1554.2,636.4 L1555.5,640.7 L1556.8,645.0 L1558.0,649.3 L1559.0,653.7 L1559.9,658.1 L1560.7,662.5 L1561.4,666.9 L1561.9,671.4 L1562.5,675.9 L1563.0,680.4 L1563.5,684.8 L1564.1,689.2 L1564.8,687.8 L1565.6,683.4 L1566.5,679.0 L1567.3,674.6 L1568.3,670.2 L1569.4,665.9 L1570.5,661.6 L1571.4,657.2 L1572.3,652.9 L1573.0,648.5 L1573.7,644.0 L1574.3,639.6 L1574.9,635.1 L1575.5,630.6 L1576.1,626.2 L1576.7,621.7 L1577.3,617.2 L1577.9,612.8 L1578.5,608.3 L1579.1,603.9 L1579.6,599.4 L1580.2,594.9 L1580.8,590.5 L1581.3,586.0 L1581.9,581.5 L1582.4,577.1 L1583.0,572.6 L1583.6,568.1 L1584.1,563.7 L1584.7,559.2 L1585.2,554.7 L1585.8,550.3 L1586.4,545.8 L1586.9,541.3 L1587.5,536.9 L1588.1,532.4 L1588.8,528.0 L1589.5,523.5 L1590.3,519.1 L1591.1,514.7 L1592.0,510.2 L1592.8,505.8 L1593.7,501.4 L1594.6,497.0 L1595.5,492.6 L1596.4,488.2 L1597.2,483.8 L1598.2,479.3 L1599.1,475.0 L1600.1,470.6 L1601.3,466.2 L1602.5,461.9 L1603.8,457.6 L1605.2,453.3 L1606.6,449.1 L1608.0,444.8 L1609.5,440.5 L1610.9,436.3 L1612.5,432.1 L1614.2,428.0 L1616.3,424.2 L1618.7,420.6 L1621.5,417.3 L1624.6,414.2 L1628.0,411.4 L1631.5,408.8 L1635.2,406.5 L1639.0,404.8 L1643.0,403.8 L1647.0,403.6 L1651.1,404.3 L1655.1,405.7 L1658.9,407.6 L1662.6,410.1 L1666.0,412.9 L1669.2,416.0 L1672.3,419.2 L1675.2,422.6 L1677.9,426.2 L1680.6,429.8 L1683.1,433.5 L1685.4,437.3 L1687.7,441.2 L1689.9,445.2 L1691.9,449.1 L1693.9,453.2 L1695.9,457.2 L1697.7,461.3 L1699.5,465.5 L1701.3,469.6 L1703.0,473.8 L1704.6,478.0 L1706.1,482.2 L1707.6,486.5 L1709.0,490.7 L1710.3,495.0 L1711.5,499.4 L1712.8,503.7 L1713.9,508.0 L1715.0,512.4 L1716.2,516.8 L1717.3,521.1 L1718.4,525.5 L1719.5,529.9 L1720.6,534.2 L1721.7,538.6 L1722.9,542.9 L1724.2,547.2 L1725.6,551.4 L1727.2,555.5 L1729.0,559.4 L1731.3,563.0 L1734.3,566.1 L1737.5,569.2 L1740.2,572.7 L1743.3,575.8 L1747.0,575.1 L1749.8,571.8 L1751.7,567.8 L1753.3,563.7 L1754.8,559.4 L1756.2,555.1 L1757.5,550.8 L1758.8,546.5 L1760.2,542.2 L1761.6,538.0 L1763.0,533.7 L1764.4,529.4 L1765.8,525.2 L1767.3,520.9 L1768.8,516.6 L1770.2,512.4 L1771.6,508.1 L1773.0,503.8 L1774.4,499.5 L1775.8,495.3 L1777.2,491.0 L1778.7,486.7 L1780.2,482.5 L1781.8,478.3 L1783.4,474.1 L1785.0,469.9 L1786.7,465.7 L1788.4,461.5 L1790.1,457.4 L1791.7,453.2 L1793.3,449.0 L1794.6,444.7 L1795.7,440.4 L1796.5,436.1 L1797.1,431.6 L1797.7,427.2 L1798.5,422.9 L1799.5,418.7 L1801.0,414.5 L1802.8,410.5 L1804.9,406.6 L1807.1,402.7 L1809.4,398.8 L1811.7,395.0 L1814.0,391.1 L1816.4,387.3 L1818.9,383.5 L1821.3,379.8 L1823.9,376.0 L1826.4,372.3 L1829.0,368.6 L1831.6,365.0 L1834.3,361.4 L1837.1,357.9 L1840.0,354.5 L1843.1,351.3 L1846.3,348.2 L1849.6,345.1 L1853.0,342.1 L1856.4,339.2 L1859.9,336.4 L1863.5,333.7 L1867.2,331.2 L1870.9,328.7 L1874.7,326.3 L1878.5,323.9 L1882.4,321.7 L1886.4,319.6 L1890.4,317.6 L1894.5,315.7 L1898.6,313.9 L1902.7,312.1 L1906.9,310.6 L1911.1,309.2 L1915.4,308.2 L1919.7,307.7 L1924.0,307.6 L1928.4,307.9 L1932.7,308.7 L1936.9,309.8 L1940.9,311.4 L1944.8,313.4 L1948.6,315.8 L1952.2,318.3 L1955.8,321.1 L1959.1,324.0 L1962.2,327.2 L1965.1,330.5 L1967.9,334.0 L1970.6,337.6 L1973.2,341.3 L1975.7,345.0 L1978.1,348.8 L1980.4,352.6 L1982.6,356.6 L1984.6,360.6 L1986.7,364.6 L1988.7,368.6 L1990.7,372.6 L1992.6,376.7 L1994.5,380.8 L1996.2,384.9 L1997.7,389.1 L1999.2,393.4 L2000.6,397.7 L2001.9,402.0 L2003.2,406.3 L2004.5,410.6 L2005.8,414.9 L2007.0,419.2 L2008.3,423.5 L2009.5,427.9 L2010.7,432.2 L2011.8,436.6 L2013.0,440.9 L2014.1,445.3 L2015.2,449.7 L2016.3,454.0 L2017.3,458.4 L2018.4,462.8 L2019.5,467.1 L2020.5,471.5 L2021.5,475.9 L2022.4,480.3 L2023.4,484.7 L2024.2,489.1 L2025.1,493.5 L2026.0,498.0 L2026.9,502.4 L2027.8,506.8 L2028.7,511.2 L2029.6,515.6 L2030.4,520.0 L2031.3,524.4 L2032.2,528.9 L2033.1,533.3 L2034.0,537.7 L2034.8,542.1 L2035.7,546.5 L2036.6,550.9 L2037.5,555.4 L2038.3,559.8 L2039.1,564.2 L2039.8,568.6 L2040.5,573.1 L2041.2,577.5 L2041.9,582.0 L2042.5,586.4 L2043.2,590.9 L2043.8,595.4 L2044.5,599.8 L2045.0,604.3 L2045.5,608.7 L2045.8,613.2 L2046.1,617.7 L2046.4,622.2 L2046.6,626.7 L2046.8,631.2 L2047.1,635.7 L2047.3,640.2 L2047.5,644.7 L2047.7,649.2 L2047.9,653.7 L2048.1,658.2 L2048.3,662.7 L2048.6,667.2 L2048.8,671.7 L2049.0,676.2 L2049.3,680.7 L2049.5,685.2 L2049.8,689.6 L2050.1,694.1 L2050.4,698.6 L2050.7,703.1 L2051.0,707.6 L2051.3,712.1 L2051.6,716.6 L2051.9,721.1 L2052.2,725.6 L2052.5,730.1 L2052.8,734.6 L2053.1,739.1 L2053.4,743.5 L2053.7,748.0 L2054.0,752.5 L2054.3,757.0 L2054.5,761.5 L2054.8,766.0 L2055.0,770.5 L2055.2,775.0 L2055.5,779.5 L2055.7,784.0 L2055.9,788.5 L2056.1,793.0 L2056.4,797.5 L2056.6,802.0 L2056.8,806.5 L2057.0,811.0 L2057.3,815.5 L2057.5,820.0 L2057.7,824.5 L2057.9,829.0 L2058.2,833.5 L2058.4,838.0 L2058.6,842.4 L2058.8,846.9 L2059.1,851.4 L2059.3,855.9 L2059.5,860.4 L2059.7,864.9 L2059.9,869.4 L2060.1,873.9 L2060.3,878.4 L2060.4,882.9 L2060.6,887.4 L2060.8,891.9 L2060.9,896.4 L2061.1,900.9 L2061.3,905.4 L2061.4,909.9 L2061.6,914.4 L2061.8,918.9 L2061.9,923.4 L2062.1,927.9 L2062.3,932.4 L2062.5,936.9 L2062.6,941.4 L2062.8,945.9 L2063.0,950.4 L2063.1,954.9 L2063.3,959.4 L2063.5,963.9 L2063.6,968.4 L2063.8,972.9 L2063.9,977.4 L2064.0,981.9 L2064.2,986.4 L2064.3,990.9 L2064.4,995.4 L2064.6,999.9 L2064.7,1004.4 L2064.8,1008.9 L2064.9,1013.4 L2065.1,1017.8 L2065.2,1019.1 L2065.5,1014.7 L2065.7,1010.3 L2066.0,1005.8 L2066.2,1001.3 L2066.5,996.8 L2066.7,992.3 L2067.0,987.8 L2067.2,983.3 L2067.5,978.8 L2067.7,974.3 L2067.9,969.8 L2068.2,965.3 L2068.4,960.8 L2068.6,956.3 L2068.8,951.8 L2069.1,947.3 L2069.3,942.8 L2069.5,938.3 L2069.7,933.8 L2070.0,929.3 L2070.2,924.8 L2070.4,920.4 L2070.6,915.9 L2070.9,911.4 L2071.1,906.9 L2071.3,902.4 L2071.5,897.9 L2071.8,893.4 L2072.0,888.9 L2072.2,884.4 L2072.4,879.9 L2072.7,875.4 L2072.9,870.9 L2073.1,866.4 L2073.3,861.9 L2073.6,857.4 L2073.8,852.9 L2074.0,848.4 L2074.2,843.9 L2074.5,839.4 L2074.7,834.9 L2074.9,830.4 L2075.1,825.9 L2075.4,821.4 L2075.6,816.9 L2075.8,812.4 L2076.0,807.9 L2076.3,803.4 L2076.5,799.0 L2076.7,794.5 L2076.9,790.0 L2077.2,785.5 L2077.4,781.0 L2077.6,776.5 L2077.8,772.0 L2078.1,767.5 L2078.3,763.0 L2078.6,758.5 L2078.9,754.0 L2079.1,749.5 L2079.4,745.0 L2079.7,740.5 L2080.0,736.0 L2080.3,731.5 L2080.6,727.0 L2080.9,722.6 L2081.2,718.1 L2081.5,713.6 L2081.8,709.1 L2082.1,704.6 L2082.4,700.1 L2082.7,695.6 L2083.0,691.1 L2083.3,686.6 L2083.6,682.1 L2083.8,677.6 L2084.0,673.1 L2084.2,668.6 L2084.4,664.1 L2084.5,659.6 L2084.7,655.1 L2084.9,650.6 L2085.0,646.1 L2085.2,641.6 L2085.4,637.1 L2085.5,632.6 L2085.7,628.1 L2085.9,623.6 L2086.0,619.1 L2086.2,614.7 L2086.4,610.2 L2086.6,605.7 L2086.8,601.2 L2087.1,596.7 L2087.4,592.2 L2087.8,587.7 L2088.2,583.2 L2088.6,578.7 L2089.1,574.3 L2089.5,569.8 L2090.0,565.3 L2090.4,560.8 L2090.9,556.3 L2091.3,551.9 L2091.8,547.4 L2092.2,542.9 L2092.7,538.4 L2093.2,534.0 L2093.8,529.5 L2094.4,525.0 L2095.0,520.6 L2095.7,516.1 L2096.4,511.7 L2097.1,507.2 L2097.8,502.8 L2098.6,498.3 L2099.3,493.9 L2100.0,489.5 L2100.7,485.0 L2101.5,480.6 L2102.3,476.2 L2103.2,471.8 L2104.2,467.4 L2105.2,463.0 L2106.3,458.6 L2107.4,454.2 L2108.4,449.9 L2109.6,445.5 L2110.7,441.2 L2111.8,436.8 L2113.1,432.5 L2114.4,428.2 L2115.8,423.9 L2117.4,419.7 L2118.9,415.5 L2120.6,411.3 L2122.2,407.1 L2123.8,402.9 L2125.5,398.8 L2127.3,394.6 L2129.3,390.6 L2131.3,386.6 L2133.6,382.8 L2136.0,379.0 L2138.5,375.2 L2141.0,371.6 L2143.7,368.1 L2146.7,364.7 L2149.8,361.7 L2153.3,359.0 L2156.9,356.5 L2160.8,354.2 L2164.7,352.2 L2168.8,350.6 L2173.0,349.3 L2177.3,348.4 L2181.6,347.9 L2186.0,347.7 L2190.4,348.0 L2194.7,348.7 L2198.9,349.8 L2203.1,351.3 L2207.2,353.0 L2211.1,355.0 L2214.9,357.3 L2218.6,359.9 L2222.1,362.6 L2225.5,365.6 L2228.7,368.6 L2231.8,371.8 L2234.8,375.2 L2237.7,378.6 L2240.5,382.1 L2243.2,385.8 L2245.7,389.4 L2248.1,393.2 L2250.3,397.1 L2252.5,401.1 L2254.5,405.1 L2256.5,409.1 L2258.5,413.1 L2260.4,417.2 L2262.3,421.3 L2264.1,425.4 L2265.8,429.6 L2267.6,433.7 L2269.4,437.9 L2271.1,442.0 L2272.9,446.1 L2274.8,450.2 L2276.6,454.3 L2278.5,458.4 L2280.3,462.5 L2282.1,466.6 L2283.8,470.8 L2285.4,475.0 L2286.9,479.2 L2288.2,483.5 L2289.6,487.8 L2290.9,492.1 L2292.3,496.4 L2293.9,500.6 L2295.6,504.7 L2297.5,508.8 L2299.5,512.8 L2301.6,516.8 L2303.8,520.6 L2306.2,524.3 L2308.9,527.7 L2311.8,530.5 L2315.0,532.5 L2318.4,533.5 L2321.6,533.5 L2324.4,532.9 L2326.7,531.9 L2328.5,530.9 L2334.2,526.5" stroke="#ff00ff" stroke-width="12.5"/>
<path d="M286.7,444.6 L292.4,451.2 L294.1,453.2 L296.3,455.6 L298.7,458.6 L301.4,461.8 L304.2,465.2 L307.0,468.7 L309.8,472.3 L312.5,475.8 L315.3,479.4 L318.0,483.0 L320.7,486.6 L323.3,490.2 L325.9,493.9 L328.4,497.7 L330.8,501.5 L333.2,505.3 L335.6,509.1 L338.0,512.9 L340.4,516.7 L342.8,520.5 L345.2,524.3 L347.6,528.1 L350.1,531.9 L352.6,535.6 L355.1,539.4 L357.6,543.1 L360.1,546.8 L362.7,550.5 L365.3,554.0 L368.2,557.4 L371.3,560.5 L374.7,563.3 L378.4,565.8 L382.1,567.9 L386.0,569.7 L390.0,570.9 L394.1,571.4 L398.2,571.2 L402.4,570.3 L406.5,569.0 L410.5,567.2 L414.2,565.0 L417.6,562.3 L420.9,559.4 L424.0,556.2 L427.1,552.9 L430.1,549.6 L433.1,546.2 L436.1,542.8 L439.0,539.4 L441.9,536.0 L444.8,532.6 L447.7,529.1 L450.6,525.7 L453.5,522.3 L456.5,518.9 L459.5,515.5 L462.6,512.3 L465.7,509.0 L468.9,505.8 L472.0,502.6 L475.2,499.5 L478.5,496.3 L481.7,493.2 L485.0,490.1 L488.3,487.1 L491.7,484.1 L495.0,481.1 L498.4,478.1 L501.8,475.1 L505.2,472.2 L508.7,469.4 L512.2,466.5 L515.7,463.7 L519.2,460.9 L522.8,458.2 L526.4,455.5 L530.0,452.8 L533.7,450.2 L537.3,447.6 L541.0,445.0 L544.8,442.5 L548.5,440.0 L552.2,437.5 L556.0,435.0 L559.6,432.4 L563.1,429.7 L566.5,426.8 L569.7,423.7 L572.7,420.4 L575.8,417.2 L578.9,414.1 L582.2,411.2 L585.8,408.7 L589.6,406.6 L593.6,404.8 L597.8,403.3 L602.0,402.2 L606.3,401.5 L610.7,401.3 L615.1,401.4 L619.5,402.0 L623.8,402.9 L627.9,404.2 L632.0,405.9 L635.9,407.9 L639.8,410.2 L643.5,412.6 L647.1,415.2 L650.6,418.1 L653.8,421.1 L657.0,424.3 L660.1,427.6 L663.1,430.9 L666.0,434.3 L668.8,437.8 L671.4,441.4 L673.8,445.2 L676.1,449.0 L678.3,452.9 L680.5,456.9 L682.6,460.8 L684.6,464.8 L686.6,468.9 L688.4,473.0 L690.1,477.1 L691.6,481.4 L693.0,485.6 L694.3,489.9 L695.6,494.2 L696.9,498.5 L698.2,502.9 L699.5,507.2 L700.8,511.5 L702.0,515.8 L703.2,520.2 L704.3,524.5 L705.5,528.9 L706.6,533.2 L707.7,537.6 L708.8,542.0 L709.9,546.3 L711.0,550.7 L712.1,555.0 L713.3,559.4 L714.5,563.7 L715.8,568.0 L717.2,572.3 L718.6,576.6 L720.0,580.9 L721.4,585.1 L722.8,589.4 L724.3,593.6 L726.3,595.2 L729.5,592.1 L731.7,588.4 L733.2,584.2 L734.4,579.9 L735.6,575.6 L736.8,571.2 L738.0,566.9 L739.1,562.5 L740.3,558.2 L741.5,553.8 L742.7,549.5 L743.8,545.2 L745.0,540.8 L746.2,536.5 L747.4,532.1 L748.6,527.8 L749.8,523.4 L751.0,519.1 L752.2,514.8 L753.5,510.5 L754.8,506.2 L756.2,501.9 L757.7,497.6 L759.2,493.4 L760.7,489.2 L762.3,484.9 L763.8,480.7 L765.4,476.5 L766.9,472.3 L768.5,468.0 L770.2,463.9 L771.9,459.7 L773.8,455.7 L775.8,451.6 L777.9,447.7 L780.0,443.7 L782.2,439.8 L784.4,435.8 L786.6,431.9 L788.9,428.1 L791.3,424.4 L793.9,420.8 L796.9,417.6 L800.1,414.6 L803.5,411.8 L807.1,409.4 L810.9,407.3 L814.7,405.9 L818.7,405.1 L822.8,405.2 L826.9,405.9 L831.0,407.2 L834.8,409.0 L838.4,411.3 L841.6,414.1 L844.5,417.3 L847.2,420.8 L849.7,424.5 L852.0,428.3 L854.1,432.3 L856.1,436.3 L857.9,440.4 L859.6,444.6 L861.2,448.7 L862.9,452.9 L864.4,457.1 L865.9,461.4 L867.3,465.7 L868.5,470.0 L869.7,474.3 L870.8,478.7 L871.9,483.1 L873.0,487.4 L874.1,491.8 L875.2,496.2 L876.2,500.5 L877.3,504.9 L878.3,509.3 L879.2,513.7 L880.1,518.1 L881.0,522.5 L881.9,526.9 L882.8,531.3 L883.7,535.8 L884.5,540.2 L885.4,544.6 L886.2,549.0 L887.0,553.5 L887.7,557.9 L888.4,562.3 L889.1,566.8 L889.8,571.2 L890.5,575.7 L891.1,580.1 L891.7,584.6 L892.3,589.1 L892.8,593.5 L893.2,598.0 L893.5,602.5 L893.6,607.0 L893.7,611.5 L893.8,616.0 L893.9,620.5 L893.9,625.0 L894.0,629.5 L894.0,634.0 L894.1,638.5 L894.1,643.0 L894.2,647.5 L894.2,652.0 L894.3,656.5 L894.4,661.0 L894.5,665.5 L894.7,670.0 L894.9,674.5 L895.2,679.0 L895.6,683.4 L896.0,687.9 L896.5,692.4 L896.9,696.9 L897.4,701.4 L897.8,705.8 L898.2,710.3 L898.7,714.8 L899.1,719.3 L899.6,723.8 L900.0,728.2 L900.5,732.7 L900.9,737.2 L901.4,741.7 L901.8,746.2 L902.3,750.6 L902.7,755.1 L903.2,759.6 L903.6,764.1 L904.1,768.6 L904.5,773.0 L905.0,777.5 L905.4,782.0 L905.9,786.5 L906.3,791.0 L906.7,795.4 L907.1,799.9 L907.6,804.4 L907.9,808.9 L908.3,813.4 L908.7,817.9 L909.1,822.3 L909.5,826.8 L909.9,831.3 L910.4,835.8 L911.0,840.0 L911.7,838.3 L912.4,833.9 L912.8,829.4 L913.2,824.9 L913.5,820.5 L913.8,816.0 L914.1,811.5 L914.5,807.0 L914.8,802.5 L915.1,798.0 L915.4,793.5 L915.7,789.0 L916.1,784.5 L916.4,780.0 L916.7,775.6 L917.1,771.1 L917.4,766.6 L917.7,762.1 L918.1,757.6 L918.4,753.1 L918.7,748.6 L919.1,744.1 L919.4,739.6 L919.8,735.2 L920.1,730.7 L920.4,726.2 L920.8,721.7 L921.1,717.2 L921.5,712.7 L921.9,708.2 L922.3,703.7 L922.7,699.3 L923.1,694.8 L923.6,690.3 L924.0,685.8 L924.5,681.3 L924.9,676.9 L925.4,672.4 L925.8,667.9 L926.2,663.4 L926.6,658.9 L926.9,654.4 L927.2,650.0 L927.5,645.5 L927.6,641.0 L927.8,636.5 L928.0,632.0 L928.2,627.5 L928.3,623.0 L928.5,618.5 L928.7,614.0 L928.8,609.5 L929.1,605.0 L929.4,600.5 L929.7,596.0 L930.2,591.5 L930.8,587.1 L931.4,582.6 L932.0,578.2 L932.7,573.7 L933.4,569.3 L934.0,564.8 L934.7,560.4 L935.5,555.9 L936.2,551.5 L937.0,547.1 L937.8,542.6 L938.7,538.2 L939.6,533.8 L940.5,529.4 L941.3,525.0 L942.2,520.6 L943.2,516.2 L944.1,511.8 L945.2,507.4 L946.3,503.0 L947.5,498.7 L948.8,494.4 L950.0,490.1 L951.3,485.8 L952.6,481.4 L953.9,477.1 L955.3,472.8 L956.7,468.6 L958.2,464.3 L959.8,460.1 L961.5,456.0 L963.3,451.9 L965.2,447.8 L967.1,443.7 L969.1,439.7 L971.1,435.7 L973.4,431.8 L975.8,428.1 L978.4,424.5 L981.3,421.1 L984.3,417.8 L987.4,414.7 L990.8,412.0 L994.4,409.7 L998.2,408.2 L1002.2,407.4 L1006.2,407.5 L1010.1,408.4 L1013.9,410.1 L1017.4,412.5 L1020.6,415.3 L1023.6,418.6 L1026.3,422.0 L1028.8,425.7 L1031.0,429.6 L1032.9,433.6 L1034.6,437.7 L1036.2,441.9 L1037.6,446.2 L1039.0,450.4 L1040.3,454.7 L1041.4,459.0 L1042.4,463.4 L1043.1,467.8 L1043.7,472.3 L1044.2,476.7 L1044.6,481.2 L1045.1,485.7 L1045.7,490.1 L1046.2,494.6 L1046.8,499.1 L1047.4,503.5 L1048.0,508.0 L1048.6,512.5 L1049.2,516.9 L1049.8,521.4 L1050.4,525.8 L1051.0,530.3 L1051.6,534.8 L1052.2,539.2 L1052.8,543.7 L1053.4,548.2 L1054.0,552.6 L1054.6,557.1 L1055.2,561.5 L1055.8,566.0 L1056.3,570.5 L1056.9,574.9 L1057.5,579.4 L1058.1,583.9 L1058.7,588.3 L1059.3,592.8 L1059.9,597.2 L1060.5,601.7 L1061.1,606.2 L1061.7,610.6 L1062.3,615.1 L1063.0,619.5 L1063.6,624.0 L1064.2,628.5 L1064.8,632.9 L1065.5,637.4 L1066.1,641.8 L1066.7,646.3 L1067.3,650.7 L1068.0,655.2 L1068.7,659.7 L1069.3,664.1 L1070.1,668.5 L1070.8,673.0 L1071.6,677.4 L1072.3,681.9 L1073.1,686.3 L1073.9,690.7 L1074.8,695.1 L1075.8,699.5 L1077.1,703.8 L1078.7,708.0 L1080.4,712.1 L1082.2,714.8 L1084.3,711.2 L1085.1,706.9 L1085.4,702.4 L1085.7,697.9 L1086.0,693.5 L1086.2,689.0 L1086.5,684.5 L1086.7,680.0 L1087.0,675.5 L1087.3,671.0 L1087.5,666.5 L1087.8,662.0 L1088.1,657.5 L1088.3,653.0 L1088.6,648.5 L1088.9,644.0 L1089.1,639.5 L1089.4,635.0 L1089.7,630.5 L1090.0,626.0 L1090.3,621.6 L1090.6,617.1 L1090.9,612.6 L1091.2,608.1 L1091.5,603.6 L1091.9,599.1 L1092.2,594.6 L1092.5,590.1 L1092.9,585.6 L1093.2,581.1 L1093.6,576.7 L1093.9,572.2 L1094.2,567.7 L1094.6,563.2 L1094.9,558.7 L1095.2,554.2 L1095.6,549.7 L1095.9,545.2 L1096.2,540.7 L1096.5,536.3 L1096.9,531.8 L1097.1,527.3 L1097.4,522.8 L1097.7,518.3 L1098.0,513.8 L1098.2,509.3 L1098.5,504.8 L1098.8,500.3 L1099.1,495.8 L1099.4,491.3 L1099.7,486.8 L1100.1,482.4 L1100.6,477.9 L1101.1,473.4 L1101.8,469.0 L1102.4,464.5 L1103.1,460.1 L1103.8,455.6 L1104.5,451.2 L1105.2,446.7 L1105.9,442.3 L1106.6,437.8 L1107.3,433.4 L1107.9,428.9 L1108.6,424.5 L1109.3,420.0 L1110.0,415.6 L1110.7,411.1 L1111.4,406.7 L1112.1,402.2 L1112.7,397.8 L1113.4,393.3 L1114.0,388.9 L1114.7,384.4 L1115.3,380.0 L1116.0,375.5 L1116.7,371.1 L1117.5,366.6 L1118.3,362.2 L1119.2,357.8 L1120.1,353.4 L1121.0,349.0 L1121.9,344.6 L1122.9,340.2 L1124.0,335.8 L1125.0,331.4 L1126.1,327.1 L1127.2,322.7 L1128.4,318.4 L1129.6,314.0 L1130.9,309.7 L1132.2,305.4 L1133.5,301.1 L1134.9,296.8 L1136.3,292.5 L1137.7,288.3 L1139.1,284.0 L1140.6,279.7 L1142.0,275.5 L1143.5,271.2 L1145.0,267.0 L1146.5,262.7 L1148.1,258.5 L1149.6,254.3 L1151.1,250.0 L1152.7,245.8 L1154.3,241.6 L1155.9,237.4 L1157.6,233.2 L1159.4,229.1 L1161.3,225.1 L1163.4,221.1 L1165.6,217.2 L1168.0,213.4 L1170.4,209.6 L1172.8,205.8 L1175.1,202.0 L1177.5,198.1 L1179.8,194.3 L1182.0,190.4 L1184.2,186.5 L1186.5,182.5 L1188.7,178.6 L1190.9,174.7 L1193.2,170.8 L1195.5,167.0 L1197.9,163.1 L1200.3,159.3 L1202.7,155.6 L1205.3,151.9 L1207.9,148.2 L1210.5,144.6 L1213.3,141.0 L1216.1,137.5 L1219.0,134.1 L1222.0,130.7 L1225.0,127.4 L1228.1,124.2 L1231.3,121.0 L1234.6,117.9 L1237.9,114.9 L1241.3,112.0 L1244.8,109.2 L1248.4,106.5 L1252.1,104.0 L1255.9,101.6 L1259.8,99.3 L1263.7,97.2 L1267.8,95.2 L1271.8,93.5 L1276.0,91.9 L1280.3,90.7 L1284.6,89.7 L1289.0,89.0 L1293.5,88.5 L1298.0,88.2 L1302.4,87.9 L1306.9,87.9 L1311.4,87.9 L1315.9,88.1 L1320.3,88.5 L1324.7,89.2 L1329.1,90.2 L1333.3,91.5 L1337.5,93.0 L1341.7,94.7 L1345.8,96.4 L1350.0,98.2 L1354.0,100.1 L1358.0,102.1 L1361.9,104.3 L1365.7,106.6 L1369.4,109.2 L1373.0,111.9 L1376.4,114.7 L1379.8,117.7 L1383.0,120.8 L1386.1,124.1 L1389.1,127.4 L1392.0,130.8 L1394.9,134.3 L1397.8,137.7 L1400.6,141.3 L1403.3,144.8 L1406.1,148.4 L1408.8,152.0 L1411.5,155.6 L1414.1,159.3 L1416.6,163.0 L1419.2,166.7 L1421.7,170.4 L1424.1,174.2 L1426.5,178.0 L1428.9,181.8 L1431.3,185.7 L1433.6,189.5 L1435.8,193.4 L1438.0,197.4 L1440.0,201.3 L1441.9,205.4 L1443.7,209.5 L1445.5,213.7 L1447.1,217.8 L1448.7,222.1 L1450.3,226.3 L1451.8,230.5 L1453.2,234.8 L1454.6,239.1 L1456.0,243.4 L1457.3,247.6 L1458.7,251.9 L1460.1,256.2 L1461.4,260.5 L1462.8,264.8 L1464.2,269.1 L1465.6,273.4 L1466.9,277.7 L1468.3,281.9 L1469.7,286.2 L1471.0,290.5 L1472.4,294.8 L1473.8,299.1 L1475.2,303.4 L1476.5,307.7 L1477.9,312.0 L1479.2,316.3 L1480.5,320.6 L1481.8,324.9 L1483.1,329.2 L1484.3,333.5 L1485.5,337.9 L1486.7,342.2 L1488.0,346.5 L1489.2,350.9 L1490.4,355.2 L1491.5,359.6 L1492.7,363.9 L1493.8,368.3 L1494.8,372.7 L1495.8,377.0 L1496.7,381.4 L1497.7,385.8 L1498.7,390.2 L1499.5,394.6 L1500.3,399.0 L1500.9,403.5 L1501.3,407.9 L1501.6,412.4 L1501.9,416.9 L1502.1,421.4 L1502.4,425.9 L1502.6,430.4 L1502.9,434.9 L1503.3,439.4 L1503.7,443.9 L1504.1,448.3 L1504.6,452.8 L1505.0,457.3 L1505.5,461.8 L1505.9,466.3 L1506.4,470.7 L1506.8,475.2 L1507.3,479.7 L1507.7,484.2 L1508.2,488.7 L1508.6,493.1 L1509.0,497.6 L1509.5,502.1 L1509.9,506.6 L1510.4,511.0 L1510.8,515.5 L1511.3,520.0 L1511.7,524.5 L1512.2,529.0 L1512.7,533.4 L1513.1,537.9 L1513.6,542.4 L1514.2,546.9 L1514.7,551.3 L1515.2,555.8 L1515.8,560.3 L1516.4,564.7 L1516.9,569.2 L1517.5,573.7 L1518.0,578.1 L1518.6,582.6 L1519.1,587.1 L1519.6,591.5 L1520.2,596.0 L1520.7,600.5 L1521.2,605.0 L1521.8,609.4 L1522.3,613.9 L1522.9,618.3 L1525.2,619.6 L1526.5,623.1 L1527.4,627.4 L1528.3,631.9 L1529.1,636.3 L1530.0,640.7 L1530.8,645.1 L1531.5,649.6 L1532.1,654.0 L1532.6,658.5 L1532.9,662.9 L1533.2,667.4 L1533.5,671.9 L1533.7,676.4 L1533.9,680.9 L1534.1,685.4 L1534.3,689.9 L1534.5,693.8 L1534.8,689.9 L1535.1,685.5 L1535.5,681.0 L1535.8,676.5 L1536.1,672.0 L1536.4,667.5 L1536.8,663.0 L1537.2,658.5 L1537.7,654.1 L1538.2,649.6 L1538.8,645.1 L1539.4,640.7 L1540.1,636.2 L1540.7,631.8 L1541.4,627.3 L1542.0,622.9 L1542.7,618.4 L1543.3,614.0 L1544.0,609.5 L1544.6,605.1 L1545.3,600.6 L1546.0,596.1 L1546.6,591.7 L1547.3,587.2 L1547.9,582.8 L1548.6,578.3 L1549.2,573.9 L1549.8,569.4 L1550.4,564.9 L1551.0,560.5 L1551.6,556.0 L1552.2,551.6 L1552.8,547.1 L1553.4,542.6 L1554.0,538.2 L1554.6,533.7 L1555.2,529.2 L1555.8,524.8 L1556.4,520.3 L1557.1,515.9 L1557.8,511.4 L1558.6,507.0 L1559.6,502.6 L1560.6,498.3 L1561.8,493.9 L1562.9,489.6 L1564.1,485.2 L1565.3,480.9 L1566.5,476.5 L1567.7,472.2 L1568.9,467.9 L1570.3,463.6 L1571.7,459.3 L1573.3,455.1 L1575.0,451.0 L1576.8,446.9 L1578.7,442.8 L1580.6,438.7 L1582.6,434.7 L1584.7,430.8 L1587.1,427.1 L1589.8,423.6 L1592.7,420.4 L1595.9,417.4 L1599.4,414.7 L1603.0,412.6 L1606.9,411.0 L1610.9,410.1 L1615.1,409.9 L1619.2,410.5 L1623.1,411.8 L1626.8,413.8 L1630.3,416.2 L1633.6,419.1 L1636.7,422.3 L1639.4,425.7 L1641.9,429.4 L1644.2,433.2 L1646.3,437.1 L1648.3,441.2 L1650.1,445.3 L1651.9,449.4 L1653.6,453.5 L1655.3,457.7 L1657.0,461.9 L1658.6,466.1 L1660.1,470.3 L1661.6,474.6 L1663.1,478.8 L1664.5,483.1 L1665.8,487.4 L1667.0,491.7 L1668.0,496.0 L1668.8,500.4 L1669.4,504.8 L1670.0,509.3 L1670.6,513.7 L1671.3,518.1 L1672.2,522.5 L1673.1,526.9 L1674.1,531.3 L1675.1,535.7 L1676.1,540.1 L1677.1,544.5 L1678.0,548.9 L1678.9,553.3 L1679.8,557.7 L1680.7,562.1 L1681.6,566.5 L1682.5,570.9 L1683.4,575.4 L1684.2,579.8 L1685.1,584.2 L1686.0,588.6 L1686.9,593.0 L1687.8,597.4 L1688.6,601.9 L1689.5,606.3 L1690.3,610.7 L1691.1,615.1 L1691.8,619.6 L1692.6,624.0 L1693.3,628.5 L1694.0,632.9 L1694.7,637.3 L1695.3,641.8 L1695.8,646.3 L1696.3,650.7 L1696.8,655.2 L1697.2,659.7 L1697.7,664.2 L1698.0,668.7 L1698.4,673.2 L1698.6,677.6 L1698.8,682.1 L1699.0,686.6 L1699.2,691.1 L1699.3,695.6 L1699.5,700.1 L1699.7,704.6 L1699.9,709.1 L1700.2,713.6 L1700.5,718.1 L1701.1,722.5 L1701.7,727.0 L1702.5,731.4 L1703.3,735.8 L1704.0,740.3 L1704.7,744.7 L1705.4,749.2 L1705.9,753.6 L1706.4,758.1 L1706.9,762.6 L1707.4,767.0 L1707.8,771.5 L1708.3,776.0 L1708.7,780.5 L1709.2,785.0 L1709.6,789.4 L1710.0,793.9 L1710.5,798.4 L1710.9,802.9 L1711.4,807.4 L1711.9,811.8 L1712.4,816.3 L1712.9,820.8 L1713.5,825.2 L1714.1,829.7 L1714.7,834.2 L1715.3,838.6 L1715.9,843.1 L1716.5,847.6 L1717.1,852.0 L1717.7,856.3 L1718.3,854.8 L1718.9,850.3 L1719.5,845.9 L1720.1,841.4 L1720.7,837.0 L1721.4,832.5 L1721.9,828.0 L1722.5,823.6 L1723.1,819.1 L1723.6,814.6 L1724.1,810.2 L1724.6,805.7 L1725.0,801.2 L1725.5,796.7 L1725.9,792.2 L1726.4,787.8 L1726.8,783.3 L1727.3,778.8 L1727.7,774.3 L1728.1,769.8 L1728.6,765.4 L1729.0,760.9 L1729.5,756.4 L1729.9,751.9 L1730.4,747.5 L1730.8,743.0 L1731.3,738.5 L1731.7,734.0 L1732.2,729.5 L1732.6,725.1 L1733.1,720.6 L1733.5,716.1 L1734.0,711.6 L1734.4,707.1 L1734.9,702.7 L1735.3,698.2 L1735.8,693.7 L1736.2,689.2 L1736.7,684.7 L1737.1,680.3 L1737.6,675.8 L1738.2,671.3 L1738.7,666.9 L1739.3,662.4 L1739.9,657.9 L1740.5,653.5 L1741.2,649.0 L1741.8,644.6 L1742.6,640.1 L1743.3,635.7 L1744.2,631.3 L1745.1,626.9 L1746.0,622.5 L1747.0,618.1 L1748.0,613.7 L1749.1,609.3 L1750.3,605.0 L1751.5,600.6 L1752.7,596.3 L1754.1,592.0 L1755.5,587.8 L1757.0,583.5 L1758.6,579.3 L1760.3,575.2 L1762.2,571.1 L1764.3,567.2 L1766.5,563.3 L1768.9,559.5 L1771.5,556.0 L1774.4,552.8 L1777.6,550.0 L1781.2,547.9 L1785.0,546.6 L1788.9,546.0 L1792.8,546.2 L1796.5,547.0 L1799.9,548.6 L1802.9,550.9 L1805.7,553.8 L1808.2,557.3 L1810.5,561.0 L1812.8,564.8 L1814.9,568.8 L1817.0,572.8 L1819.0,576.8 L1821.0,580.8 L1822.8,584.9 L1824.6,589.0 L1826.4,593.2 L1828.1,597.3 L1829.8,601.5 L1831.6,605.6 L1833.5,609.7 L1835.5,613.7 L1837.7,617.6 L1840.1,621.3 L1842.7,624.7 L1845.5,627.6 L1848.6,629.6 L1851.8,630.5 L1855.0,630.0 L1858.1,628.3 L1860.7,625.6 L1863.1,622.2 L1865.1,618.3 L1866.9,614.3 L1868.6,610.1 L1870.1,605.9 L1871.6,601.7 L1873.0,597.4 L1874.4,593.1 L1875.8,588.8 L1877.1,584.5 L1878.4,580.2 L1879.7,575.9 L1881.0,571.6 L1882.2,567.3 L1883.5,563.0 L1884.9,558.7 L1886.5,554.5 L1888.3,550.5 L1890.4,546.6 L1892.8,542.9 L1895.3,539.2 L1898.0,535.5 L1900.6,531.9 L1903.1,528.2 L1905.6,524.4 L1907.9,520.6 L1910.3,516.8 L1912.6,513.0 L1915.1,509.3 L1917.8,505.7 L1920.7,502.4 L1923.9,499.4 L1927.3,496.7 L1930.9,494.5 L1934.7,492.9 L1938.6,492.1 L1942.7,492.0 L1946.8,492.7 L1950.8,494.1 L1954.7,495.9 L1958.4,498.2 L1962.0,500.9 L1965.3,503.8 L1968.5,506.9 L1971.5,510.2 L1974.4,513.6 L1977.1,517.2 L1979.7,520.8 L1982.2,524.6 L1984.5,528.4 L1986.7,532.3 L1988.8,536.3 L1990.8,540.3 L1992.8,544.4 L1994.6,548.5 L1996.4,552.6 L1998.0,556.8 L1999.6,561.0 L2001.1,565.3 L2002.5,569.5 L2003.9,573.8 L2005.3,578.1 L2006.7,582.4 L2008.0,586.7 L2009.2,591.0 L2010.4,595.3 L2011.6,599.7 L2012.7,604.0 L2013.8,608.4 L2014.8,612.8 L2015.6,617.2 L2016.2,621.6 L2016.7,626.0 L2017.0,630.5 L2017.4,635.0 L2018.0,639.4 L2018.7,643.8 L2019.6,648.2 L2020.6,652.6 L2021.7,656.9 L2022.9,661.3 L2024.0,665.6 L2025.2,670.0 L2026.4,674.3 L2027.5,678.7 L2028.7,683.0 L2029.8,687.4 L2031.0,691.7 L2032.2,696.1 L2033.3,700.4 L2034.5,704.8 L2035.6,709.1 L2036.7,713.5 L2037.8,717.9 L2038.8,722.2 L2039.8,726.6 L2040.7,731.0 L2041.6,735.5 L2042.5,739.9 L2043.4,744.3 L2044.3,748.7 L2045.2,753.1 L2046.0,757.5 L2046.9,761.9 L2047.8,766.4 L2048.7,770.8 L2049.6,775.2 L2050.4,779.6 L2051.3,784.0 L2052.2,788.4 L2053.1,792.8 L2054.0,797.3 L2054.9,801.7 L2055.8,806.1 L2056.8,810.5 L2057.7,814.8 L2058.8,817.1 L2060.3,813.3 L2061.8,809.1 L2063.3,804.8 L2064.6,800.5 L2065.7,796.2 L2066.6,791.8 L2067.6,787.4 L2068.5,783.0 L2069.4,778.6 L2070.3,774.2 L2071.1,769.7 L2072.0,765.3 L2072.9,760.9 L2073.8,756.5 L2074.7,752.1 L2075.6,747.7 L2076.4,743.3 L2077.3,738.8 L2078.2,734.4 L2079.1,730.0 L2080.0,725.6 L2080.9,721.2 L2081.8,716.8 L2082.7,712.4 L2083.7,708.0 L2084.7,703.6 L2085.8,699.2 L2086.9,694.9 L2088.1,690.5 L2089.2,686.2 L2090.4,681.8 L2091.6,677.5 L2092.8,673.1 L2094.0,668.8 L2095.3,664.5 L2096.6,660.2 L2098.0,655.9 L2099.4,651.6 L2100.8,647.4 L2102.2,643.1 L2103.6,638.8 L2104.9,634.5 L2106.2,630.2 L2107.2,625.8 L2108.1,621.5 L2108.9,617.0 L2109.5,612.6 L2110.1,608.1 L2110.7,603.7 L2111.3,599.2 L2111.8,594.7 L2112.4,590.3 L2113.0,585.8 L2113.6,581.3 L2114.2,576.9 L2114.8,572.4 L2115.6,568.0 L2116.6,563.7 L2117.8,559.4 L2119.2,555.1 L2120.8,550.9 L2122.4,546.7 L2124.1,542.5 L2125.8,538.4 L2127.5,534.2 L2129.2,530.1 L2131.0,526.0 L2132.9,521.8 L2134.8,517.8 L2136.7,513.7 L2138.6,509.6 L2140.5,505.5 L2142.5,501.5 L2144.6,497.5 L2146.7,493.6 L2148.9,489.7 L2151.2,485.8 L2153.6,481.9 L2156.0,478.1 L2158.4,474.4 L2160.9,470.6 L2163.5,467.0 L2166.3,463.5 L2169.2,460.0 L2172.1,456.6 L2175.2,453.3 L2178.2,450.0 L2181.4,446.9 L2184.7,443.8 L2188.0,440.8 L2191.4,437.9 L2194.9,435.1 L2198.5,432.3 L2202.1,429.7 L2205.9,427.2 L2209.7,424.9 L2213.6,422.8 L2217.6,420.7 L2221.7,418.8 L2225.8,417.1 L2230.0,415.5 L2234.2,414.0 L2238.5,412.8 L2242.9,411.7 L2247.2,410.8 L2251.6,410.3 L2256.0,410.0 L2260.5,410.1 L2264.9,410.5 L2269.3,411.1 L2273.7,412.0 L2278.0,413.2 L2282.2,414.6 L2286.4,416.1 L2290.6,417.9 L2294.6,419.7 L2298.7,421.7 L2302.6,423.8 L2306.5,426.1 L2310.4,428.3 L2314.1,430.5 L2317.5,432.5 L2320.5,434.2 L2323.0,435.6 L2324.9,436.7 L2331.3,440.2" stroke="#ff0000" stroke-width="12.5"/>
<path d="M286.7,426.8 L295.2,428.7 L297.7,429.3 L300.9,430.2 L304.5,431.2 L308.5,432.5 L312.7,433.9 L316.9,435.4 L321.1,437.0 L325.3,438.7 L329.4,440.5 L333.4,442.5 L337.4,444.5 L341.4,446.6 L345.2,448.9 L349.0,451.3 L352.6,453.9 L356.2,456.6 L359.8,459.4 L363.3,462.2 L366.7,465.1 L370.2,468.0 L373.6,470.9 L377.0,473.9 L380.3,476.9 L383.7,479.9 L387.0,482.9 L390.4,485.9 L393.7,488.9 L397.1,492.0 L400.4,495.0 L403.8,497.9 L407.2,500.9 L410.6,503.7 L414.2,506.5 L417.8,509.1 L421.6,511.5 L425.4,513.8 L429.3,516.0 L433.3,518.0 L437.4,519.7 L441.6,521.1 L445.9,522.2 L450.3,523.0 L454.7,523.6 L459.1,524.0 L463.6,524.0 L468.0,523.9 L472.5,523.5 L477.0,523.1 L481.5,522.7 L486.0,522.3 L490.4,521.9 L494.9,521.6 L499.4,521.5 L503.8,521.6 L508.2,522.0 L512.7,522.6 L517.1,523.4 L521.5,524.4 L525.8,525.4 L530.2,526.5 L534.5,527.7 L538.9,528.7 L543.2,529.6 L547.5,530.1 L551.8,530.1 L556.0,529.5 L560.0,528.3 L563.8,526.4 L567.2,523.9 L570.5,521.0 L573.6,517.9 L576.6,514.6 L579.5,511.2 L582.4,507.8 L585.3,504.3 L588.0,500.7 L590.5,497.0 L593.0,493.3 L595.4,489.5 L597.7,485.6 L600.0,481.7 L602.3,477.9 L604.6,474.1 L607.1,470.3 L609.5,466.5 L612.0,462.7 L614.5,459.0 L617.0,455.3 L619.7,451.7 L622.4,448.1 L625.3,444.7 L628.3,441.4 L631.5,438.2 L634.8,435.2 L638.2,432.4 L641.8,429.8 L645.6,427.5 L649.6,425.6 L653.6,424.1 L657.9,423.1 L662.1,422.7 L666.4,422.8 L670.7,423.5 L674.8,424.8 L678.8,426.5 L682.4,428.8 L685.9,431.5 L689.0,434.5 L692.0,437.8 L694.8,441.2 L697.4,444.9 L699.9,448.6 L702.1,452.5 L704.2,456.5 L706.2,460.5 L708.1,464.5 L709.9,468.6 L711.5,472.8 L712.9,477.1 L714.1,481.4 L715.3,485.7 L716.4,490.1 L717.5,494.4 L718.6,498.8 L719.6,503.2 L720.6,507.6 L721.6,512.0 L722.5,516.4 L723.4,520.8 L724.3,525.2 L725.2,529.6 L726.1,534.0 L727.0,538.4 L727.8,542.9 L728.7,547.3 L729.5,551.7 L730.2,556.1 L730.9,560.6 L731.6,565.0 L732.3,569.5 L733.0,573.9 L733.6,578.4 L734.3,582.8 L734.9,587.3 L735.5,591.7 L735.9,596.2 L736.3,600.7 L736.6,605.2 L736.9,609.7 L737.1,614.2 L737.3,618.7 L737.5,623.2 L737.7,627.7 L737.9,632.2 L738.1,636.6 L738.3,641.1 L738.5,645.6 L738.7,650.1 L738.9,654.6 L739.1,659.1 L739.3,663.6 L739.5,668.1 L739.7,672.6 L739.9,677.1 L740.1,681.6 L740.3,686.1 L740.5,690.6 L740.7,695.1 L740.9,699.6 L741.1,704.1 L741.3,708.6 L741.6,713.1 L741.9,717.6 L742.1,722.1 L742.4,726.6 L742.7,731.0 L743.0,735.5 L743.3,740.0 L743.6,744.5 L743.9,749.0 L744.2,753.5 L744.5,758.0 L744.8,762.5 L745.1,767.0 L745.4,771.5 L745.7,776.0 L746.0,780.4 L746.3,784.9 L746.6,789.4 L746.9,793.9 L747.2,798.4 L747.5,802.9 L747.8,807.4 L748.1,811.9 L748.3,816.4 L748.5,820.9 L748.7,825.4 L748.9,829.9 L749.1,834.4 L749.2,838.9 L749.4,843.4 L749.5,847.9 L749.7,852.4 L749.8,856.9 L750.0,861.4 L750.1,865.9 L750.3,870.4 L750.4,874.9 L750.6,879.4 L750.7,883.8 L750.9,888.3 L751.0,892.8 L751.2,897.3 L751.3,901.8 L751.5,906.3 L751.6,910.8 L751.8,915.3 L751.9,919.8 L752.1,924.3 L752.2,928.8 L752.3,933.3 L752.5,937.8 L752.6,942.3 L752.8,946.8 L752.9,951.3 L753.0,955.8 L753.2,960.3 L753.3,964.8 L753.4,969.3 L753.6,973.8 L753.7,978.3 L753.9,982.8 L754.0,987.3 L754.1,991.8 L754.3,996.3 L754.4,1000.8 L754.5,1005.3 L754.7,1009.8 L754.8,1014.3 L754.9,1018.8 L755.1,1023.3 L755.2,1027.8 L755.3,1032.3 L755.5,1036.8 L755.6,1041.3 L755.7,1045.8 L755.8,1050.3 L755.8,1054.8 L755.9,1059.3 L755.9,1063.8 L756.0,1068.3 L756.0,1072.8 L756.0,1077.3 L756.1,1081.8 L756.1,1086.3 L756.1,1090.8 L756.2,1095.3 L756.2,1099.8 L756.3,1104.3 L756.3,1108.8 L756.3,1113.3 L756.4,1117.8 L756.4,1122.3 L756.4,1126.8 L756.5,1131.3 L756.5,1135.8 L756.5,1140.3 L756.6,1144.8 L756.6,1149.3 L756.7,1153.8 L756.7,1158.3 L756.7,1162.8 L756.8,1167.3 L756.8,1171.8 L756.8,1176.3 L757.1,1180.6 L760.8,1180.8 L761.3,1176.7 L761.5,1172.3 L761.6,1167.8 L761.7,1163.3 L761.8,1158.8 L762.0,1154.3 L762.1,1149.8 L762.2,1145.3 L762.3,1140.8 L762.4,1136.3 L762.6,1131.8 L762.7,1127.3 L762.8,1122.8 L762.9,1118.3 L763.1,1113.8 L763.2,1109.3 L763.3,1104.8 L763.4,1100.3 L763.5,1095.8 L763.7,1091.3 L763.8,1086.8 L763.9,1082.3 L764.0,1077.8 L764.1,1073.3 L764.3,1068.8 L764.4,1064.3 L764.5,1059.8 L764.6,1055.3 L764.7,1050.8 L764.8,1046.3 L764.9,1041.8 L765.0,1037.3 L765.1,1032.8 L765.1,1028.3 L765.2,1023.8 L765.3,1019.3 L765.4,1014.8 L765.4,1010.3 L765.5,1005.8 L765.6,1001.3 L765.6,996.8 L765.7,992.3 L765.8,987.8 L765.8,983.3 L765.9,978.8 L766.0,974.3 L766.0,969.8 L766.1,965.3 L766.2,960.8 L766.2,956.3 L766.3,951.8 L766.4,947.3 L766.4,942.8 L766.5,938.3 L766.6,933.8 L766.7,929.3 L766.7,924.8 L766.8,920.3 L766.9,915.8 L766.9,911.3 L767.0,906.8 L767.1,902.3 L767.2,897.8 L767.2,893.3 L767.3,888.8 L767.4,884.3 L767.5,879.8 L767.5,875.3 L767.6,870.8 L767.7,866.3 L767.8,861.8 L767.8,857.3 L767.9,852.8 L768.0,848.3 L768.1,843.8 L768.1,839.3 L768.2,834.8 L768.3,830.3 L768.4,825.8 L768.5,821.3 L768.6,816.8 L768.7,812.3 L768.8,807.8 L769.0,803.3 L769.1,798.8 L769.3,794.3 L769.4,789.8 L769.6,785.3 L769.7,780.8 L769.9,776.3 L770.0,771.8 L770.2,767.3 L770.3,762.8 L770.5,758.3 L770.6,753.8 L770.8,749.3 L770.9,744.8 L771.1,740.3 L771.2,735.8 L771.4,731.3 L771.5,726.8 L771.7,722.3 L771.9,717.8 L772.1,713.3 L772.3,708.8 L772.6,704.3 L772.8,699.8 L773.2,695.3 L773.5,690.9 L773.8,686.4 L774.2,681.9 L774.5,677.4 L774.8,672.9 L775.2,668.4 L775.5,663.9 L775.8,659.4 L776.2,654.9 L776.5,650.5 L776.8,646.0 L777.2,641.5 L777.5,637.0 L777.8,632.5 L778.1,628.0 L778.4,623.5 L778.7,619.0 L779.0,614.5 L779.3,610.0 L779.6,605.6 L779.9,601.1 L780.2,596.6 L780.5,592.1 L780.8,587.6 L781.1,583.1 L781.4,578.6 L781.7,574.1 L782.0,569.6 L782.4,565.1 L782.7,560.7 L783.2,556.2 L783.7,551.7 L784.3,547.3 L785.1,542.9 L785.9,538.4 L786.8,534.0 L787.7,529.6 L788.5,525.2 L789.4,520.8 L790.4,516.4 L791.3,512.0 L792.4,507.6 L793.5,503.3 L794.7,498.9 L795.9,494.6 L797.2,490.3 L798.5,486.0 L799.8,481.7 L801.1,477.4 L802.5,473.1 L803.9,468.8 L805.5,464.7 L807.3,460.6 L809.3,456.6 L811.4,452.6 L813.7,448.7 L816.0,444.9 L818.5,441.3 L821.3,437.8 L824.2,434.6 L827.5,431.7 L830.9,429.2 L834.5,427.3 L838.3,426.2 L842.1,426.0 L845.9,426.9 L849.6,428.5 L853.1,430.8 L856.4,433.6 L859.5,436.8 L862.4,440.2 L865.0,443.7 L867.4,447.5 L869.6,451.4 L871.6,455.4 L873.5,459.4 L875.4,463.5 L877.2,467.6 L878.8,471.8 L880.3,476.0 L881.6,480.3 L882.8,484.7 L884.0,489.0 L885.1,493.4 L886.2,497.7 L887.3,502.1 L888.4,506.5 L889.4,510.8 L890.5,515.2 L891.5,519.6 L892.4,524.0 L893.3,528.4 L894.2,532.8 L895.1,537.2 L896.0,541.6 L896.9,546.1 L897.8,550.5 L898.7,554.9 L899.5,559.3 L900.4,563.7 L901.3,568.1 L902.2,572.5 L903.1,576.9 L904.0,581.4 L904.8,585.8 L905.7,590.2 L906.6,594.6 L907.4,599.0 L908.1,603.5 L908.8,607.9 L909.3,612.4 L909.8,616.8 L910.2,621.3 L910.5,625.8 L910.9,630.3 L911.2,634.8 L911.5,639.3 L911.9,643.8 L912.2,648.2 L912.6,652.7 L913.0,657.2 L913.4,661.7 L913.8,666.2 L914.3,670.7 L914.7,675.1 L915.2,679.6 L915.6,684.1 L916.0,688.6 L916.5,693.0 L916.9,697.5 L917.4,702.0 L917.8,706.5 L918.3,711.0 L918.7,715.4 L919.2,719.9 L919.6,724.4 L920.1,728.9 L920.5,733.4 L921.0,737.8 L921.4,742.3 L921.9,746.8 L922.3,751.3 L922.7,755.7 L923.1,760.2 L923.5,764.7 L923.8,769.2 L924.0,773.7 L924.3,778.2 L924.5,782.7 L924.8,787.2 L925.0,791.7 L925.2,796.2 L925.4,800.7 L925.7,805.2 L925.9,809.7 L926.2,814.1 L926.4,818.6 L926.7,823.1 L927.0,827.6 L927.5,832.1 L928.1,836.4 L928.8,836.5 L929.5,832.1 L930.1,827.7 L930.7,823.2 L931.3,818.8 L931.9,814.3 L932.5,809.9 L933.1,805.4 L933.7,800.9 L934.3,796.5 L934.8,792.0 L935.4,787.5 L935.9,783.1 L936.3,778.6 L936.8,774.1 L937.1,769.6 L937.5,765.1 L937.8,760.7 L938.2,756.2 L938.5,751.7 L938.8,747.2 L939.2,742.7 L939.5,738.2 L939.8,733.7 L940.2,729.2 L940.5,724.7 L940.9,720.3 L941.2,715.8 L941.6,711.3 L942.0,706.8 L942.4,702.3 L942.8,697.8 L943.3,693.4 L943.7,688.9 L944.2,684.4 L944.6,679.9 L945.0,675.4 L945.5,671.0 L945.9,666.5 L946.4,662.0 L946.8,657.5 L947.2,653.0 L947.6,648.6 L947.9,644.1 L948.3,639.6 L948.6,635.1 L949.0,630.6 L949.3,626.1 L949.7,621.6 L950.0,617.2 L950.4,612.7 L950.7,608.2 L951.1,603.7 L951.6,599.2 L952.1,594.8 L952.7,590.3 L953.3,585.8 L954.0,581.4 L954.7,577.0 L955.4,572.5 L956.1,568.1 L956.9,563.6 L957.6,559.2 L958.3,554.7 L959.0,550.3 L959.8,545.9 L960.7,541.5 L961.6,537.1 L962.6,532.7 L963.6,528.3 L964.7,523.9 L965.8,519.6 L966.9,515.2 L968.0,510.8 L969.1,506.5 L970.3,502.1 L971.5,497.8 L972.8,493.5 L974.2,489.2 L975.6,484.9 L977.1,480.7 L978.6,476.5 L980.1,472.2 L981.7,468.0 L983.4,463.9 L985.2,459.8 L987.2,455.8 L989.3,451.8 L991.6,448.0 L994.1,444.3 L996.7,440.7 L999.5,437.4 L1002.6,434.5 L1006.1,432.2 L1009.8,430.7 L1013.7,429.9 L1017.6,430.1 L1021.5,431.2 L1025.1,433.0 L1028.4,435.5 L1031.4,438.6 L1033.9,442.1 L1036.2,445.8 L1038.4,449.7 L1040.3,453.8 L1042.1,457.9 L1043.6,462.0 L1045.0,466.3 L1046.1,470.6 L1047.2,475.0 L1048.3,479.4 L1049.2,483.8 L1050.2,488.2 L1051.1,492.6 L1052.0,497.0 L1052.9,501.4 L1053.7,505.8 L1054.6,510.2 L1055.5,514.6 L1056.4,519.1 L1057.2,523.5 L1058.1,527.9 L1058.9,532.3 L1059.7,536.7 L1060.5,541.2 L1061.3,545.6 L1062.1,550.0 L1062.9,554.5 L1063.7,558.9 L1064.4,563.3 L1065.2,567.8 L1066.0,572.2 L1066.7,576.6 L1067.4,581.1 L1068.1,585.5 L1068.7,590.0 L1069.4,594.5 L1070.0,598.9 L1070.6,603.4 L1071.2,607.8 L1071.8,612.3 L1072.4,616.7 L1072.9,621.2 L1073.5,625.7 L1074.0,630.2 L1074.5,634.6 L1075.0,639.1 L1075.5,643.6 L1076.1,648.0 L1076.6,652.5 L1077.1,657.0 L1077.6,661.5 L1078.2,665.9 L1078.7,670.4 L1079.3,674.8 L1080.0,679.3 L1080.8,683.7 L1081.8,688.1 L1082.8,692.3 L1086.5,693.0 L1088.4,689.4 L1089.8,685.1 L1090.7,680.8 L1091.3,676.3 L1091.9,671.8 L1092.5,667.4 L1093.1,662.9 L1093.7,658.5 L1094.3,654.0 L1094.8,649.5 L1095.4,645.1 L1095.9,640.6 L1096.4,636.1 L1097.0,631.6 L1097.5,627.2 L1098.0,622.7 L1098.5,618.2 L1099.0,613.8 L1099.6,609.3 L1100.1,604.8 L1100.6,600.4 L1101.1,595.9 L1101.6,591.4 L1102.1,586.9 L1102.6,582.5 L1103.0,578.0 L1103.5,573.5 L1104.0,569.0 L1104.4,564.5 L1104.9,560.1 L1105.3,555.6 L1105.7,551.1 L1106.2,546.6 L1106.6,542.2 L1107.1,537.7 L1107.5,533.2 L1108.0,528.7 L1108.4,524.2 L1108.9,519.8 L1109.3,515.3 L1109.8,510.8 L1110.2,506.3 L1110.7,501.8 L1111.1,497.4 L1111.6,492.9 L1112.0,488.4 L1112.5,483.9 L1112.9,479.5 L1113.3,475.0 L1113.8,470.5 L1114.2,466.0 L1114.7,461.5 L1115.1,457.1 L1115.5,452.6 L1116.0,448.1 L1116.4,443.6 L1116.9,439.1 L1117.3,434.7 L1117.7,430.2 L1118.2,425.7 L1118.6,421.2 L1119.0,416.7 L1119.5,412.3 L1120.0,407.8 L1120.5,403.3 L1121.0,398.9 L1121.7,394.4 L1122.3,389.9 L1123.0,385.5 L1123.7,381.1 L1124.4,376.6 L1125.2,372.2 L1126.0,367.7 L1126.8,363.3 L1127.7,358.9 L1128.6,354.5 L1129.5,350.1 L1130.4,345.7 L1131.4,341.3 L1132.4,336.9 L1133.4,332.5 L1134.5,328.2 L1135.6,323.8 L1136.7,319.4 L1137.9,315.1 L1139.1,310.8 L1140.3,306.4 L1141.6,302.1 L1142.9,297.8 L1144.2,293.5 L1145.6,289.2 L1147.0,284.9 L1148.5,280.7 L1149.9,276.4 L1151.3,272.2 L1152.8,267.9 L1154.2,263.6 L1155.7,259.4 L1157.2,255.1 L1158.6,250.9 L1160.1,246.6 L1161.6,242.4 L1163.2,238.1 L1164.7,233.9 L1166.3,229.7 L1168.0,225.6 L1169.9,221.5 L1171.8,217.4 L1173.7,213.4 L1175.8,209.3 L1177.8,205.3 L1179.9,201.3 L1182.0,197.4 L1184.1,193.4 L1186.3,189.4 L1188.4,185.5 L1190.6,181.6 L1192.8,177.6 L1195.0,173.7 L1197.2,169.8 L1199.5,165.9 L1201.8,162.0 L1204.1,158.2 L1206.6,154.4 L1209.1,150.7 L1211.7,147.0 L1214.3,143.4 L1217.0,139.8 L1219.8,136.3 L1222.7,132.8 L1225.7,129.4 L1228.7,126.1 L1231.8,122.8 L1234.9,119.7 L1238.2,116.5 L1241.5,113.5 L1244.9,110.6 L1248.4,107.8 L1252.0,105.2 L1255.7,102.7 L1259.6,100.3 L1263.5,98.1 L1267.4,96.0 L1271.4,94.1 L1275.6,92.5 L1279.8,91.1 L1284.1,90.0 L1288.5,89.2 L1292.9,88.6 L1297.4,88.2 L1301.9,88.0 L1306.4,87.9 L1310.8,87.9 L1315.3,88.1 L1319.7,88.5 L1324.1,89.2 L1328.5,90.2 L1332.7,91.5 L1336.9,93.0 L1341.1,94.7 L1345.2,96.5 L1349.3,98.4 L1353.3,100.3 L1357.3,102.4 L1361.2,104.6 L1364.9,107.0 L1368.6,109.6 L1372.1,112.4 L1375.5,115.3 L1378.8,118.3 L1381.9,121.5 L1385.0,124.8 L1387.9,128.2 L1390.8,131.6 L1393.6,135.1 L1396.4,138.6 L1399.2,142.2 L1401.9,145.8 L1404.6,149.4 L1407.2,153.0 L1409.8,156.7 L1412.4,160.4 L1414.9,164.1 L1417.4,167.9 L1419.8,171.7 L1422.2,175.5 L1424.6,179.3 L1426.9,183.2 L1429.2,187.0 L1431.5,190.9 L1433.6,194.8 L1435.7,198.8 L1437.7,202.8 L1439.6,206.9 L1441.4,211.1 L1443.1,215.2 L1444.7,219.4 L1446.3,223.6 L1447.8,227.8 L1449.3,232.1 L1450.7,236.4 L1452.1,240.7 L1453.5,244.9 L1454.8,249.2 L1456.2,253.5 L1457.6,257.8 L1458.9,262.1 L1460.3,266.4 L1461.7,270.7 L1463.1,274.9 L1464.4,279.2 L1465.8,283.5 L1467.2,287.8 L1468.5,292.1 L1469.9,296.4 L1471.3,300.7 L1472.7,305.0 L1474.0,309.2 L1475.4,313.5 L1476.7,317.8 L1478.0,322.1 L1479.3,326.5 L1480.5,330.8 L1481.7,335.1 L1483.0,339.4 L1484.2,343.8 L1485.4,348.1 L1486.6,352.5 L1487.8,356.8 L1489.0,361.1 L1490.1,365.5 L1491.1,369.9 L1492.1,374.2 L1493.1,378.6 L1494.1,383.0 L1495.1,387.4 L1496.0,391.8 L1496.8,396.2 L1497.5,400.6 L1498.1,405.1 L1498.5,409.6 L1498.7,414.0 L1499.0,418.5 L1499.2,423.0 L1499.4,427.5 L1499.7,432.0 L1500.1,436.5 L1500.4,441.0 L1500.9,445.5 L1501.3,449.9 L1501.7,454.4 L1502.2,458.9 L1502.6,463.4 L1503.1,467.9 L1503.5,472.3 L1504.0,476.8 L1504.4,481.3 L1504.9,485.8 L1505.3,490.2 L1505.8,494.7 L1506.2,499.2 L1506.7,503.7 L1507.1,508.2 L1507.5,512.6 L1508.0,517.1 L1508.4,521.6 L1508.9,526.1 L1509.4,530.6 L1509.8,535.0 L1510.3,539.5 L1510.8,544.0 L1511.3,548.4 L1511.9,552.9 L1512.4,557.4 L1513.0,561.8 L1513.6,566.3 L1514.1,570.8 L1514.7,575.2 L1515.2,579.7 L1515.8,584.2 L1516.3,588.6 L1516.8,593.1 L1517.4,597.6 L1517.9,602.1 L1518.4,606.5 L1518.9,611.0 L1519.4,615.5 L1519.8,620.0 L1520.2,624.4 L1520.6,628.9 L1520.9,633.4 L1521.2,637.9 L1521.5,642.4 L1521.8,646.9 L1522.1,651.4 L1522.4,655.9 L1522.7,660.4 L1523.0,664.8 L1523.3,669.3 L1523.6,673.8 L1523.9,678.3 L1524.2,682.8 L1524.5,687.3 L1524.8,691.8 L1525.1,696.3 L1525.4,700.8 L1525.7,705.3 L1526.0,709.8 L1526.3,714.2 L1526.6,718.7 L1526.9,723.2 L1527.2,727.7 L1527.5,732.2 L1527.8,736.7 L1528.1,741.2 L1528.4,745.7 L1528.7,750.2 L1529.0,754.7 L1529.3,759.1 L1529.6,763.6 L1529.9,768.1 L1530.2,772.6 L1530.5,777.1 L1530.7,781.6 L1530.9,786.1 L1531.0,790.6 L1531.2,795.1 L1531.3,799.6 L1531.4,804.1 L1531.5,808.6 L1531.6,813.1 L1531.7,817.6 L1531.9,822.1 L1532.0,826.6 L1532.1,831.1 L1532.2,835.6 L1532.3,840.1 L1532.4,844.6 L1532.5,849.1 L1532.6,853.6 L1532.8,858.1 L1532.9,862.6 L1533.0,867.1 L1533.1,871.6 L1533.2,876.1 L1533.3,880.6 L1533.4,885.1 L1533.5,889.6 L1533.7,894.1 L1533.8,898.6 L1533.9,903.1 L1534.0,907.6 L1534.1,912.1 L1534.2,916.6 L1534.3,921.1 L1534.5,925.6 L1534.6,930.1 L1534.8,934.6 L1534.9,939.1 L1535.1,943.6 L1535.2,948.1 L1535.4,952.6 L1535.6,957.1 L1535.7,961.6 L1535.9,966.1 L1536.0,970.6 L1536.2,975.0 L1536.4,975.8 L1536.5,971.4 L1536.7,966.9 L1536.8,962.4 L1537.0,957.9 L1537.2,953.4 L1537.3,948.9 L1537.5,944.4 L1537.6,939.9 L1537.8,935.4 L1537.9,930.9 L1538.1,926.4 L1538.2,921.9 L1538.3,917.4 L1538.5,912.9 L1538.6,908.4 L1538.7,903.9 L1538.8,899.4 L1538.9,894.9 L1539.0,890.4 L1539.1,885.9 L1539.2,881.4 L1539.4,876.9 L1539.5,872.4 L1539.6,867.9 L1539.7,863.4 L1539.8,858.9 L1539.9,854.4 L1540.0,849.9 L1540.1,845.4 L1540.3,840.9 L1540.4,836.4 L1540.5,831.9 L1540.6,827.4 L1540.7,822.9 L1540.8,818.4 L1540.9,813.9 L1541.0,809.4 L1541.2,804.9 L1541.3,800.4 L1541.4,795.9 L1541.5,791.4 L1541.6,786.9 L1541.8,782.4 L1541.9,777.9 L1542.1,773.4 L1542.3,768.9 L1542.5,764.4 L1542.7,759.9 L1542.9,755.4 L1543.1,750.9 L1543.3,746.5 L1543.5,742.0 L1543.7,737.5 L1543.9,733.0 L1544.1,728.5 L1544.3,724.0 L1544.5,719.5 L1544.7,715.0 L1544.9,710.5 L1545.1,706.0 L1545.3,701.5 L1545.5,697.0 L1545.7,692.5 L1545.9,688.0 L1546.1,683.5 L1546.3,679.0 L1546.5,674.5 L1546.7,670.0 L1546.9,665.5 L1547.1,661.0 L1547.3,656.5 L1547.5,652.0 L1547.7,647.5 L1547.9,643.0 L1548.1,638.5 L1548.3,634.0 L1548.5,629.5 L1548.8,625.1 L1549.1,620.6 L1549.4,616.1 L1549.7,611.6 L1550.1,607.1 L1550.5,602.6 L1550.9,598.1 L1551.3,593.7 L1551.7,589.2 L1552.2,584.7 L1552.6,580.2 L1553.0,575.7 L1553.5,571.3 L1554.0,566.8 L1554.5,562.3 L1555.1,557.8 L1555.7,553.4 L1556.2,548.9 L1556.8,544.5 L1557.3,540.0 L1557.9,535.5 L1558.5,531.1 L1559.1,526.6 L1559.8,522.1 L1560.4,517.7 L1561.1,513.2 L1561.8,508.8 L1562.4,504.3 L1563.1,499.9 L1563.8,495.4 L1564.5,491.0 L1565.3,486.6 L1566.1,482.1 L1566.9,477.7 L1567.8,473.3 L1568.7,468.9 L1569.8,464.6 L1571.0,460.3 L1572.5,456.1 L1574.3,452.1 L1576.3,448.2 L1578.7,444.4 L1581.2,440.7 L1583.8,437.2 L1586.7,433.8 L1589.9,430.8 L1593.3,428.1 L1597.0,425.9 L1600.8,424.2 L1604.7,423.3 L1608.7,423.2 L1612.6,424.1 L1616.3,425.7 L1619.8,428.0 L1623.0,430.9 L1626.0,434.1 L1628.7,437.6 L1631.1,441.3 L1633.2,445.2 L1635.2,449.2 L1637.0,453.3 L1638.7,457.5 L1640.3,461.7 L1641.9,465.9 L1643.3,470.1 L1644.6,474.4 L1645.7,478.8 L1646.6,483.1 L1647.4,487.6 L1648.1,492.0 L1648.9,496.4 L1649.6,500.9 L1650.3,505.3 L1651.1,509.8 L1651.8,514.2 L1652.5,518.6 L1653.3,523.1 L1654.0,527.5 L1654.7,532.0 L1655.5,536.4 L1656.2,540.8 L1657.0,545.3 L1657.7,549.7 L1658.4,554.2 L1659.2,558.6 L1659.9,563.0 L1660.6,567.5 L1661.3,571.9 L1662.0,576.4 L1662.7,580.8 L1663.3,585.3 L1663.9,589.7 L1664.5,594.2 L1665.1,598.7 L1665.8,603.1 L1666.4,607.6 L1667.1,612.0 L1667.8,616.5 L1668.5,620.9 L1669.2,625.4 L1670.0,629.8 L1670.7,634.2 L1671.4,638.7 L1672.0,643.1 L1672.7,647.6 L1673.3,652.0 L1673.9,656.5 L1674.5,661.0 L1675.0,665.4 L1675.6,669.9 L1676.1,674.4 L1676.6,678.8 L1677.1,683.3 L1677.6,687.8 L1678.0,692.3 L1678.4,696.8 L1678.9,701.2 L1679.2,705.7 L1679.6,710.2 L1679.9,714.7 L1680.2,719.2 L1680.4,723.7 L1680.6,728.2 L1680.7,732.7 L1680.9,737.2 L1681.0,741.7 L1681.2,746.2 L1681.3,750.7 L1681.4,755.2 L1681.6,759.7 L1681.7,764.2 L1681.9,768.7 L1682.0,773.2 L1682.1,777.7 L1682.3,782.2 L1682.4,786.7 L1682.6,791.2 L1682.7,795.7 L1682.8,800.2 L1683.0,804.7 L1683.1,809.2 L1683.3,813.6 L1683.5,818.1 L1683.7,822.6 L1683.9,827.1 L1684.1,831.6 L1684.3,836.1 L1684.5,840.6 L1684.7,845.1 L1685.0,849.6 L1685.2,854.1 L1685.4,858.6 L1685.6,863.1 L1685.9,867.6 L1686.1,872.1 L1686.3,876.6 L1686.5,881.1 L1686.8,885.6 L1687.0,890.1 L1687.2,894.6 L1687.4,899.1 L1687.7,903.6 L1687.9,908.1 L1688.1,912.5 L1688.3,917.0 L1688.5,921.5 L1688.7,926.0 L1688.8,930.5 L1688.9,935.0 L1688.9,939.5 L1689.0,944.0 L1689.0,948.5 L1689.1,953.0 L1689.1,957.5 L1689.2,962.0 L1689.2,966.5 L1689.2,971.0 L1689.3,975.5 L1689.3,980.0 L1689.4,984.5 L1689.4,989.0 L1689.4,993.5 L1689.5,998.0 L1689.5,1002.5 L1689.6,1007.0 L1689.6,1011.5 L1689.6,1016.0 L1689.7,1020.5 L1689.7,1025.0 L1689.8,1029.6 L1689.8,1034.1 L1689.8,1038.6 L1689.9,1043.1 L1689.9,1047.6 L1690.0,1052.1 L1690.0,1056.6 L1690.0,1061.1 L1690.0,1065.6 L1690.1,1070.1 L1690.1,1074.6 L1690.1,1079.1 L1690.1,1083.6 L1690.2,1088.1 L1690.2,1092.6 L1690.2,1097.1 L1690.2,1101.6 L1690.3,1106.1 L1690.3,1110.6 L1690.3,1115.1 L1690.3,1119.6 L1690.3,1124.1 L1690.4,1128.6 L1690.4,1133.1 L1690.4,1137.6 L1690.4,1142.1 L1690.5,1146.6 L1690.5,1151.1 L1690.5,1155.6 L1690.5,1160.1 L1690.6,1164.6 L1690.6,1169.1 L1690.6,1173.6 L1690.7,1178.0 L1692.6,1179.4 L1692.8,1175.1 L1692.8,1170.6 L1692.8,1166.1 L1692.8,1161.6 L1692.8,1157.1 L1692.8,1152.6 L1692.8,1148.1 L1692.8,1143.6 L1692.8,1139.1 L1692.8,1134.6 L1692.8,1130.1 L1692.8,1125.6 L1692.8,1121.1 L1692.8,1116.6 L1692.8,1112.1 L1692.8,1107.6 L1692.8,1103.1 L1692.8,1098.6 L1692.8,1094.1 L1692.8,1089.6 L1692.8,1085.1 L1692.8,1080.6 L1692.8,1076.1 L1692.8,1071.6 L1692.8,1067.1 L1692.8,1062.6 L1692.8,1058.1 L1692.9,1053.6 L1692.9,1049.1 L1692.9,1044.6 L1693.0,1040.1 L1693.0,1035.6 L1693.1,1031.1 L1693.2,1026.6 L1693.3,1022.1 L1693.4,1017.6 L1693.4,1013.1 L1693.5,1008.6 L1693.6,1004.1 L1693.7,999.6 L1693.8,995.1 L1693.9,990.6 L1693.9,986.1 L1694.0,981.6 L1694.1,977.1 L1694.2,972.6 L1694.3,968.1 L1694.3,963.6 L1694.4,959.1 L1694.5,954.6 L1694.6,950.1 L1694.7,945.6 L1694.8,941.1 L1694.9,936.6 L1695.0,932.1 L1695.1,927.6 L1695.2,923.1 L1695.4,918.6 L1695.6,914.1 L1695.8,909.6 L1696.0,905.1 L1696.1,900.6 L1696.3,896.1 L1696.5,891.6 L1696.7,887.1 L1696.9,882.7 L1697.1,878.2 L1697.3,873.7 L1697.5,869.2 L1697.7,864.7 L1697.9,860.2 L1698.1,855.7 L1698.3,851.2 L1698.5,846.7 L1698.7,842.2 L1698.9,837.7 L1699.1,833.2 L1699.3,828.7 L1699.4,824.2 L1699.6,819.7 L1699.8,815.2 L1700.0,810.7 L1700.1,806.2 L1700.2,801.7 L1700.4,797.2 L1700.5,792.7 L1700.7,788.2 L1700.8,783.7 L1701.0,779.2 L1701.1,774.7 L1701.3,770.2 L1701.4,765.7 L1701.5,761.2 L1701.7,756.7 L1701.8,752.2 L1702.0,747.7 L1702.1,743.2 L1702.3,738.7 L1702.4,734.2 L1702.6,729.7 L1702.7,725.2 L1702.9,720.7 L1703.1,716.2 L1703.2,711.7 L1703.4,707.2 L1703.6,702.7 L1703.8,698.2 L1704.1,693.8 L1704.3,689.3 L1704.5,684.8 L1704.7,680.3 L1704.9,675.8 L1705.2,671.3 L1705.5,666.8 L1705.8,662.3 L1706.1,657.8 L1706.5,653.3 L1706.8,648.8 L1707.2,644.3 L1707.5,639.9 L1707.9,635.4 L1708.4,630.9 L1708.9,626.4 L1709.5,622.0 L1710.2,617.5 L1710.9,613.1 L1711.5,608.6 L1712.1,604.2 L1712.7,599.7 L1713.1,595.2 L1713.5,590.8 L1713.7,586.3 L1714.0,581.8 L1714.2,577.3 L1714.6,572.8 L1715.0,568.3 L1715.5,563.9 L1716.2,559.5 L1717.0,555.0 L1717.8,550.6 L1718.7,546.2 L1719.6,541.8 L1720.5,537.4 L1721.5,533.0 L1722.4,528.6 L1723.4,524.2 L1724.4,519.8 L1725.4,515.4 L1726.5,511.0 L1727.6,506.7 L1728.8,502.3 L1730.0,498.0 L1731.2,493.7 L1732.6,489.4 L1733.9,485.1 L1735.2,480.8 L1736.6,476.5 L1738.0,472.2 L1739.4,468.0 L1741.1,463.8 L1742.9,459.8 L1745.0,455.9 L1747.4,452.1 L1749.9,448.4 L1752.5,444.8 L1755.3,441.3 L1758.2,438.1 L1761.4,435.2 L1764.9,432.9 L1768.7,431.2 L1772.7,430.2 L1776.8,429.9 L1780.8,430.5 L1784.6,431.8 L1788.1,433.9 L1791.0,436.7 L1793.6,440.0 L1795.9,443.7 L1797.9,447.7 L1799.8,451.7 L1801.6,455.9 L1803.3,460.0 L1805.0,464.2 L1806.6,468.4 L1808.1,472.6 L1809.6,476.9 L1810.9,481.1 L1812.2,485.5 L1813.5,489.8 L1814.7,494.1 L1815.8,498.5 L1817.0,502.8 L1818.1,507.2 L1819.2,511.5 L1820.3,515.9 L1821.3,520.3 L1822.4,524.7 L1823.4,529.0 L1824.4,533.4 L1825.3,537.8 L1826.2,542.2 L1827.1,546.7 L1828.0,551.1 L1828.8,555.5 L1829.7,559.9 L1830.5,564.3 L1831.2,568.8 L1832.0,573.2 L1832.7,577.7 L1833.4,582.1 L1834.1,586.5 L1834.8,591.0 L1835.5,595.4 L1836.3,599.9 L1837.0,604.3 L1837.7,608.8 L1838.3,613.2 L1839.0,617.7 L1839.6,622.1 L1840.2,626.6 L1840.8,631.0 L1841.3,635.5 L1841.9,640.0 L1842.4,644.5 L1842.9,648.9 L1843.5,653.4 L1844.0,657.9 L1844.5,662.3 L1845.1,666.8 L1845.6,671.3 L1846.1,675.7 L1846.6,680.2 L1847.1,684.7 L1847.6,689.2 L1848.0,693.6 L1848.4,698.1 L1848.7,702.6 L1849.0,707.1 L1849.2,711.6 L1849.5,716.1 L1849.7,720.6 L1849.9,725.1 L1850.1,729.6 L1850.3,734.1 L1850.5,738.6 L1850.7,743.1 L1850.9,747.6 L1851.1,752.1 L1851.3,756.6 L1851.5,761.1 L1851.7,765.5 L1851.9,770.0 L1852.1,774.5 L1852.3,779.0 L1852.5,783.5 L1852.7,788.0 L1852.9,792.5 L1853.1,797.0 L1853.3,801.5 L1853.5,806.0 L1853.7,810.5 L1853.9,815.0 L1854.1,819.5 L1854.2,824.0 L1854.3,828.5 L1854.4,833.0 L1854.5,837.5 L1854.6,842.0 L1854.7,846.5 L1854.8,851.0 L1854.9,855.5 L1855.0,860.0 L1855.1,864.5 L1855.1,869.0 L1855.2,873.5 L1855.3,878.0 L1855.4,882.5 L1855.5,887.0 L1855.6,891.5 L1855.7,896.0 L1855.8,900.5 L1855.9,905.0 L1856.0,909.5 L1856.1,914.0 L1856.2,918.5 L1856.3,923.0 L1856.4,927.5 L1856.4,932.0 L1856.5,936.5 L1856.6,941.0 L1856.7,945.5 L1856.8,950.0 L1856.9,954.5 L1857.0,959.0 L1857.1,963.5 L1857.2,968.0 L1857.3,972.5 L1857.4,977.0 L1857.5,981.5 L1857.6,986.0 L1857.7,990.5 L1857.7,995.0 L1857.8,999.5 L1857.9,1004.0 L1858.0,1008.5 L1858.1,1013.0 L1858.2,1017.5 L1858.3,1022.0 L1858.4,1026.5 L1858.5,1031.0 L1858.6,1035.5 L1858.7,1040.0 L1858.7,1044.5 L1858.8,1049.0 L1858.8,1053.5 L1858.9,1058.0 L1858.9,1062.5 L1858.9,1067.0 L1858.9,1071.5 L1859.0,1076.0 L1859.0,1080.5 L1859.0,1085.0 L1859.0,1089.5 L1859.1,1094.0 L1859.1,1098.5 L1859.1,1103.0 L1859.1,1107.5 L1859.2,1112.0 L1859.2,1116.5 L1859.2,1121.0 L1859.2,1125.5 L1859.3,1130.0 L1859.3,1134.5 L1859.3,1139.0 L1859.3,1143.5 L1859.4,1148.0 L1859.4,1152.5 L1859.4,1157.0 L1859.4,1161.5 L1859.5,1166.0 L1859.5,1170.5 L1859.5,1175.0 L1859.7,1179.3 L1862.9,1179.4 L1863.2,1175.1 L1863.2,1170.7 L1863.2,1166.2 L1863.2,1161.7 L1863.2,1157.1 L1863.2,1152.6 L1863.2,1148.1 L1863.2,1143.6 L1863.2,1139.1 L1863.2,1134.6 L1863.2,1130.1 L1863.2,1125.6 L1863.2,1121.1 L1863.2,1116.6 L1863.2,1112.1 L1863.2,1107.6 L1863.2,1103.1 L1863.2,1098.6 L1863.2,1094.1 L1863.2,1089.6 L1863.2,1085.1 L1863.2,1080.6 L1863.2,1076.1 L1863.2,1071.6 L1863.2,1067.1 L1863.2,1062.6 L1863.2,1058.1 L1863.2,1053.6 L1863.2,1049.1 L1863.2,1044.6 L1863.3,1040.1 L1863.3,1035.6 L1863.4,1031.1 L1863.4,1026.6 L1863.5,1022.1 L1863.5,1017.6 L1863.6,1013.1 L1863.6,1008.6 L1863.7,1004.1 L1863.7,999.6 L1863.8,995.1 L1863.8,990.6 L1863.9,986.1 L1863.9,981.6 L1864.0,977.1 L1864.0,972.6 L1864.1,968.1 L1864.1,963.6 L1864.2,959.1 L1864.2,954.6 L1864.3,950.1 L1864.3,945.6 L1864.4,941.1 L1864.5,936.6 L1864.5,932.1 L1864.6,927.6 L1864.6,923.1 L1864.7,918.6 L1864.7,914.1 L1864.8,909.6 L1864.8,905.1 L1864.9,900.6 L1865.0,896.1 L1865.1,891.6 L1865.2,887.1 L1865.3,882.6 L1865.4,878.1 L1865.6,873.6 L1865.8,869.1 L1865.9,864.6 L1866.1,860.1 L1866.3,855.6 L1866.4,851.1 L1866.6,846.6 L1866.7,842.1 L1866.9,837.6 L1867.1,833.1 L1867.2,828.6 L1867.4,824.1 L1867.6,819.6 L1867.7,815.1 L1867.9,810.6 L1868.1,806.1 L1868.2,801.6 L1868.4,797.2 L1868.5,792.7 L1868.7,788.2 L1868.9,783.7 L1869.0,779.2 L1869.2,774.7 L1869.4,770.2 L1869.5,765.7 L1869.7,761.2 L1869.9,756.7 L1870.0,752.2 L1870.2,747.7 L1870.3,743.2 L1870.5,738.7 L1870.7,734.2 L1870.8,729.7 L1871.0,725.2 L1871.2,720.7 L1871.3,716.2 L1871.5,711.7 L1871.8,707.2 L1872.0,702.7 L1872.4,698.2 L1872.8,693.8 L1873.3,689.3 L1873.8,684.8 L1874.4,680.3 L1875.0,675.9 L1875.6,671.4 L1876.3,667.0 L1876.9,662.5 L1877.6,658.1 L1878.3,653.6 L1879.0,649.2 L1879.7,644.7 L1880.3,640.3 L1881.0,635.8 L1881.6,631.4 L1882.2,626.9 L1882.8,622.4 L1883.4,618.0 L1884.0,613.5 L1884.6,609.1 L1885.2,604.6 L1885.8,600.1 L1886.4,595.7 L1887.0,591.2 L1887.5,586.8 L1888.1,582.3 L1888.7,577.8 L1889.3,573.4 L1889.9,568.9 L1890.5,564.4 L1891.1,560.0 L1891.7,555.5 L1892.3,551.1 L1892.9,546.6 L1893.5,542.1 L1894.1,537.7 L1894.7,533.2 L1895.3,528.8 L1895.9,524.3 L1896.5,519.8 L1897.1,515.4 L1897.7,510.9 L1898.3,506.5 L1898.9,502.0 L1899.7,497.6 L1900.7,493.2 L1901.9,488.9 L1903.3,484.7 L1904.8,480.5 L1906.6,476.4 L1908.4,472.3 L1910.4,468.3 L1912.5,464.3 L1914.6,460.3 L1916.8,456.4 L1919.0,452.5 L1921.5,448.8 L1924.1,445.3 L1927.1,442.0 L1930.3,439.0 L1933.7,436.2 L1937.4,433.8 L1941.2,431.9 L1945.3,430.4 L1949.4,429.5 L1953.6,429.1 L1957.8,429.5 L1961.9,430.5 L1965.9,432.1 L1969.9,434.1 L1973.6,436.4 L1977.3,439.0 L1980.8,441.7 L1984.2,444.6 L1987.4,447.7 L1990.6,450.9 L1993.5,454.2 L1996.3,457.7 L1999.0,461.3 L2001.6,465.0 L2004.0,468.8 L2006.4,472.6 L2008.6,476.5 L2010.7,480.4 L2012.7,484.5 L2014.6,488.5 L2016.5,492.6 L2018.4,496.7 L2020.2,500.8 L2022.0,504.9 L2023.9,509.0 L2025.6,513.2 L2027.4,517.3 L2029.2,521.4 L2031.0,525.6 L2032.7,529.7 L2034.5,533.9 L2036.3,538.0 L2038.1,542.1 L2039.8,546.3 L2041.6,550.4 L2043.4,554.5 L2045.1,558.7 L2046.8,562.9 L2048.5,567.0 L2050.1,571.2 L2051.7,575.4 L2053.3,579.6 L2054.9,583.9 L2056.5,588.1 L2058.1,592.3 L2059.7,596.5 L2061.4,600.6 L2063.1,604.8 L2064.8,608.9 L2066.7,613.0 L2068.6,617.1 L2070.6,621.1 L2072.7,625.1 L2074.9,629.0 L2077.0,633.0 L2079.2,636.9 L2081.4,640.9 L2083.6,644.5 L2087.0,642.9 L2090.7,640.3 L2094.3,637.7 L2097.8,635.0 L2100.8,631.8 L2103.3,628.2 L2105.5,624.3 L2107.6,620.5 L2109.7,616.5 L2111.9,612.6 L2114.2,608.8 L2116.7,605.1 L2119.3,601.4 L2121.9,597.7 L2124.5,594.0 L2127.1,590.4 L2129.7,586.7 L2132.2,583.0 L2134.8,579.3 L2137.3,575.5 L2139.8,571.8 L2142.3,568.0 L2144.8,564.3 L2147.3,560.5 L2149.8,556.8 L2152.2,553.1 L2154.7,549.3 L2157.2,545.6 L2159.7,541.8 L2162.2,538.1 L2164.7,534.3 L2167.2,530.6 L2169.7,526.8 L2172.2,523.1 L2174.7,519.4 L2177.2,515.6 L2179.8,511.9 L2182.3,508.2 L2184.9,504.5 L2187.5,500.8 L2190.1,497.2 L2192.8,493.6 L2195.5,490.0 L2198.3,486.4 L2201.1,483.0 L2204.1,479.6 L2207.2,476.3 L2210.3,473.1 L2213.5,469.9 L2216.7,466.8 L2220.0,463.7 L2223.3,460.7 L2226.7,457.7 L2230.1,454.8 L2233.6,452.0 L2237.2,449.3 L2240.8,446.7 L2244.6,444.3 L2248.4,442.0 L2252.4,439.9 L2256.4,438.0 L2260.6,436.4 L2264.8,434.9 L2269.1,433.6 L2273.5,432.4 L2277.8,431.3 L2282.2,430.3 L2286.6,429.4 L2291.0,428.5 L2295.4,427.8 L2299.9,427.2 L2304.3,426.7 L2308.7,426.4 L2312.9,426.1 L2316.7,425.9 L2320.0,425.8 L2322.6,425.7 L2331.3,425.7" stroke="#000000" stroke-width="12.5"/>
</g>
<rect x="286.5" y="88.0" width="2045.5" height="1090.0" fill="none" stroke="#262626" stroke-width="1.6"/>
<line x1="457.0" y1="1178.0" x2="457.0" y2="1158.0" stroke="#262626" stroke-width="1.6"/>
<line x1="457.0" y1="88.0" x2="457.0" y2="108.0" stroke="#262626" stroke-width="1.6"/>
<text transform="translate(380.05,1282.50) scale(0.9450,1)" font-size="90" fill="#262626">-150</text>
<line x1="741.1" y1="1178.0" x2="741.1" y2="1158.0" stroke="#262626" stroke-width="1.6"/>
<line x1="741.1" y1="88.0" x2="741.1" y2="108.0" stroke="#262626" stroke-width="1.6"/>
<text transform="translate(664.15,1282.50) scale(0.9450,1)" font-size="90" fill="#262626">-100</text>
<line x1="1025.2" y1="1178.0" x2="1025.2" y2="1158.0" stroke="#262626" stroke-width="1.6"/>
<line x1="1025.2" y1="88.0" x2="1025.2" y2="108.0" stroke="#262626" stroke-width="1.6"/>
<text transform="translate(969.51,1282.50) scale(0.9450,1)" font-size="90" fill="#262626">-50</text>
<line x1="1309.2" y1="1178.0" x2="1309.2" y2="1158.0" stroke="#262626" stroke-width="1.6"/>
<line x1="1309.2" y1="88.0" x2="1309.2" y2="108.0" stroke="#262626" stroke-width="1.6"/>
<text transform="translate(1288.99,1282.50) scale(0.9450,1)" font-size="90" fill="#262626">0</text>
<line x1="1593.3" y1="1178.0" x2="1593.3" y2="1158.0" stroke="#262626" stroke-width="1.6"/>
<line x1="1593.3" y1="88.0" x2="1593.3" y2="108.0" stroke="#262626" stroke-width="1.6"/>
<text transform="translate(1550.97,1282.50) scale(0.9450,1)" font-size="90" fill="#262626">50</text>
<line x1="1877.4" y1="1178.0" x2="1877.4" y2="1158.0" stroke="#262626" stroke-width="1.6"/>
<line x1="1877.4" y1="88.0" x2="1877.4" y2="108.0" stroke="#262626" stroke-width="1.6"/>
<text transform="translate(1812.54,1282.50) scale(0.9450,1)" font-size="90" fill="#262626">100</text>
<line x1="2161.5" y1="1178.0" x2="2161.5" y2="1158.0" stroke="#262626" stroke-width="1.6"/>
<line x1="2161.5" y1="88.0" x2="2161.5" y2="108.0" stroke="#262626" stroke-width="1.6"/>
<text transform="translate(2096.64,1282.50) scale(0.9450,1)" font-size="90" fill="#262626">150</text>
<line x1="286.5" y1="88.0" x2="306.5" y2="88.0" stroke="#262626" stroke-width="1.6"/>
<line x1="2332.0" y1="88.0" x2="2312.0" y2="88.0" stroke="#262626" stroke-width="1.6"/>
<text transform="translate(221.71,118.50) scale(0.9500,1)" font-size="90" fill="#262626">0</text>
<line x1="286.5" y1="306.0" x2="306.5" y2="306.0" stroke="#262626" stroke-width="1.6"/>
<line x1="2332.0" y1="306.0" x2="2312.0" y2="306.0" stroke="#262626" stroke-width="1.6"/>
<text transform="translate(150.48,336.50) scale(0.9500,1)" font-size="90" fill="#262626">-10</text>
<line x1="286.5" y1="524.0" x2="306.5" y2="524.0" stroke="#262626" stroke-width="1.6"/>
<line x1="2332.0" y1="524.0" x2="2312.0" y2="524.0" stroke="#262626" stroke-width="1.6"/>
<text transform="translate(150.48,554.50) scale(0.9500,1)" font-size="90" fill="#262626">-20</text>
<line x1="286.5" y1="742.0" x2="306.5" y2="742.0" stroke="#262626" stroke-width="1.6"/>
<line x1="2332.0" y1="742.0" x2="2312.0" y2="742.0" stroke="#262626" stroke-width="1.6"/>
<text transform="translate(150.48,772.50) scale(0.9500,1)" font-size="90" fill="#262626">-30</text>
<line x1="286.5" y1="960.0" x2="306.5" y2="960.0" stroke="#262626" stroke-width="1.6"/>
<line x1="2332.0" y1="960.0" x2="2312.0" y2="960.0" stroke="#262626" stroke-width="1.6"/>
<text transform="translate(150.48,990.50) scale(0.9500,1)" font-size="90" fill="#262626">-40</text>
<line x1="286.5" y1="1178.0" x2="306.5" y2="1178.0" stroke="#262626" stroke-width="1.6"/>
<line x1="2332.0" y1="1178.0" x2="2312.0" y2="1178.0" stroke="#262626" stroke-width="1.6"/>
<text transform="translate(150.48,1208.50) scale(0.9500,1)" font-size="90" fill="#262626">-50</text>
<text transform="translate(1010.63,1398.10) scale(0.9381,1)" font-size="105.5" fill="#000">Angle (degree)</text>
<text transform="translate(122.40,1243.40) rotate(-90) scale(1.0507,1)" font-size="99" fill="#000">Normalized array factor (dB)</text>
<rect x="293.8" y="1048.9" width="2030.5000000000002" height="99.09999999999991" fill="#fff" stroke="#262626" stroke-width="1.6"/>
<line x1="300" y1="1098" x2="374.4" y2="1098" stroke="#00ffff" stroke-width="12.5"/>
<text transform="translate(383.65,1127.30) scale(0.9440,1)" font-size="83" fill="#000">Uniform</text>
<line x1="668" y1="1098" x2="743" y2="1098" stroke="#008000" stroke-width="12.5"/>
<text transform="translate(745.77,1127.30) scale(0.9440,1)" font-size="83" fill="#000">IWO</text>
<line x1="921.8" y1="1098" x2="996.6" y2="1098" stroke="#7e2f8e" stroke-width="12.5"/>
<text transform="translate(1000.19,1127.30) scale(0.9440,1)" font-size="83" fill="#000">GWO</text>
<line x1="1207.2" y1="1098" x2="1281.1" y2="1098" stroke="#0000ff" stroke-width="12.5"/>
<text transform="translate(1285.64,1127.30) scale(0.9440,1)" font-size="83" fill="#000">MFO</text>
<line x1="1472.9" y1="1098" x2="1547.7" y2="1098" stroke="#ff00ff" stroke-width="12.5"/>
<text transform="translate(1553.63,1127.30) scale(0.9440,1)" font-size="83" fill="#000">AOA</text>
<line x1="1740" y1="1098" x2="1815" y2="1098" stroke="#ff0000" stroke-width="12.5"/>
<text transform="translate(1818.64,1127.30) scale(0.9440,1)" font-size="83" fill="#000">MPA</text>
<line x1="2007.3" y1="1098" x2="2081.4" y2="1098" stroke="#000000" stroke-width="12.5"/>
<text transform="translate(2086.23,1127.30) scale(0.9440,1)" font-size="83" fill="#000">AMPA</text>
<text transform="translate(1147.38,1532.80) scale(1.0317,1)" font-size="86.4" fill="#000">(<tspan font-weight="bold">a</tspan>)</text>
<g clip-path="url(#cb)" fill="none" stroke-linejoin="round" stroke-linecap="butt">
<path d="M342.3,2031.7 L361.9,2042.4 L381.6,2048.6 L401.3,2053.2 L421.0,2073.7 L440.6,2106.6 L460.3,2140.4 L480.0,2162.0 L499.7,2171.7 L519.3,2202.0 L539.0,2205.6 L558.7,2247.1 L578.4,2247.1 L598.0,2247.1 L617.7,2247.1 L637.4,2258.9 L657.1,2273.8 L676.7,2343.9 L696.4,2343.9 L716.1,2343.9 L735.8,2343.9 L755.4,2343.9 L775.1,2343.9 L794.8,2343.9 L814.5,2343.9 L834.1,2343.9 L853.8,2343.9 L873.5,2343.9 L893.1,2343.9 L912.8,2343.9 L932.5,2478.5 L952.2,2478.5 L971.8,2478.5 L991.5,2478.5 L1011.2,2478.5 L1030.9,2478.5 L1050.5,2478.5 L1070.2,2478.5 L1089.9,2478.5 L1109.6,2478.5 L1129.2,2478.5 L1148.9,2478.5 L1168.6,2478.5 L1188.3,2478.5 L1207.9,2478.5 L1227.6,2478.5 L1247.3,2478.5 L1267.0,2478.5 L1286.6,2612.6 L1306.3,2612.6 L1326.0,2612.6 L1345.6,2612.6 L1365.3,2612.6 L1385.0,2612.6 L1404.7,2612.6 L1424.3,2612.6 L1444.0,2612.6 L1463.7,2612.6 L1483.4,2612.6 L1503.0,2612.6 L1522.7,2612.6 L1542.4,2612.6 L1562.1,2612.6 L1581.7,2612.6 L1601.4,2612.6 L1621.1,2612.6 L1640.8,2612.6 L1660.4,2612.6 L1680.1,2612.6 L1699.8,2612.6 L1719.5,2612.6 L1739.1,2612.6 L1758.8,2612.6 L1778.5,2612.6 L1798.2,2612.6 L1817.8,2612.6 L1837.5,2612.6 L1857.2,2612.6 L1876.8,2612.6 L1896.5,2612.6 L1916.2,2612.6 L1935.9,2612.6 L1955.5,2612.6 L1975.2,2612.6 L1994.9,2612.6 L2014.6,2612.6 L2034.2,2612.6 L2053.9,2612.6 L2073.6,2612.6 L2093.3,2612.6 L2112.9,2612.6 L2132.6,2612.6 L2152.3,2612.6 L2172.0,2612.6 L2191.6,2612.6 L2211.3,2612.6 L2231.0,2612.6 L2250.7,2612.6 L2270.3,2612.6 L2290.0,2612.6" stroke="#008000" stroke-width="12.5"/>
<path d="M342.3,1936.3 L361.9,1936.3 L381.6,1936.3 L401.3,1941.4 L421.0,1941.4 L440.6,1941.4 L460.3,1941.4 L480.0,1941.4 L499.7,1978.6 L519.3,1978.6 L539.0,1978.6 L558.7,1978.6 L578.4,1978.6 L598.0,1978.6 L617.7,1978.6 L637.4,1978.6 L657.1,1978.6 L676.7,1978.6 L696.4,1978.6 L716.1,1978.6 L735.8,1978.6 L755.4,1978.6 L775.1,1978.6 L794.8,1978.6 L814.5,1978.6 L834.1,1978.6 L853.8,1978.6 L873.5,1978.6 L893.1,1978.6 L912.8,1978.6 L932.5,1978.6 L952.2,1978.6 L971.8,1978.6 L991.5,1978.6 L1011.2,1978.6 L1030.9,1978.6 L1050.5,1978.6 L1070.2,1978.6 L1089.9,1978.6 L1109.6,1978.6 L1129.2,1978.6 L1148.9,1978.6 L1168.6,1978.6 L1188.3,1978.6 L1207.9,1978.6 L1227.6,1978.6 L1247.3,1978.6 L1267.0,1978.6 L1286.6,1978.6 L1306.3,1978.6 L1326.0,1978.6 L1345.6,1978.6 L1365.3,2025.5 L1385.0,2025.5 L1404.7,2025.5 L1424.3,2025.5 L1444.0,2025.5 L1463.7,2025.5 L1483.4,2043.5 L1503.0,2043.5 L1522.7,2043.5 L1542.4,2043.5 L1562.1,2043.5 L1581.7,2043.5 L1601.4,2043.5 L1621.1,2299.2 L1640.8,2299.2 L1660.4,2299.2 L1680.1,2299.2 L1699.8,2299.2 L1719.5,2299.2 L1739.1,2299.2 L1758.8,2299.2 L1778.5,2299.2 L1798.2,2299.2 L1817.8,2299.2 L1837.5,2299.2 L1857.2,2299.2 L1876.8,2299.2 L1896.5,2299.2 L1916.2,2299.2 L1935.9,2299.2 L1955.5,2299.2 L1975.2,2299.2 L1994.9,2299.2 L2014.6,2299.2 L2034.2,2299.2 L2053.9,2299.2 L2073.6,2299.2 L2093.3,2299.2 L2112.9,2299.2 L2132.6,2299.2 L2152.3,2299.2 L2172.0,2299.2 L2191.6,2299.2 L2211.3,2299.2 L2231.0,2299.2 L2250.7,2299.2 L2270.3,2299.2 L2290.0,2299.2" stroke="#7e2f8e" stroke-width="12.5"/>
<path d="M342.3,1828.0 L361.9,1828.0 L381.6,1828.0 L401.3,1828.0 L421.0,1828.0 L440.6,1828.0 L460.3,1828.0 L480.0,2031.7 L499.7,2031.7 L519.3,2031.7 L539.0,2031.7 L558.7,2031.7 L578.4,2031.7 L598.0,2031.7 L617.7,2031.7 L637.4,2158.4 L657.1,2158.4 L676.7,2158.4 L696.4,2158.4 L716.1,2158.4 L735.8,2275.4 L755.4,2275.4 L775.1,2275.4 L794.8,2275.4 L814.5,2364.1 L834.1,2364.1 L853.8,2364.1 L873.5,2364.1 L893.1,2364.1 L912.8,2364.1 L932.5,2512.4 L952.2,2512.4 L971.8,2512.4 L991.5,2512.4 L1011.2,2512.4 L1030.9,2512.4 L1050.5,2512.4 L1070.2,2512.4 L1089.9,2554.9 L1109.6,2554.9 L1129.2,2554.9 L1148.9,2554.9 L1168.6,2554.9 L1188.3,2554.9 L1207.9,2554.9 L1227.6,2591.9 L1247.3,2591.9 L1267.0,2591.9 L1286.6,2591.9 L1306.3,2591.9 L1326.0,2591.9 L1345.6,2591.9 L1365.3,2603.4 L1385.0,2603.4 L1404.7,2603.4 L1424.3,2603.4 L1444.0,2603.4 L1463.7,2611.9 L1483.4,2611.9 L1503.0,2611.9 L1522.7,2611.9 L1542.4,2611.9 L1562.1,2611.9 L1581.7,2620.6 L1601.4,2620.6 L1621.1,2620.6 L1640.8,2620.6 L1660.4,2620.6 L1680.1,2620.6 L1699.8,2620.6 L1719.5,2620.6 L1739.1,2625.2 L1758.8,2625.2 L1778.5,2625.2 L1798.2,2625.2 L1817.8,2625.2 L1837.5,2625.2 L1857.2,2625.2 L1876.8,2625.2 L1896.5,2625.2 L1916.2,2625.2 L1935.9,2625.2 L1955.5,2625.2 L1975.2,2625.2 L1994.9,2625.2 L2014.6,2629.8 L2034.2,2629.8 L2053.9,2629.8 L2073.6,2629.8 L2093.3,2629.8 L2112.9,2629.8 L2132.6,2629.8 L2152.3,2629.8 L2172.0,2629.8 L2191.6,2629.8 L2211.3,2629.8 L2231.0,2629.8 L2250.7,2629.8 L2270.3,2629.8 L2290.0,2629.8" stroke="#0000ff" stroke-width="12.5"/>
<path d="M342.3,1926.5 L361.9,1926.5 L381.6,1926.5 L401.3,1926.5 L421.0,2061.7 L440.6,2061.7 L460.3,2061.7 L480.0,2061.7 L499.7,2061.7 L519.3,2061.7 L539.0,2061.7 L558.7,2061.7 L578.4,2061.7 L598.0,2061.7 L617.7,2061.7 L637.4,2061.7 L657.1,2061.7 L676.7,2061.7 L696.4,2061.7 L716.1,2061.7 L735.8,2061.7 L755.4,2061.7 L775.1,2061.7 L794.8,2131.5 L814.5,2131.5 L834.1,2131.5 L853.8,2131.5 L873.5,2131.5 L893.1,2131.5 L912.8,2131.5 L932.5,2131.5 L952.2,2297.0 L971.8,2297.0 L991.5,2297.0 L1011.2,2297.0 L1030.9,2297.0 L1050.5,2297.0 L1070.2,2297.0 L1089.9,2297.0 L1109.6,2297.0 L1129.2,2297.0 L1148.9,2297.0 L1168.6,2297.0 L1188.3,2297.0 L1207.9,2297.0 L1227.6,2297.0 L1247.3,2297.0 L1267.0,2297.0 L1286.6,2297.0 L1306.3,2297.0 L1326.0,2297.0 L1345.6,2297.0 L1365.3,2297.0 L1385.0,2297.0 L1404.7,2297.0 L1424.3,2297.0 L1444.0,2297.0 L1463.7,2297.0 L1483.4,2297.0 L1503.0,2297.0 L1522.7,2297.0 L1542.4,2297.0 L1562.1,2297.0 L1581.7,2297.0 L1601.4,2297.0 L1621.1,2297.0 L1640.8,2297.0 L1660.4,2297.0 L1680.1,2297.0 L1699.8,2297.0 L1719.5,2297.0 L1739.1,2297.0 L1758.8,2297.0 L1778.5,2297.0 L1798.2,2297.0 L1817.8,2297.0 L1837.5,2297.0 L1857.2,2297.0 L1876.8,2297.0 L1896.5,2297.0 L1916.2,2297.0 L1935.9,2297.0 L1955.5,2297.0 L1975.2,2297.0 L1994.9,2297.0 L2014.6,2297.0 L2034.2,2297.0 L2053.9,2297.0 L2073.6,2297.0 L2093.3,2297.0 L2112.9,2297.0 L2132.6,2297.0 L2152.3,2297.0 L2172.0,2297.0 L2191.6,2297.0 L2211.3,2297.0 L2231.0,2297.0 L2250.7,2297.0 L2270.3,2297.0 L2290.0,2297.0" stroke="#ff00ff" stroke-width="12.5"/>
<path d="M342.3,1912.7 L361.9,1912.7 L381.6,1912.7 L401.3,1912.7 L421.0,1912.7 L440.6,1912.7 L460.3,1912.7 L480.0,1992.2 L499.7,1992.2 L519.3,1992.2 L539.0,2007.1 L558.7,2094.3 L578.4,2094.3 L598.0,2094.3 L617.7,2094.3 L637.4,2094.3 L657.1,2094.3 L676.7,2230.2 L696.4,2230.2 L716.1,2230.2 L735.8,2230.2 L755.4,2230.2 L775.1,2230.2 L794.8,2230.2 L814.5,2281.0 L834.1,2281.0 L853.8,2281.0 L873.5,2281.0 L893.1,2281.0 L912.8,2281.0 L932.5,2281.0 L952.2,2281.0 L971.8,2281.0 L991.5,2281.0 L1011.2,2317.7 L1030.9,2352.3 L1050.5,2356.9 L1070.2,2357.4 L1089.9,2556.0 L1109.6,2556.0 L1129.2,2556.0 L1148.9,2556.0 L1168.6,2556.0 L1188.3,2556.0 L1207.9,2556.0 L1227.6,2556.0 L1247.3,2556.0 L1267.0,2556.0 L1286.6,2556.0 L1306.3,2556.0 L1326.0,2556.0 L1345.6,2557.5 L1365.3,2557.5 L1385.0,2557.5 L1404.7,2564.2 L1424.3,2564.2 L1444.0,2564.2 L1463.7,2564.2 L1483.4,2575.5 L1503.0,2575.5 L1522.7,2575.5 L1542.4,2575.5 L1562.1,2575.5 L1581.7,2575.5 L1601.4,2575.5 L1621.1,2575.5 L1640.8,2575.5 L1660.4,2601.6 L1680.1,2619.1 L1699.8,2635.0 L1719.5,2654.5 L1739.1,2662.7 L1758.8,2674.5 L1778.5,2679.6 L1798.2,2679.6 L1817.8,2679.6 L1837.5,2679.6 L1857.2,2680.6 L1876.8,2681.1 L1896.5,2682.2 L1916.2,2682.7 L1935.9,2683.2 L1955.5,2684.2 L1975.2,2689.3 L1994.9,2689.3 L2014.6,2689.3 L2034.2,2689.3 L2053.9,2689.3 L2073.6,2689.3 L2093.3,2689.3 L2112.9,2691.4 L2132.6,2691.4 L2152.3,2691.4 L2172.0,2691.4 L2191.6,2691.4 L2211.3,2693.4 L2231.0,2693.4 L2250.7,2693.4 L2270.3,2693.4 L2290.0,2693.4" stroke="#ff0000" stroke-width="12.5"/>
<path d="M342.3,1959.9 L361.9,2065.5 L381.6,2065.5 L401.3,2134.3 L421.0,2135.3 L440.6,2150.2 L460.3,2383.6 L480.0,2383.6 L499.7,2383.6 L519.3,2383.6 L539.0,2383.6 L558.7,2407.7 L578.4,2410.3 L598.0,2422.6 L617.7,2422.6 L637.4,2422.6 L657.1,2422.6 L676.7,2449.0 L696.4,2449.0 L716.1,2449.0 L735.8,2528.8 L755.4,2532.4 L775.1,2567.8 L794.8,2573.9 L814.5,2586.0 L834.1,2586.0 L853.8,2586.0 L873.5,2608.8 L893.1,2608.8 L912.8,2608.8 L932.5,2633.9 L952.2,2633.9 L971.8,2633.9 L991.5,2633.9 L1011.2,2652.4 L1030.9,2652.4 L1050.5,2652.4 L1070.2,2652.4 L1089.9,2663.2 L1109.6,2678.1 L1129.2,2678.1 L1148.9,2678.1 L1168.6,2678.1 L1188.3,2678.1 L1207.9,2678.1 L1227.6,2690.6 L1247.3,2691.9 L1267.0,2691.9 L1286.6,2691.9 L1306.3,2691.9 L1326.0,2691.9 L1345.6,2691.9 L1365.3,2691.9 L1385.0,2696.0 L1404.7,2696.0 L1424.3,2696.0 L1444.0,2696.0 L1463.7,2696.0 L1483.4,2703.2 L1503.0,2719.6 L1522.7,2732.9 L1542.4,2732.9 L1562.1,2732.9 L1581.7,2732.9 L1601.4,2732.9 L1621.1,2732.9 L1640.8,2732.9 L1660.4,2732.9 L1680.1,2732.9 L1699.8,2739.6 L1719.5,2739.6 L1739.1,2750.9 L1758.8,2750.9 L1778.5,2758.1 L1798.2,2758.1 L1817.8,2758.1 L1837.5,2758.1 L1857.2,2758.1 L1876.8,2758.1 L1896.5,2758.1 L1916.2,2760.6 L1935.9,2766.8 L1955.5,2766.8 L1975.2,2766.8 L1994.9,2766.8 L2014.6,2766.8 L2034.2,2766.8 L2053.9,2766.8 L2073.6,2766.8 L2093.3,2766.8 L2112.9,2766.8 L2132.6,2766.8 L2152.3,2766.8 L2172.0,2766.8 L2191.6,2766.8 L2211.3,2766.8 L2231.0,2776.6 L2250.7,2776.6 L2270.3,2776.6 L2290.0,2776.6" stroke="#000000" stroke-width="12.5"/>
</g>
<rect x="322.6" y="1709.0" width="1967.4" height="1128.6" fill="none" stroke="#262626" stroke-width="1.6"/>
<line x1="322.6" y1="2837.6" x2="322.6" y2="2817.6" stroke="#262626" stroke-width="1.6"/>
<line x1="322.6" y1="1709.0" x2="322.6" y2="1729.0" stroke="#262626" stroke-width="1.6"/>
<text transform="translate(299.71,2948.00) scale(0.9850,1)" font-size="95" fill="#262626">0</text>
<line x1="716.1" y1="2837.6" x2="716.1" y2="2817.6" stroke="#262626" stroke-width="1.6"/>
<line x1="716.1" y1="1709.0" x2="716.1" y2="1729.0" stroke="#262626" stroke-width="1.6"/>
<text transform="translate(669.52,2948.00) scale(0.9850,1)" font-size="95" fill="#262626">20</text>
<line x1="1109.6" y1="2837.6" x2="1109.6" y2="2817.6" stroke="#262626" stroke-width="1.6"/>
<line x1="1109.6" y1="1709.0" x2="1109.6" y2="1729.0" stroke="#262626" stroke-width="1.6"/>
<text transform="translate(1064.14,2948.00) scale(0.9850,1)" font-size="95" fill="#262626">40</text>
<line x1="1503.0" y1="2837.6" x2="1503.0" y2="2817.6" stroke="#262626" stroke-width="1.6"/>
<line x1="1503.0" y1="1709.0" x2="1503.0" y2="1729.0" stroke="#262626" stroke-width="1.6"/>
<text transform="translate(1456.52,2948.00) scale(0.9850,1)" font-size="95" fill="#262626">60</text>
<line x1="1896.5" y1="2837.6" x2="1896.5" y2="2817.6" stroke="#262626" stroke-width="1.6"/>
<line x1="1896.5" y1="1709.0" x2="1896.5" y2="1729.0" stroke="#262626" stroke-width="1.6"/>
<text transform="translate(1850.23,2948.00) scale(0.9850,1)" font-size="95" fill="#262626">80</text>
<line x1="2290.0" y1="2837.6" x2="2290.0" y2="2817.6" stroke="#262626" stroke-width="1.6"/>
<line x1="2290.0" y1="1709.0" x2="2290.0" y2="1729.0" stroke="#262626" stroke-width="1.6"/>
<text transform="translate(2217.99,2948.00) scale(0.9850,1)" font-size="95" fill="#262626">100</text>
<line x1="322.6" y1="1709.0" x2="342.6" y2="1709.0" stroke="#262626" stroke-width="1.6"/>
<line x1="2290.0" y1="1709.0" x2="2270.0" y2="1709.0" stroke="#262626" stroke-width="1.6"/>
<text transform="translate(213.24,1740.00) scale(0.9750,1)" font-size="95" fill="#262626">-1</text>
<line x1="322.6" y1="1965.5" x2="342.6" y2="1965.5" stroke="#262626" stroke-width="1.6"/>
<line x1="2290.0" y1="1965.5" x2="2270.0" y2="1965.5" stroke="#262626" stroke-width="1.6"/>
<text transform="translate(143.77,1996.50) scale(0.9750,1)" font-size="95" fill="#262626">-1.5</text>
<line x1="322.6" y1="2222.0" x2="342.6" y2="2222.0" stroke="#262626" stroke-width="1.6"/>
<line x1="2290.0" y1="2222.0" x2="2270.0" y2="2222.0" stroke="#262626" stroke-width="1.6"/>
<text transform="translate(213.24,2253.00) scale(0.9750,1)" font-size="95" fill="#262626">-2</text>
<line x1="322.6" y1="2478.5" x2="342.6" y2="2478.5" stroke="#262626" stroke-width="1.6"/>
<line x1="2290.0" y1="2478.5" x2="2270.0" y2="2478.5" stroke="#262626" stroke-width="1.6"/>
<text transform="translate(143.77,2509.50) scale(0.9750,1)" font-size="95" fill="#262626">-2.5</text>
<line x1="322.6" y1="2735.0" x2="342.6" y2="2735.0" stroke="#262626" stroke-width="1.6"/>
<line x1="2290.0" y1="2735.0" x2="2270.0" y2="2735.0" stroke="#262626" stroke-width="1.6"/>
<text transform="translate(213.24,2766.00) scale(0.9750,1)" font-size="95" fill="#262626">-3</text>
<text transform="translate(1094.85,3069.80) scale(1.0015,1)" font-size="112" fill="#000">Iterations</text>
<text transform="translate(113.80,2591.33) rotate(-90) scale(0.9428,1)" font-size="111.5" fill="#000">Best Costs (dB)</text>
<text transform="translate(327.19,1700.30) scale(1.0507,1)" font-size="106" fill="#262626">×</text>
<text transform="translate(400.64,1688.10) scale(0.9640,1)" font-size="94" fill="#262626">10</text>
<text transform="translate(491.67,1641.90) scale(0.9752,1)" font-size="75" fill="#262626">4</text>
<rect x="409.7" y="1714.5" width="1869.3" height="103.70000000000005" fill="#fff" stroke="#262626" stroke-width="1.6"/>
<line x1="415.7" y1="1766" x2="499.3" y2="1766" stroke="#008000" stroke-width="13"/>
<text transform="translate(505.77,1796.90) scale(1.0164,1)" font-size="88" fill="#000">IWO</text>
<line x1="702.4" y1="1766" x2="785.2" y2="1766" stroke="#7e2f8e" stroke-width="13"/>
<text transform="translate(789.59,1796.90) scale(1.0284,1)" font-size="88" fill="#000">GWO</text>
<line x1="1022.7" y1="1766" x2="1106.6" y2="1766" stroke="#0000ff" stroke-width="13"/>
<text transform="translate(1111.09,1796.90) scale(1.0309,1)" font-size="88" fill="#000">MFO</text>
<line x1="1322" y1="1766" x2="1405.3" y2="1766" stroke="#ff00ff" stroke-width="13"/>
<text transform="translate(1411.83,1796.90) scale(1.0124,1)" font-size="88" fill="#000">AOA</text>
<line x1="1621.4" y1="1766" x2="1706" y2="1766" stroke="#ff0000" stroke-width="13"/>
<text transform="translate(1709.61,1796.90) scale(1.0205,1)" font-size="88" fill="#000">MPA</text>
<line x1="1922.1" y1="1766" x2="2005.5" y2="1766" stroke="#000000" stroke-width="13"/>
<text transform="translate(2012.64,1796.90) scale(1.0064,1)" font-size="88" fill="#000">AMPA</text>
<text transform="translate(1143.85,3195.30) scale(1.0700,1)" font-size="84" fill="#000">(<tspan font-weight="bold">b</tspan>)</text>
</svg></body></html>
